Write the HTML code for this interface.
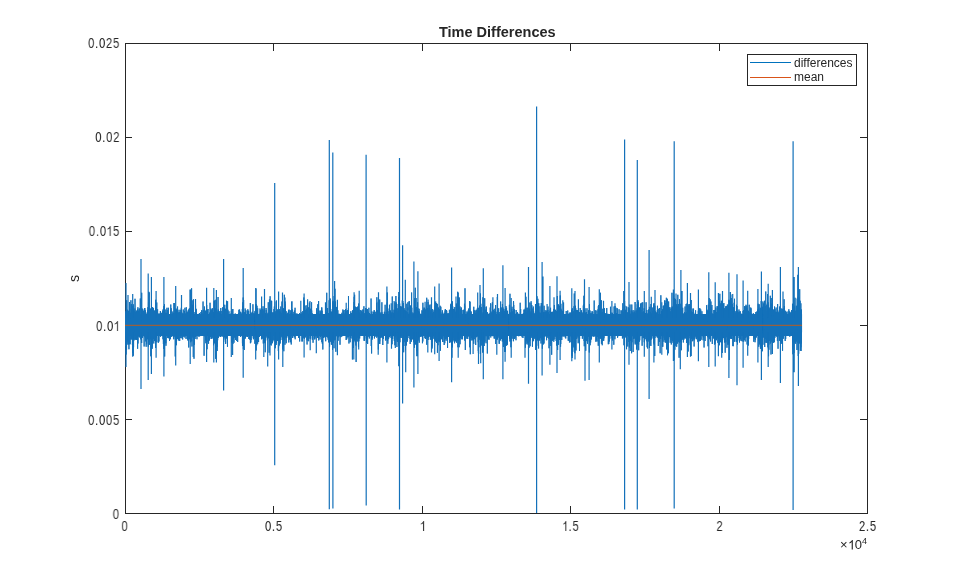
<!DOCTYPE html>
<html><head><meta charset="utf-8"><style>
html,body{margin:0;padding:0;background:#fff;width:959px;height:577px;overflow:hidden;position:relative}
.t{position:absolute;will-change:transform;font-family:"Liberation Sans",sans-serif;color:#262626;white-space:nowrap;line-height:1}
</style></head><body>
<svg width="959" height="577" viewBox="0 0 959 577" style="position:absolute;left:0;top:0">
<g stroke="#262626" stroke-width="1" fill="none" shape-rendering="crispEdges">
<path d="M125.5 43.5H867.5V513.5H125.5Z"/>
<path d="M125 137.5h7M125 231.5h7M125 325.5h7M125 419.5h7M860 137.5h7M860 231.5h7M860 325.5h7M860 419.5h7"/>
<path d="M273.5 513V506M273.5 44V51M422.5 513V506M422.5 44V51M570.5 513V506M570.5 44V51M719.5 513V506M719.5 44V51"/>
</g>
</svg>
<svg width="959" height="577" viewBox="0 0 959 577" style="position:absolute;left:0;top:0">
<rect x="125" y="314.0" width="677" height="22.0" fill="#1371BA"/>
<path transform="translate(125.5 0) scale(0.02968 0.25)" vector-effect="non-scaling-stroke" d="M0 1307l1 24 1-11 1-17 1-31 1 12 1 25 1-40 1 62 1-38 1 91 1-47 1-27 1-65 1 58 1 10 1-4 1 32 1-20 1-71 1 29 1 30 1 109 1-150 1 76 1-8 1 14 1-23 1 33 1-51 1-52 1 105 1-20 1-25 1-58 1 57 1 83 1-112 1 33 1-119 1 51 1 6 1 31 1 40 1 51 1-122 1 117 1-22 1-29 1-45 1 88 1-79 1-36 1 31 1 47 1-52 1-17 1 26 1 4 1 28 1 26 1-63 1 51 1 31 1-125 1 56 1 44 1-32 1 26 1 21 1-51 1-13 1 29 1 28 1-60 1 62 1-81 1 56 1-22 1 43 1-39 1-44 1 19 1 37 1-53 1 75 1-20 1-49 1 0 1 27 1 80 1-35 1-36 1-28 1 0 1 70 1-66 1 31 1 62 1-86 1 23 1 23 1-12 1-42 1-39 1 89 1-46 1-12 1 3 1 10 1 34 1-16 1 21 1 9 1-48 1 7 1 103 1-85 1-5 1 3 1 22 1-3 1-2 1 7 1 43 1-88 1-26 1 49 1-10 1-12 1-20 1-17 1 53 1-16 1-40 1 63 1 0 1-105 1 107 1-46 1 17 1-10 1-41 1 23 1 8 1 41 1 3 1-33 1 66 1-11 1-71 1 19 1 55 1-22 1-9 1-53 1 126 1-32 1-39 1-12 1 17 1-19 1 38 1-56 1 0 1 29 1-46 1 3 1 77 1-27 1 3 1-2 1-17 1-30 1 39 1-28 1 50 1-66 1 53 1-39 1 85 1-94 1 49 1-112 1 103 1-44 1 9 1-6 1 16 1-10 1 38 1 33 1-4 1-23 1-17 1 19 1-99 1 89 1 2 1-19 1-65 1 80 1-22 1 21 1 0 1-11 1-44 1 52 1 23 1-28 1 9 1 33 1 22 1-98 1 89 1-87 1 25 1 45 1-5 1-77 1-17 1 95 1-49 1-39 1 95 1-27 1-16 1-7 1 38 1-84 1-1 1 48 1-7 1 101 1-123 1 24 1 6 1 25 1-7 1 17 1-3 1 12 1-27 1-16 1 124 1-188 1 109 1-49 1 60 1-39 1-26 1-18 1 73 1-17 1-20 1 9 1-25 1-47 1 55 1 2 1 6 1-80 1 107 1 99 1-113 1-56 1 121 1-73 1-1 1 6 1-32 1-15 1 129 1-73 1-23 1-3 1 60 1 6 1 0 1-63 1-27 1 43 1-7 1 60 1-24 1-4 1-76 1 33 1 34 1-56 1-5 1 20 1-40 1 86 1 10 1-94 1 85 1 1 1-9 1 0 1-4 1-71 1 57 1-37 1 16 1 11 1 45 1-10 1-44 1 57 1-54 1-5 1 75 1-56 1 18 1-87 1 106 1-26 1 29 1-96 1 47 1-99 1 106 1 7 1 28 1-61 1-23 1 25 1-1 1 35 1 2 1-39 1-2 1 12 1 4 1 41 1-17 1-28 1 18 1 8 1-7 1-14 1 11 1-6 1 52 1 13 1-53 1-4 1 54 1 1 1-71 1 42 1-15 1 3 1-17 1 30 1-17 1 17 1-7 1 8 1-80 1 65 1-31 1-7 1 7 1-42 1 88 1-79 1 43 1 8 1 0 1-47 1 34 1 54 1-25 1 4 1 15 1-5 1-54 1 82 1-66 1 34 1-36 1 57 1-88 1-14 1 74 1-31 1 2 1 2 1 5 1 60 1-80 1 3 1 32 1-10 1-1 1 40 1-2 1-63 1-5 1 9 1 21 1-1 1 6 1 17 1-89 1 7 1 152 1-94 1 10 1-9 1-2 1-51 1 51 1 27 1-53 1-45 1 31 1 79 1-64 1 99 1-39 1-34 1-17 1 30 1-19 1 8 1-60 1 77 1 9 1-55 1 60 1-36 1 28 1-56 1-14 1 32 1-1 1 15 1 15 1 2 1-61 1 61 1-6 1-15 1-55 1 65 1 17 1-13 1-24 1-11 1 40 1 20 1-39 1 50 1-34 1-5 1-23 1 24 1 16 1-6 1-47 1-39 1 40 1 26 1 18 1 8 1-32 1 44 1-103 1 45 1 6 1 12 1-16 1 27 1-5 1-32 1 76 1-58 1 41 1-34 1 10 1-38 1 38 1 19 1 4 1-9 1-47 1 29 1 7 1 13 1-37 1 3 1 16 1 47 1-21 1-58 1-61 1-18 1 141 1-45 1 26 1 36 1-62 1 36 1 12 1-58 1-1 1 12 1 7 1-23 1 18 1 10 1-42 1 73 1-57 1 67 1 11 1-54 1-44 1 63 1-28 1 66 1-65 1 1 1-25 1 46 1-42 1 48 1-22 1-19 1 9 1 32 1 5 1-19 1 43 1-26 1 8 1-51 1 16 1 30 1-21 1-24 1 0 1 90 1-201 1 64 1 47 1-22 1 64 1 18 1-73 1 8 1 18 1 34 1-59 1 46 1-13 1 22 1-90 1 93 1-4 1-14 1 40 1-59 1 17 1-23 1 8 1-24 1 6 1 57 1-62 1 81 1-8 1-33 1-9 1-66 1 23 1 52 1-8 1 27 1-91 1 61 1-30 1 29 1 1 1-45 1 86 1-69 1 74 1-48 1-15 1 51 1-20 1-13 1-17 1-3 1 14 1-10 1 50 1-61 1 59 1-19 1-6 1-21 1 39 1-14 1-18 1 9 1 40 1-99 1 76 1-11 1-6 1-5 1 21 1-45 1-2 1 7 1-12 1 2 1 43 1 11 1-12 1-49 1 49 1-30 1 106 1-121 1 41 1-13 1-5 1 28 1 14 1-39 1 19 1-35 1 11 1 37 1-10 1-10 1-9 1-30 1 16 1 12 1-59 1 89 1-15 1-75 1 49 1-16 1 4 1 32 1-38 1 86 1-71 1 6 1 17 1 31 1-13 1-17 1 20 1-52 1 73 1-64 1 19 1 9 1-1 1-65 1 72 1-47 1 16 1 45 1-10 1-34 1-5 1-7 1 37 1-29 1 18 1 39 1-43 1 69 1-53 1-29 1 86 1-102 1 17 1 37 1 5 1-31 1-35 1 68 1-42 1 22 1 82 1-88 1 31 1-36 1-28 1 26 1 38 1-5 1-57 1 63 1-6 1-15 1-22 1 15 1-22 1-9 1 105 1-26 1-52 1 5 1 4 1-10 1-5 1 12 1-49 1 57 1-41 1 24 1-8 1 28 1-66 1 60 1 40 1-43 1 0 1 2 1-20 1 57 1-65 1 17 1-39 1 57 1-18 1-39 1 34 1-1 1 65 1-45 1 1 1-57 1 45 1-9 1-43 1 54 1-23 1 8 1 10 1-27 1 30 1-72 1 68 1-57 1 43 1-7 1 33 1 12 1-1 1-47 1 6 1 44 1-56 1 120 1-86 1 25 1-61 1 57 1-47 1-51 1-15 1 113 1-82 1 64 1 65 1-63 1 46 1-57 1-64 1 93 1-29 1-128 1 147 1 7 1 0 1-56 1 70 1-60 1-5 1 49 1 3 1-53 1 69 1-87 1 60 1 2 1 25 1-168 1 111 1 0 1 21 1-34 1 72 1-41 1 32 1 6 1 42 1-121 1 27 1 8 1 22 1 15 1-40 1 72 1-112 1 66 1-14 1-25 1 4 1 34 1-39 1 47 1-8 1-74 1 64 1-25 1 30 1-24 1-1 1 58 1-14 1-83 1 103 1-115 1 68 1-62 1 59 1 7 1 23 1 26 1-26 1-66 1 60 1-49 1 21 1 21 1 33 1 76 1-108 1 3 1-56 1 20 1 8 1 36 1-17 1 2 1-19 1 8 1-2 1-7 1 14 1-14 1-12 1 62 1-41 1-39 1 57 1-19 1-5 1-52 1 51 1 31 1-37 1 23 1 5 1 44 1-5 1-44 1 10 1-75 1 142 1-117 1-40 1 58 1 9 1 5 1-5 1-42 1 112 1-105 1-25 1 19 1 129 1-118 1 106 1-142 1 101 1 61 1-138 1 94 1-66 1 27 1-50 1 3 1 39 1-18 1 42 1-55 1 3 1-19 1-29 1 88 1 11 1-16 1-4 1-17 1-2 1 65 1-47 1 1 1-54 1 16 1-21 1 41 1 23 1-4 1 16 1-33 1 28 1 37 1-49 1-14 1 3 1-27 1 8 1-43 1 94 1-13 1-39 1-15 1-29 1 81 1 10 1-53 1 3 1 60 1-56 1 15 1 11 1 71 1-86 1 21 1-2 1 9 1-57 1 50 1-26 1 8 1 33 1-2 1-49 1 20 1 15 1-34 1 41 1-21 1-33 1 41 1-29 1 2 1 57 1-54 1-36 1 94 1-29 1 38 1-61 1 80 1-44 1-47 1 34 1-62 1-1 1 77 1-42 1 68 1-67 1 4 1 7 1-10 1 1 1 22 1 14 1-36 1 2 1 6 1-38 1 59 1 28 1-25 1 0 1-34 1 35 1 2 1 49 1-58 1-8 1 46 1-87 1-8 1 50 1-69 1 160 1-95 1-98 1 116 1 3 1-9 1 30 1-37 1-26 1 39 1 6 1-25 1-24 1 78 1-68 1-20 1 54 1-50 1 80 1 3 1-88 1 28 1 34 1 24 1 5 1-114 1 111 1-37 1-9 1-22 1 5 1 16 1-5 1 26 1-3 1-49 1-21 1 65 1-105 1 104 1-5 1 60 1-57 1-23 1 44 1-61 1 28 1-27 1-1 1 69 1-54 1 7 1 11 1-7 1 38 1-41 1 37 1-63 1 46 1-35 1 21 1-33 1 39 1-27 1-1 1 63 1-105 1 88 1 10 1-70 1-12 1 14 1 39 1-25 1 20 1-13 1 56 1-41 1-33 1 32 1-27 1 11 1-1 1-18 1 70 1-30 1 7 1-57 1 51 1-40 1 17 1-11 1 97 1-116 1 85 1-21 1-38 1 61 1-34 1-21 1 25 1-3 1 11 1-64 1 31 1 58 1-15 1-10 1-54 1 55 1 1 1-36 1 80 1-35 1-41 1-33 1 56 1-43 1-3 1 35 1 1 1 16 1-50 1-4 1 50 1 15 1-12 1-19 1-4 1-28 1 48 1-19 1 18 1-40 1 2 1 18 1 46 1-86 1 56 1-25 1-10 1 15 1 2 1 18 1-9 1-7 1-6 1 21 1-26 1-5 1 28 1-18 1 27 1-47 1 3 1 19 1-29 1 45 1-4 1-58 1 66 1 3 1 19 1-14 1 17 1 9 1 3 1-42 1 30 1-48 1 37 1-57 1-4 1 62 1-33 1-11 1 1 1 48 1-13 1-18 1 0 1-10 1 3 1 12 1 16 1 14 1-83 1 74 1-57 1 63 1-38 1-8 1-11 1 47 1-37 1 32 1-21 1-43 1 34 1 4 1 16 1 27 1-66 1 52 1 14 1-26 1-34 1 47 1-15 1 16 1-17 1-21 1-9 1-17 1 86 1-42 1-8 1 14 1-4 1-35 1 26 1 20 1-32 1 8 1 1 1-16 1 11 1 18 1-4 1-18 1 26 1-61 1 22 1 11 1 44 1 1 1-52 1 24 1-3 1-46 1 27 1 33 1-42 1 74 1-96 1 63 1 20 1 21 1 9 1-111 1-5 1 4 1 67 1-75 1 80 1-20 1 15 1-19 1 17 1-58 1 81 1 43 1-61 1-2 1 55 1-50 1 22 1 7 1-54 1 28 1-65 1 73 1-47 1 31 1-62 1 74 1 71 1-106 1-52 1-14 1 149 1-88 1 25 1-51 1 24 1-8 1-44 1 61 1 1 1 44 1-11 1-62 1 59 1-51 1 13 1-21 1 76 1-38 1-85 1 136 1-36 1-77 1 98 1-4 1 92 1-77 1-53 1 16 1 14 1-36 1 10 1-20 1-4 1 48 1-2 1-40 1 29 1-60 1 56 1-37 1 78 1-61 1 20 1-41 1 56 1-47 1 21 1-39 1 39 1 44 1 31 1-85 1 47 1 9 1-29 1-23 1 63 1 4 1-50 1 23 1-17 1-35 1 95 1-135 1 40 1 34 1 32 1 39 1-121 1 70 1-50 1 28 1 20 1-6 1 6 1-16 1-30 1-33 1 37 1 9 1 47 1-50 1 48 1-23 1-33 1 55 1-14 1-35 1 13 1 4 1-13 1 47 1-55 1 40 1-24 1 30 1-21 1 10 1-56 1 28 1-45 1-19 1 25 1 32 1-36 1 12 1 21 1 3 1 10 1-12 1 47 1-62 1 45 1-21 1-11 1 8 1-12 1 42 1 2 1 10 1-71 1 35 1 17 1-3 1-20 1 34 1 26 1-49 1-1 1-62 1 81 1-43 1 24 1-40 1 53 1 25 1-25 1-20 1-8 1 22 1-19 1 19 1-30 1 11 1-14 1 28 1 22 1-41 1-54 1 122 1-61 1-31 1 21 1 2 1-5 1 47 1-53 1 55 1-44 1 6 1-19 1 40 1 7 1-3 1-25 1-5 1 31 1-17 1 53 1-84 1 29 1-16 1 2 1-20 1 48 1-3 1 20 1-18 1 18 1 24 1-51 1-17 1 62 1-30 1 25 1-39 1-44 1 106 1-70 1-9 1 30 1-7 1-11 1 33 1-10 1-11 1-6 1 5 1-5 1-41 1 35 1 14 1-23 1 10 1 17 1-9 1-2 1 22 1 21 1-34 1 10 1-44 1 6 1 25 1-13 1 46 1-13 1-34 1 19 1 1 1 41 1-55 1 26 1-45 1 17 1 18 1-2 1-14 1-6 1-38 1-40 1 82 1 6 1 17 1-23 1-28 1 41 1 15 1-45 1 15 1-16 1-7 1 40 1-30 1-52 1 68 1 14 1-19 1 8 1-30 1 30 1 12 1-43 1 7 1 67 1-29 1-36 1 49 1-18 1-3 1-49 1 48 1-19 1 6 1 22 1-17 1 4 1 19 1-13 1-7 1 30 1-19 1-27 1 29 1-3 1 9 1 22 1-53 1-18 1 57 1-29 1 12 1-29 1 8 1-30 1 47 1-6 1-3 1-17 1 7 1-21 1 20 1 5 1-18 1 41 1-25 1 38 1-74 1 61 1-72 1 91 1-48 1 8 1-44 1 11 1 56 1-21 1-23 1-8 1-3 1 7 1 26 1 47 1-8 1-21 1-43 1-11 1 1 1 15 1 16 1-17 1 26 1-47 1 37 1-20 1 19 1 36 1 10 1 19 1-17 1-21 1-3 1-36 1 35 1-40 1 23 1 23 1-18 1-51 1 35 1 30 1-105 1 37 1 10 1-47 1 112 1-17 1-4 1-44 1 13 1-8 1 46 1 32 1-53 1-22 1 41 1-7 1 0 1 0 1-21 1 43 1-19 1-45 1 82 1-44 1-4 1 22 1-9 1 32 1 7 1-47 1 24 1-11 1-45 1 2 1 34 1 0 1-12 1 58 1-57 1 135 1-154 1 27 1 58 1-92 1 85 1-39 1 9 1-34 1 11 1-8 1-39 1 64 1-40 1 26 1-7 1 16 1-14 1-57 1 35 1 25 1 50 1-63 1 7 1 36 1 3 1-97 1 16 1 8 1 9 1 67 1-71 1 43 1 44 1-20 1-10 1-15 1 5 1 71 1-63 1 24 1-50 1 13 1-66 1 32 1 27 1 29 1 9 1-9 1-12 1-19 1-50 1 26 1-6 1-15 1 32 1-10 1 13 1 16 1 5 1-54 1 63 1-55 1 70 1-30 1 52 1-62 1-12 1 24 1-8 1 7 1-4 1-48 1 38 1 25 1 11 1-3 1 14 1-109 1 73 1 6 1 39 1-59 1 42 1 29 1-55 1 7 1 7 1 30 1-56 1 32 1 20 1-9 1-29 1 53 1-31 1 2 1 1 1-15 1-30 1 16 1-10 1 3 1 15 1 55 1-70 1 5 1-16 1-18 1 19 1-18 1 20 1 3 1-37 1 33 1 11 1-13 1 37 1 7 1-39 1 37 1-52 1 61 1-18 1 12 1-24 1 1 1-27 1-37 1 44 1 19 1-10 1 44 1-85 1 25 1 47 1 17 1-60 1-27 1 82 1-23 1-16 1 31 1 7 1-18 1-8 1 19 1-57 1 30 1 1 1 63 1-95 1 3 1 62 1-86 1 51 1-21 1 22 1-1 1-14 1 51 1-43 1 28 1 4 1-4 1 15 1-21 1-6 1 43 1-41 1-20 1 43 1-56 1 48 1-39 1 43 1-53 1-9 1 28 1 6 1 24 1-15 1 6 1-33 1 9 1 34 1-56 1 23 1-55 1 78 1-7 1-21 1 42 1-25 1-15 1-13 1-28 1 45 1 4 1-40 1 27 1 29 1 23 1 15 1-122 1 86 1-3 1 7 1-14 1 26 1-33 1 17 1-9 1 11 1-62 1 18 1 27 1-12 1 13 1-7 1-18 1 18 1 30 1-6 1-59 1 22 1 15 1 1 1-13 1 42 1-16 1-10 1-28 1-23 1 52 1 9 1-13 1-19 1 62 1-28 1-8 1 18 1-30 1 23 1 7 1-36 1-5 1 22 1-4 1-27 1 84 1-43 1 1 1-24 1 18 1-12 1-7 1-16 1 69 1-30 1 16 1-52 1-18 1 60 1-21 1 49 1-26 1-8 1 19 1-82 1-13 1 11 1 33 1 46 1-63 1 13 1 33 1-32 1 29 1 9 1-25 1-7 1 11 1-8 1 2 1 0 1-7 1 32 1 23 1-47 1-11 1 25 1-30 1-7 1 50 1 20 1-42 1-19 1 30 1-5 1-27 1-1 1 33 1-8 1-29 1 38 1-15 1 14 1-63 1 28 1 17 1 29 1-49 1 28 1 7 1-1 1 16 1-20 1 9 1-55 1 58 1-24 1 63 1-33 1 28 1-29 1-10 1-75 1 63 1-7 1-16 1 38 1-35 1 23 1 9 1 11 1-42 1 39 1 4 1-41 1 29 1-39 1 24 1 1 1 14 1 5 1-3 1 14 1-7 1 11 1-6 1-32 1 28 1-21 1 3 1 2 1-27 1 50 1-35 1 20 1-28 1 39 1 18 1-40 1 59 1-83 1 48 1 11 1-69 1 32 1-44 1 18 1-40 1 97 1-7 1-4 1-63 1 64 1-10 1-6 1-21 1 37 1-4 1-34 1 17 1-24 1 14 1 19 1 4 1-28 1 2 1 18 1 22 1-2 1-11 1-26 1 27 1 17 1-15 1-16 1 3 1-26 1 50 1-22 1 0 1-5 1 2 1 15 1-63 1 55 1 47 1-47 1-1 1 1 1 17 1-17 1 0 1-23 1-28 1 73 1-45 1-7 1 2 1 46 1 35 1-42 1-34 1-33 1 43 1-5 1 75 1-119 1-1 1 64 1 6 1 5 1-28 1-12 1 22 1 30 1 33 1-66 1-43 1 77 1-39 1-4 1 36 1-2 1-42 1 28 1 32 1-101 1 62 1-15 1 20 1 85 1-103 1 58 1-40 1 30 1-7 1-39 1 20 1 31 1-5 1-1 1-41 1 5 1-2 1 8 1-60 1 61 1 23 1-11 1-42 1-38 1-4 1 64 1 13 1-36 1 24 1-29 1 79 1-76 1 48 1-9 1 46 1-67 1 11 1 15 1-25 1-22 1 54 1-5 1 38 1-27 1-35 1 14 1-5 1-19 1-20 1 17 1-1 1-10 1 31 1-7 1 13 1-148 1 120 1 59 1 25 1-97 1 31 1 27 1-28 1 1 1-19 1 46 1-13 1-18 1 76 1-121 1-17 1 80 1-29 1 66 1-45 1-1 1-8 1-35 1 2 1 100 1-88 1 8 1-53 1 58 1-34 1 38 1-30 1-11 1 63 1 7 1-30 1-28 1-12 1-7 1 122 1-55 1 44 1-57 1 20 1-163 1 178 1-33 1-17 1 84 1-82 1 32 1-27 1 8 1 20 1-58 1 50 1 78 1-32 1-93 1 43 1 18 1-14 1 2 1-31 1 49 1-57 1-38 1 94 1-97 1 43 1 6 1-60 1 81 1 34 1 7 1-30 1-50 1-16 1 94 1-37 1 23 1-31 1-14 1 30 1 31 1-36 1 4 1 18 1-66 1 89 1-148 1 96 1 20 1-44 1 34 1-55 1 58 1-25 1 10 1 17 1 32 1-39 1-24 1 40 1-68 1-25 1-32 1 92 1 53 1-84 1 78 1 5 1-15 1-5 1-9 1 9 1-23 1 30 1-47 1 32 1 5 1 1 1 34 1-21 1 11 1 92 1-92 1-18 1 4 1 12 1-58 1 20 1 7 1-41 1 17 1 93 1-70 1-34 1 61 1-33 1 16 1 15 1-2 1-41 1 27 1-20 1-4 1 26 1-49 1 32 1 41 1-40 1 17 1 5 1 21 1-89 1 42 1-10 1-7 1-3 1-32 1 71 1 37 1-53 1 15 1-12 1 6 1-14 1 6 1 4 1-57 1 69 1-25 1-35 1 28 1-33 1 20 1-56 1 53 1 30 1-37 1 83 1-51 1 0 1 7 1 21 1-34 1 32 1-16 1-4 1-16 1 20 1-72 1 96 1-30 1-30 1-34 1 37 1 55 1-25 1 8 1-57 1 27 1-11 1 67 1-75 1 21 1 41 1-32 1 7 1 29 1-12 1-62 1 47 1 14 1-31 1 36 1 18 1-38 1 1 1 27 1-1 1-34 1 22 1 8 1 33 1-67 1 28 1-2 1-36 1 22 1 14 1-3 1-4 1 13 1 12 1-48 1 2 1 6 1 19 1-39 1 44 1-24 1 45 1-14 1-18 1-3 1-6 1-16 1-3 1-15 1 55 1-21 1 22 1-9 1-21 1 0 1 28 1-32 1 8 1-2 1-31 1 34 1-8 1-11 1 15 1 25 1-20 1 3 1-27 1 15 1 28 1-13 1-19 1 11 1 11 1-46 1 58 1-7 1-6 1-5 1-19 1 48 1-37 1 4 1 25 1-25 1 31 1-25 1-1 1 47 1-53 1 17 1-8 1 20 1-14 1-14 1-6 1 12 1 32 1-39 1 25 1 6 1-21 1-2 1 19 1-29 1-40 1 65 1-30 1 23 1-17 1-7 1 35 1-27 1 12 1-15 1 54 1-34 1-45 1 40 1 21 1 4 1-29 1-38 1 40 1-26 1 1 1 25 1 2 1 7 1-18 1 31 1-30 1-15 1 13 1 20 1-22 1-5 1-3 1 23 1 25 1 10 1-39 1-39 1 41 1-25 1 12 1 32 1-41 1-24 1 44 1 6 1-9 1 19 1-22 1-11 1 46 1-24 1-60 1 61 1-29 1 48 1-16 1-11 1 21 1-14 1 14 1-30 1 23 1 27 1-57 1 21 1-40 1 9 1-15 1 57 1-36 1-6 1 27 1 11 1 12 1-47 1 15 1 12 1 7 1-68 1 42 1-46 1 40 1 26 1-1 1 3 1-14 1 6 1-48 1 60 1-24 1-19 1 25 1 30 1-39 1 17 1-8 1-34 1 7 1-1 1 28 1 8 1-43 1 43 1-29 1 42 1-41 1-6 1 27 1-20 1 60 1-2 1-61 1 58 1-15 1 5 1-24 1-21 1 59 1 10 1-43 1-10 1-75 1-10 1 89 1-11 1 36 1-8 1-16 1-18 1 4 1 12 1 14 1 1 1-21 1 3 1-14 1 34 1-10 1-45 1 51 1 5 1-36 1 6 1 24 1 6 1-30 1 24 1-16 1 2 1 22 1-75 1 68 1-3 1 16 1-62 1 18 1 17 1 130 1-102 1-1 1 12 1-28 1-17 1 6 1 21 1 8 1-22 1-38 1 39 1-75 1 94 1-31 1 21 1 23 1-11 1-43 1 22 1-4 1-13 1-14 1 54 1-56 1 8 1 36 1-26 1 19 1-32 1 34 1 5 1 12 1 21 1-51 1-2 1-23 1 36 1-35 1-9 1 17 1 7 1 34 1 26 1-57 1-25 1 72 1-91 1 41 1 26 1 6 1 0 1-24 1-35 1 15 1 31 1 58 1-43 1 54 1-112 1 19 1 7 1 64 1-95 1 74 1-56 1-33 1 58 1 3 1 37 1-51 1 12 1-21 1 20 1 28 1-63 1 29 1 3 1-57 1 47 1 17 1-48 1 65 1-34 1-31 1 38 1 30 1-103 1 65 1 24 1-1 1-65 1 24 1 44 1-30 1 55 1-27 1 1 1-17 1-8 1 112 1-115 1 33 1-77 1 0 1 58 1 21 1-41 1-17 1-14 1 31 1-20 1-16 1 16 1 40 1 45 1-61 1-22 1 53 1 24 1-63 1 48 1-23 1-40 1 26 1 27 1-41 1 16 1 19 1-12 1 14 1-20 1 45 1-95 1 81 1 51 1-25 1-48 1-8 1 47 1-25 1 4 1 17 1-32 1 7 1 1 1-23 1-6 1 53 1-42 1 45 1 42 1-89 1 26 1 27 1-17 1-26 1 24 1-35 1-1 1 50 1-14 1-5 1 14 1-64 1 35 1 13 1-8 1-34 1 26 1 23 1 7 1 6 1-37 1-34 1 17 1-8 1 23 1 1 1 16 1-17 1 6 1 62 1-35 1-24 1-7 1 9 1-41 1 36 1 14 1 7 1-12 1-29 1-30 1 11 1-1 1 70 1-26 1 18 1-58 1 35 1-88 1 36 1 51 1 12 1 36 1-17 1-9 1-12 1-26 1 42 1-13 1-42 1 43 1 2 1 34 1-51 1-2 1-2 1 24 1-12 1-1 1 2 1-36 1-27 1 81 1 14 1-47 1 16 1 4 1-77 1 74 1-21 1 6 1-38 1 36 1 32 1 33 1-102 1 72 1-6 1-29 1-5 1 5 1 63 1-45 1-2 1 21 1-42 1-2 1-12 1-11 1 38 1 43 1-32 1-10 1 2 1 2 1-4 1 40 1-102 1 36 1 40 1-8 1 6 1-13 1-18 1-17 1 65 1-29 1 47 1-88 1 46 1-1 1 22 1-24 1-5 1 23 1 20 1-75 1 60 1-92 1 112 1-62 1 35 1-38 1 16 1-18 1 24 1 7 1 2 1-20 1 63 1-50 1 9 1 12 1-20 1 17 1 15 1-19 1-52 1 11 1-16 1 34 1 0 1 21 1-3 1-18 1 42 1-36 1 18 1-16 1 18 1-35 1-13 1-25 1 49 1-16 1 55 1-49 1 94 1-88 1 5 1-19 1 50 1-50 1-2 1 77 1-58 1 15 1-31 1-14 1 54 1-27 1 56 1 12 1-63 1 1 1-79 1-16 1 105 1-3 1-21 1-14 1 31 1 14 1 57 1-63 1-22 1 13 1-30 1-22 1 25 1-72 1 110 1-43 1 14 1 39 1 21 1-50 1-23 1 6 1 68 1-87 1 74 1-20 1-13 1-1 1-7 1 1 1 33 1 1 1-45 1-38 1 74 1-44 1 75 1-13 1 41 1-59 1-44 1 7 1 15 1 40 1-100 1 91 1 110 1-102 1 11 1-34 1-60 1 15 1-4 1-11 1 130 1-68 1-113 1 130 1 5 1-30 1 18 1-20 1-21 1 0 1 14 1-42 1 62 1-19 1 18 1-37 1 21 1-42 1 108 1-119 1 125 1-44 1-6 1-79 1 36 1 20 1-51 1-10 1 33 1 80 1-73 1 36 1-54 1 6 1 32 1 48 1-6 1-17 1-53 1-20 1 40 1 55 1-5 1 2 1-39 1 40 1-82 1 145 1-121 1 61 1-66 1 43 1-59 1 64 1-29 1-11 1 101 1-111 1 76 1-5 1-17 1-37 1 8 1 16 1 44 1-114 1 54 1 17 1 21 1-64 1-19 1 42 1 31 1-17 1-65 1 88 1-147 1 114 1 42 1-51 1 7 1 32 1-93 1 70 1-21 1 5 1-3 1 62 1-68 1-17 1 58 1-8 1-29 1-49 1 7 1 38 1 19 1-20 1 3 1 49 1-44 1 37 1-21 1-34 1 29 1 46 1-30 1-50 1 17 1 16 1-9 1 14 1 10 1 15 1-86 1 43 1 26 1-47 1 68 1-82 1 65 1-52 1 65 1-12 1-30 1 17 1 17 1-40 1 14 1-31 1-10 1 36 1-17 1 0 1 58 1-38 1 2 1 39 1-24 1 8 1 4 1-72 1 79 1-59 1 45 1-54 1 78 1-69 1-28 1 47 1 3 1-8 1 17 1-14 1 9 1-5 1 36 1-26 1 0 1-52 1 40 1 57 1-37 1-4 1-13 1-33 1 0 1 50 1 20 1-99 1 58 1 16 1-3 1-35 1 22 1 14 1 13 1-24 1-18 1 25 1-14 1-17 1 46 1-21 1 13 1-15 1 33 1-31 1-28 1 37 1-21 1 21 1-9 1-29 1 32 1-36 1 66 1-33 1 31 1-69 1 41 1 8 1-29 1 39 1 15 1-86 1 49 1 6 1-27 1 38 1-8 1-17 1 0 1 62 1-18 1-72 1 50 1-2 1-14 1-14 1 52 1 12 1-38 1-17 1 6 1 5 1-5 1 28 1-38 1-3 1-6 1-44 1 75 1-40 1 27 1-38 1 36 1 10 1 20 1-24 1 23 1 12 1-17 1 22 1-35 1-11 1 8 1 34 1-35 1-8 1 26 1 31 1-46 1 22 1-53 1-4 1-7 1 36 1 24 1-13 1-30 1-10 1 49 1 16 1-19 1-22 1 79 1-39 1-62 1 50 1-18 1 60 1-67 1-12 1-8 1 21 1-20 1 5 1 35 1 35 1-116 1 63 1-13 1 69 1-40 1 2 1 0 1 3 1-14 1 1 1-69 1 45 1 28 1 21 1-19 1-15 1-15 1-2 1-3 1 12 1 36 1-49 1 56 1-109 1 125 1-50 1 3 1 15 1 15 1 6 1-49 1 44 1-66 1 48 1-14 1-36 1 59 1-46 1 17 1 20 1 21 1-48 1 5 1 28 1 22 1-55 1-48 1 84 1-34 1-6 1 92 1-119 1 33 1 91 1-40 1-38 1-5 1-27 1 26 1 10 1-15 1-15 1 0 1 26 1-3 1 14 1-11 1-2 1 25 1-30 1 21 1-44 1 57 1-12 1 19 1-44 1 46 1-28 1 48 1-88 1 29 1-13 1-79 1 102 1 3 1-2 1-30 1 10 1-22 1 62 1-18 1-35 1-20 1 16 1 16 1 22 1 26 1 0 1-24 1 3 1-18 1-2 1 4 1-3 1 36 1-26 1 7 1-31 1 8 1 6 1 11 1-15 1 44 1-19 1 73 1-68 1-4 1-26 1-84 1 108 1-17 1-10 1 2 1 0 1 6 1 19 1-42 1 32 1-7 1 22 1-79 1 105 1-87 1 34 1 15 1-45 1 27 1-10 1-7 1 24 1 36 1-7 1 5 1-5 1-17 1 11 1-3 1-2 1-43 1 13 1 0 1-8 1 0 1 11 1 9 1 28 1-31 1-21 1-2 1 75 1-50 1 37 1-27 1-14 1 4 1-49 1 68 1-35 1 32 1-2 1-31 1-2 1 32 1 11 1-27 1 26 1-2 1 4 1-27 1-1 1 11 1-1 1-3 1 35 1 10 1-16 1 2 1-22 1-28 1 24 1-13 1-29 1 36 1-11 1 30 1-23 1 28 1 2 1-28 1 27 1-48 1 49 1-4 1-13 1 3 1-29 1 31 1-46 1 2 1 11 1 2 1 10 1 39 1 8 1-52 1 10 1 42 1-22 1-35 1 41 1-15 1-13 1 17 1-26 1 44 1-60 1 66 1-48 1 1 1 16 1-21 1 11 1 36 1-1 1-33 1 2 1 3 1 18 1-47 1 27 1 4 1-50 1 67 1-46 1 31 1-60 1 81 1-32 1 22 1-25 1 50 1-59 1 10 1-10 1 30 1-22 1-29 1 63 1-28 1 19 1 41 1 15 1-10 1 9 1-45 1-22 1-4 1 18 1-79 1 69 1-53 1 75 1-34 1 3 1 4 1 60 1-71 1 40 1-39 1 4 1-5 1 3 1 2 1 5 1 25 1-29 1 26 1 98 1-104 1 0 1-13 1 40 1-44 1 11 1-7 1 5 1-72 1 52 1 88 1-59 1-26 1 12 1 11 1-29 1 30 1-13 1-22 1 45 1-62 1 21 1-21 1 14 1 21 1-6 1 16 1 7 1-22 1-9 1 70 1-57 1 3 1 19 1-8 1-36 1-2 1 17 1-30 1 71 1-27 1-11 1-4 1 35 1 2 1 45 1-74 1-2 1 27 1-9 1-4 1 4 1-2 1-17 1 1 1 0 1-12 1 30 1-16 1 4 1-19 1 15 1-1 1 54 1-11 1-28 1-54 1 59 1-57 1 59 1 27 1-68 1-3 1 34 1-34 1 14 1-17 1 27 1 16 1 28 1-48 1-32 1 42 1-10 1-20 1 40 1-8 1-52 1 53 1 2 1 12 1-16 1 4 1-4 1-17 1 1 1 38 1-50 1 47 1 36 1-21 1-43 1-6 1 22 1-32 1 25 1 31 1-44 1-22 1 76 1-43 1 10 1-28 1-2 1 1 1 27 1-7 1 6 1-5 1-26 1 36 1-43 1 16 1 2 1 20 1 20 1-52 1-19 1 38 1 36 1-31 1-29 1 11 1 3 1-9 1 2 1 36 1-2 1 50 1-71 1 26 1-40 1 31 1 6 1-26 1-27 1 12 1 25 1 11 1 2 1-29 1 19 1-6 1-8 1 11 1 17 1 2 1-19 1-22 1 5 1 26 1 16 1-35 1-5 1-5 1 22 1-11 1-1 1-3 1 81 1-74 1 14 1-6 1 8 1 31 1-26 1-9 1 20 1-15 1-26 1 11 1 30 1-30 1 21 1-23 1 4 1 28 1-26 1 11 1-47 1 57 1 12 1-40 1 50 1-80 1 51 1-16 1-46 1 75 1-15 1-35 1-11 1 43 1 9 1-20 1 1 1-2 1-8 1-6 1-15 1-29 1 57 1-16 1 17 1 19 1-53 1 56 1-15 1 20 1-14 1-5 1-4 1-19 1 31 1-19 1 14 1-7 1 11 1-42 1 33 1-11 1-33 1 31 1 1 1-53 1 62 1 19 1 20 1-21 1-61 1 37 1 7 1-15 1 42 1-38 1-12 1 14 1 11 1-10 1-17 1 10 1-17 1 26 1 2 1 23 1-37 1-8 1 64 1-15 1 1 1-30 1 42 1-50 1 37 1-24 1-53 1 44 1 47 1-3 1 13 1-29 1 6 1-43 1-7 1 19 1 30 1-17 1-35 1 21 1-13 1-11 1 67 1-34 1 8 1-8 1-30 1 9 1 32 1-26 1-19 1 36 1 2 1-41 1 24 1-9 1 56 1-33 1-23 1 32 1 6 1-41 1 18 1-2 1-3 1 35 1 3 1-8 1-12 1 21 1-58 1 13 1 23 1-57 1 40 1 24 1-14 1-40 1 25 1 15 1 0 1 7 1 13 1 5 1-51 1 41 1-19 1-60 1 2 1 64 1-7 1 78 1-58 1 69 1-144 1 100 1-11 1 1 1 1 1-107 1 73 1 17 1 9 1 36 1-103 1-4 1 117 1-160 1 73 1-10 1 6 1 53 1-19 1-37 1 46 1-95 1-36 1 121 1-41 1 41 1 45 1-32 1-13 1 85 1-133 1 71 1-48 1 87 1-74 1-13 1 71 1-157 1 125 1-44 1 15 1 13 1-28 1-15 1 4 1 6 1 30 1-24 1 0 1 69 1-57 1 50 1-31 1-61 1 71 1-1 1-36 1 114 1-76 1-4 1 5 1-28 1-16 1 41 1 9 1-51 1 16 1 6 1 54 1 0 1-68 1-37 1 87 1-88 1 46 1-2 1 30 1-12 1-62 1 67 1-58 1 27 1 30 1-23 1 53 1-33 1 13 1 18 1-43 1-67 1 64 1 8 1 10 1-22 1-14 1 27 1 15 1-13 1-5 1 50 1-46 1-16 1 14 1 4 1-8 1 7 1-35 1 28 1 5 1-36 1 46 1 26 1-38 1-64 1 53 1 1 1 9 1 17 1-57 1 42 1 35 1-27 1-11 1 19 1-19 1-3 1 12 1 24 1-42 1 12 1-9 1-20 1 35 1-29 1 30 1-1 1-27 1-11 1-13 1 85 1-54 1 37 1-52 1 43 1-35 1 3 1 32 1-7 1 3 1-9 1-21 1 36 1-4 1-52 1 5 1 56 1-8 1-13 1-4 1 21 1 25 1-29 1-76 1 71 1 32 1-52 1 11 1-12 1 28 1-17 1 19 1-51 1 17 1-2 1 27 1-28 1 51 1-6 1-3 1-91 1 85 1 14 1-25 1 5 1-3 1 21 1-35 1-12 1 6 1-6 1-12 1 21 1-19 1 13 1 20 1-4 1 20 1-46 1 35 1-9 1-20 1-23 1 44 1 7 1-28 1-30 1 47 1-60 1 70 1-30 1 43 1-4 1 34 1-55 1-15 1 39 1-55 1 30 1 11 1 15 1-41 1 23 1-32 1 3 1 32 1-13 1 28 1-7 1-21 1 7 1 1 1-34 1-6 1 30 1-18 1 8 1 12 1 60 1-60 1-10 1 14 1-17 1-1 1 43 1-38 1 10 1 15 1-14 1-25 1 32 1 18 1-32 1 33 1-56 1 51 1-23 1 15 1 1 1-38 1-4 1-6 1 16 1-70 1 58 1 29 1 74 1-94 1-22 1 35 1 20 1-14 1-12 1 35 1-62 1 38 1 16 1 0 1-21 1-3 1 12 1 7 1 62 1-96 1 63 1-29 1-19 1 28 1-3 1 46 1-79 1 34 1-29 1 34 1-47 1-22 1 52 1 17 1-6 1-30 1 36 1-10 1 0 1 11 1-32 1 22 1 4 1-6 1-33 1 47 1-20 1 5 1-37 1 41 1-30 1 37 1-23 1 14 1-15 1-4 1 31 1-38 1 22 1-14 1 13 1 22 1 9 1-49 1-33 1-7 1 26 1-4 1 23 1 11 1-38 1 54 1-18 1-14 1 16 1 5 1-3 1 6 1-22 1 30 1-37 1-22 1 60 1 9 1-17 1-2 1-35 1 12 1-70 1 93 1-14 1 7 1 4 1-10 1-9 1 19 1 24 1 1 1-64 1 83 1-11 1-28 1-18 1-39 1 102 1-78 1 24 1 0 1 24 1-12 1 15 1 21 1-26 1-61 1 41 1 11 1-31 1 33 1-50 1 85 1-50 1-14 1-37 1 50 1-14 1 12 1 22 1-35 1-20 1 75 1-70 1 11 1 17 1-42 1 54 1-29 1 15 1 44 1-34 1-18 1-1 1 48 1-34 1-8 1 14 1-9 1-33 1 47 1-1 1-33 1 27 1 31 1 37 1-82 1-48 1 50 1-13 1 25 1-14 1-22 1 29 1-10 1-22 1-7 1 24 1 35 1-54 1 2 1 46 1-13 1-58 1 14 1 50 1-25 1 4 1-28 1 66 1-4 1 18 1 18 1-139 1 121 1-25 1-5 1-64 1 56 1-19 1-9 1 54 1-80 1-3 1 55 1-5 1-6 1 35 1-13 1 38 1 55 1-110 1-75 1 41 1 29 1 19 1-35 1 36 1-23 1-3 1-53 1 89 1-82 1 95 1-10 1-32 1-32 1 95 1-13 1-63 1 106 1-99 1 54 1-94 1 62 1-1 1-21 1-59 1 88 1-14 1 53 1-70 1 30 1-1 1 10 1 12 1 22 1-68 1 7 1 30 1-64 1 45 1 13 1-13 1-4 1-28 1 3 1 4 1 42 1-44 1 99 1-142 1 61 1 7 1-23 1-5 1 14 1 7 1 2 1 23 1-23 1 30 1-19 1-23 1-10 1 64 1-17 1 40 1-95 1 67 1 8 1-31 1 6 1-4 1 28 1-76 1-4 1 42 1 2 1 7 1 9 1 48 1-88 1 22 1-5 1 5 1 6 1-26 1-8 1 25 1 48 1-65 1 15 1 48 1-36 1 18 1-14 1-32 1 44 1-44 1 48 1-31 1-13 1 3 1 12 1 48 1-93 1 21 1 25 1 32 1 10 1-67 1 50 1-19 1 1 1-43 1 7 1 44 1-6 1-30 1 16 1 13 1-11 1-31 1 37 1-41 1 42 1 12 1-47 1 21 1-57 1 32 1 54 1 2 1-37 1 46 1-46 1 45 1-8 1-22 1 20 1 12 1-26 1-61 1 48 1-18 1 22 1-23 1-34 1 32 1 31 1-23 1 44 1-22 1-45 1 51 1-27 1-18 1 77 1-50 1-8 1 21 1-19 1-21 1 53 1-13 1 13 1 0 1 1 1-64 1 65 1-22 1 42 1-30 1 13 1-27 1-15 1 6 1 14 1 58 1-118 1 71 1-8 1 22 1-59 1 79 1-26 1 9 1-69 1 49 1 15 1-15 1-30 1 22 1 40 1-104 1 116 1-50 1 25 1-52 1 56 1-18 1 43 1-29 1-12 1-23 1 13 1 17 1-30 1-5 1-2 1-11 1-17 1 49 1-11 1 2 1-29 1 74 1-12 1-22 1-17 1-26 1 39 1 30 1-33 1-1 1 1 1 19 1-82 1 57 1 14 1-83 1 14 1 72 1-48 1 46 1 19 1-52 1 16 1 82 1-96 1 21 1 39 1-44 1 63 1-18 1-77 1 86 1-52 1 27 1 43 1-35 1-54 1 22 1 36 1-71 1 92 1-89 1 30 1 36 1 21 1-94 1 10 1 62 1-41 1-13 1-7 1 83 1-52 1-61 1 108 1-60 1 12 1 49 1-37 1-47 1 37 1-46 1 66 1 17 1-94 1 80 1 32 1-86 1 34 1 39 1-31 1 18 1-47 1 18 1 19 1 9 1-42 1 45 1 39 1-99 1 24 1 0 1-44 1 38 1 79 1-54 1-14 1-29 1 49 1 19 1 67 1-94 1-62 1 18 1-9 1 105 1-74 1 11 1 47 1-59 1 71 1-63 1 62 1-27 1-35 1 18 1-39 1-21 1 66 1-5 1-38 1-15 1 38 1-18 1 10 1 41 1-59 1-46 1 86 1-21 1-29 1 10 1 10 1-48 1 42 1 9 1 30 1-17 1 3 1-8 1-31 1-2 1 27 1-20 1 32 1 39 1-78 1 54 1 21 1-25 1-54 1 23 1 15 1-14 1 26 1 38 1-79 1 35 1-4 1 37 1-52 1 8 1 20 1 3 1-40 1 63 1-49 1-14 1-8 1 34 1 31 1-26 1-35 1 84 1-21 1 14 1-7 1-9 1-35 1-36 1 35 1 0 1-10 1-31 1 43 1 26 1-23 1 34 1 17 1-57 1-47 1 37 1-24 1 49 1-14 1 9 1-50 1 25 1 61 1-77 1 63 1-121 1 100 1 2 1 34 1-86 1 8 1 6 1 9 1-7 1 55 1-8 1 30 1-59 1 54 1-49 1-2 1-13 1 0 1-1 1 35 1 9 1-18 1-12 1-35 1 57 1 14 1 0 1-34 1 31 1 82 1-89 1-18 1-9 1 38 1-6 1-48 1 8 1 22 1-11 1 15 1-62 1 46 1-8 1 23 1 37 1-79 1 29 1 66 1-49 1-65 1 45 1-35 1 31 1-6 1-24 1 18 1 9 1-42 1 59 1 22 1 1 1-56 1-88 1 53 1 44 1-18 1 78 1-16 1-4 1-39 1-7 1 8 1 26 1 31 1-72 1 27 1 27 1-37 1 36 1-25 1 63 1-86 1 24 1-48 1 9 1 42 1 78 1-101 1-10 1 101 1-11 1-19 1 18 1-82 1-73 1 60 1 35 1 28 1-15 1-28 1 100 1-148 1 129 1-56 1 37 1-39 1-24 1 28 1-2 1 26 1-2 1-37 1-38 1 20 1-72 1 88 1 67 1-18 1-37 1-30 1 9 1-9 1 31 1 26 1-52 1 33 1-52 1 67 1-56 1 7 1 11 1-32 1 24 1 39 1-37 1-24 1 14 1 59 1-82 1 105 1 18 1-53 1-46 1 35 1 24 1-54 1 9 1 10 1 70 1-60 1-43 1-14 1 50 1 28 1-47 1 50 1-25 1-23 1 41 1-7 1-18 1-38 1 10 1 11 1-4 1-20 1 1 1 27 1 10 1 6 1-31 1 22 1-3 1-25 1-16 1 24 1 5 1-18 1 69 1-9 1-1 1-18 1 24 1-28 1-7 1 22 1-7 1 56 1-20 1-13 1-53 1 36 1-76 1 16 1 107 1-38 1-7 1-31 1 39 1-14 1 22 1-42 1-14 1 10 1-14 1-44 1 47 1 52 1-16 1 2 1 5 1-50 1-13 1 7 1 39 1 15 1 16 1-56 1 54 1-57 1-12 1 16 1 37 1 11 1-57 1 42 1-23 1-25 1 35 1-12 1 75 1 3 1-86 1 49 1-64 1 66 1 24 1 43 1-111 1 24 1-25 1 35 1-15 1 77 1 4 1-63 1-63 1 67 1-34 1 44 1-18 1 39 1-39 1 28 1-42 1-56 1 35 1 7 1 30 1-62 1 66 1-50 1 58 1-21 1 21 1 51 1-101 1-73 1 96 1 52 1-50 1 17 1 9 1-6 1-30 1-92 1 152 1-51 1 70 1-42 1-26 1 51 1-61 1-28 1 22 1 1 1 25 1-4 1-5 1-28 1 54 1-34 1-59 1 111 1-30 1-61 1 81 1-9 1-89 1 56 1-23 1 60 1-54 1 17 1-9 1 0 1 30 1 29 1-79 1 18 1-10 1 7 1 52 1-48 1-19 1 38 1 57 1-71 1 20 1-8 1 28 1-52 1 5 1-49 1 80 1-8 1-16 1-17 1 40 1-18 1-38 1 95 1-64 1 37 1-56 1 17 1-1 1-16 1 57 1-28 1 103 1-52 1-43 1 7 1 2 1-58 1 45 1 5 1 79 1-64 1-26 1-21 1 11 1 28 1 27 1-35 1-27 1 34 1 50 1-71 1-53 1 84 1-8 1-19 1 19 1-28 1-16 1 37 1-3 1 47 1-10 1 37 1-61 1-71 1 49 1-21 1 1 1 22 1-30 1-17 1 88 1 22 1-49 1 0 1 3 1-38 1-22 1-22 1 47 1 90 1-37 1-74 1 100 1-39 1-47 1 29 1-27 1-13 1 35 1 74 1-65 1 34 1-97 1 90 1-46 1 7 1 47 1 1 1-65 1 42 1-21 1-5 1-4 1 25 1-68 1 62 1 37 1-61 1 11 1 8 1-4 1-19 1-57 1 90 1-32 1 76 1-68 1-41 1 31 1 1 1 47 1-56 1-16 1 91 1-81 1 35 1-8 1-11 1 17 1 28 1-28 1 11 1-38 1 27 1 7 1-12 1 24 1 3 1-33 1 7 1-41 1 45 1 13 1-38 1 11 1 14 1-3 1 11 1 11 1 3 1-41 1 59 1-135 1 91 1-8 1 25 1-12 1 9 1-6 1 9 1 17 1-40 1-16 1-3 1-31 1 78 1-26 1-79 1 110 1-22 1-40 1 70 1 13 1-100 1 65 1 15 1 6 1-44 1 47 1 64 1-100 1 15 1-1 1 11 1-27 1 90 1-100 1 70 1-24 1-60 1 9 1-32 1 40 1-36 1-17 1 106 1-21 1-46 1 21 1-5 1 62 1-46 1-51 1 48 1 7 1 1 1-79 1 70 1-54 1 70 1 22 1-73 1 22 1-24 1 62 1 77 1-95 1-4 1-5 1-25 1-17 1-10 1 79 1-62 1 79 1-30 1-43 1-16 1 33 1 51 1-52 1-109 1 81 1-3 1 40 1 44 1-67 1-25 1 42 1 39 1-12 1-37 1-19 1 15 1 84 1-61 1 48 1-25 1-94 1 125 1-61 1 16 1-27 1 97 1-66 1-70 1 18 1 17 1-72 1 73 1 38 1-100 1 114 1-14 1-50 1 42 1 34 1-105 1 44 1 28 1-1 1-38 1 38 1-34 1 50 1-39 1 23 1 31 1-14 1-4 1-5 1 17 1-18 1-26 1 56 1-102 1 31 1 12 1-41 1 22 1-4 1 28 1-1 1 24 1-31 1 89 1-93 1 72 1-74 1 11 1 13 1-7 1 35 1-42 1-13 1 60 1-39 1 24 1-50 1 34 1-17 1-19 1-1 1 33 1 5 1 13 1-7 1 18 1 21 1-70 1 22 1 37 1-32 1 26 1-19 1 21 1-13 1-5 1-31 1-16 1 20 1 30 1-14 1-40 1 22 1-35 1 47 1 31 1-56 1 21 1 12 1 10 1-19 1 16 1-25 1 51 1-32 1 5 1-15 1 35 1-20 1 14 1-1 1-33 1 31 1-28 1 1 1 44 1-31 1-11 1-7 1-5 1 12 1 24 1-77 1 61 1-38 1 45 1-54 1-7 1 64 1 8 1 0 1-27 1-25 1 26 1-35 1 18 1 34 1-77 1 29 1 101 1-67 1-26 1 13 1-14 1 40 1-40 1-38 1 65 1 41 1-16 1-48 1 26 1-11 1 26 1-47 1 67 1-35 1 53 1-73 1 18 1 43 1-33 1 39 1-84 1 21 1-21 1 48 1-40 1 76 1-53 1-27 1 70 1-63 1 16 1 30 1 6 1-18 1-43 1 39 1-12 1-21 1 19 1 14 1 23 1-34 1-17 1-9 1 35 1 0 1-67 1 67 1 2 1-31 1-4 1 41 1 53 1-70 1 12 1-40 1 40 1 2 1 0 1-22 1-37 1 30 1-5 1 39 1-30 1 3 1 37 1-24 1-10 1 5 1 1 1-7 1-14 1 32 1 16 1-30 1 21 1-40 1 15 1 85 1-99 1 19 1-3 1 6 1-20 1 5 1-28 1 35 1 27 1 1 1-12 1-18 1 7 1 9 1 17 1-116 1 76 1 3 1 20 1 8 1-60 1 70 1-45 1-4 1 28 1-38 1 37 1-3 1-20 1-43 1 53 1 7 1 26 1-27 1-20 1 29 1 32 1-73 1 61 1-65 1-1 1 69 1-44 1 12 1 56 1-23 1-48 1 27 1 36 1-52 1 29 1-23 1 9 1-12 1-16 1-7 1 42 1-49 1 26 1 41 1-42 1 36 1-52 1 11 1-18 1-9 1 46 1-11 1-2 1-15 1 28 1 10 1 15 1-15 1 4 1-22 1-1 1-4 1-13 1 13 1 3 1-11 1 36 1 0 1-39 1-11 1 9 1 26 1-6 1-6 1-18 1-26 1 52 1 16 1 5 1-34 1 10 1-6 1-10 1 69 1-84 1-13 1 58 1-16 1-53 1 37 1 53 1-49 1-2 1 48 1-21 1 17 1-16 1 26 1-53 1 13 1 22 1-17 1 12 1-15 1 10 1-12 1 3 1 16 1 11 1-37 1-26 1 36 1-67 1 71 1 34 1-69 1 90 1-24 1-66 1 40 1 19 1-49 1 46 1-46 1 19 1-2 1 28 1-15 1 0 1-16 1 3 1-4 1 19 1-16 1-12 1 17 1 2 1 19 1-52 1 31 1-31 1 36 1 7 1-27 1 4 1-34 1 66 1-9 1-42 1 22 1 13 1-12 1 8 1 18 1-3 1 9 1-16 1-6 1-22 1 48 1-29 1 28 1-12 1-22 1-4 1 10 1 7 1 12 1-5 1 1 1-35 1 25 1 17 1-20 1 4 1 12 1 23 1-29 1 16 1 4 1-34 1 5 1-16 1 28 1-21 1 1 1 1 1 6 1 20 1-11 1-41 1 5 1-18 1 44 1-19 1 24 1 22 1-49 1 2 1 12 1-19 1 26 1 8 1-19 1-7 1 52 1-1 1-35 1 10 1-25 1-17 1-4 1 62 1-44 1 18 1 7 1 2 1-32 1 15 1 27 1 29 1-41 1-17 1 35 1-31 1 6 1 46 1-31 1 17 1-2 1-15 1 25 1-44 1 60 1-44 1 0 1-16 1 38 1-42 1 17 1-29 1 18 1 18 1 9 1-48 1 33 1-4 1-11 1 22 1-16 1-18 1 15 1-8 1-10 1 28 1-20 1 12 1-16 1 43 1-18 1-1 1 23 1-28 1-4 1 7 1-4 1 8 1 60 1-114 1 68 1 4 1-16 1-1 1-32 1 31 1-17 1 4 1 17 1-28 1 20 1-1 1-2 1 21 1-16 1-4 1-10 1-11 1-23 1 15 1 3 1 30 1 8 1-19 1-17 1 49 1-59 1 39 1 12 1 12 1-36 1 3 1 19 1-11 1-2 1-23 1 5 1 48 1-11 1-38 1 20 1 23 1-52 1 39 1-6 1-22 1 17 1-13 1 22 1-1 1-20 1 42 1-48 1 14 1 6 1-12 1 25 1-44 1 33 1-40 1 32 1-1 1-2 1-17 1 60 1-48 1-2 1 47 1-11 1-47 1 56 1-84 1 37 1 19 1 61 1-106 1 32 1 10 1-41 1 21 1 15 1-5 1 12 1 22 1-48 1 16 1 49 1-81 1 19 1 19 1-16 1 73 1-64 1 39 1-26 1 59 1-90 1 5 1-9 1 41 1-28 1 32 1-10 1-8 1 20 1-74 1 55 1-47 1 55 1 45 1-11 1-19 1-15 1 31 1-5 1-38 1 6 1 11 1-37 1 28 1-20 1 36 1-50 1 9 1-18 1 35 1 45 1-3 1-8 1-10 1-47 1 55 1-29 1-36 1 87 1-27 1-34 1 20 1-118 1 138 1-58 1 13 1 3 1-10 1-2 1 49 1-10 1-54 1 95 1-17 1-40 1-1 1-48 1 45 1-33 1 25 1-36 1 36 1-84 1 154 1-21 1-4 1-99 1 39 1 32 1 29 1-11 1 4 1-36 1 8 1 47 1-35 1-6 1 37 1-3 1-21 1-51 1-20 1 106 1-45 1-1 1 11 1-51 1-1 1 73 1-53 1 63 1-18 1 21 1-56 1 21 1-22 1 53 1-104 1 94 1-37 1-30 1 56 1-39 1 41 1 14 1-26 1-23 1 8 1-49 1 93 1-13 1-108 1 42 1 29 1 27 1-71 1 56 1 33 1-28 1 14 1-6 1-18 1-50 1 87 1-53 1 16 1-7 1-1 1 28 1-21 1 13 1-1 1 27 1 6 1-18 1-91 1 34 1 28 1-52 1 59 1 2 1 4 1-38 1 58 1-21 1-26 1 61 1-73 1 90 1-21 1-46 1 84 1-59 1-73 1 47 1-73 1 81 1-15 1-31 1 57 1-1 1 2 1-37 1 68 1-66 1 24 1-39 1 35 1-53 1 66 1-10 1 14 1-36 1 2 1 2 1-30 1 59 1 50 1-83 1 14 1-28 1 90 1-12 1-25 1-7 1 9 1-21 1-28 1 55 1-48 1 22 1 5 1 16 1-15 1-10 1-34 1 48 1 32 1-16 1-44 1 51 1 14 1-38 1-6 1 47 1-21 1 36 1-77 1-59 1 81 1-48 1 40 1-39 1 16 1 46 1-15 1-1 1-42 1 36 1-26 1-9 1 24 1-11 1-25 1 3 1 23 1 31 1 30 1-60 1-73 1 113 1-23 1-13 1 11 1-29 1 12 1-44 1 18 1 65 1-14 1-33 1 6 1 58 1-20 1-37 1 49 1 5 1-37 1 10 1-8 1 17 1 39 1-78 1 27 1 33 1-16 1-21 1-3 1-5 1 46 1 4 1-22 1-11 1-39 1 1 1 35 1-16 1 60 1-82 1 6 1-39 1 65 1 54 1-36 1-65 1 73 1-44 1-9 1 31 1-20 1-28 1 27 1-12 1 13 1 35 1-69 1 90 1-47 1-1 1 32 1-75 1 64 1-65 1 45 1 21 1 22 1-12 1 9 1-67 1 33 1-8 1 5 1-18 1 18 1-87 1 111 1-7 1-71 1 54 1 39 1-38 1-4 1-18 1 46 1-57 1 41 1 19 1-5 1-20 1 10 1 10 1-27 1 16 1-12 1-25 1 52 1 2 1-52 1 45 1 41 1-75 1 25 1-13 1-3 1-39 1 56 1-4 1-2 1-6 1 13 1-38 1 40 1-37 1 24 1 6 1 6 1-35 1 61 1-25 1 15 1-6 1-23 1-30 1 102 1-85 1 11 1 0 1-35 1 27 1 5 1 12 1 8 1-1 1-32 1 5 1-12 1 16 1-7 1 30 1-5 1-34 1 15 1 18 1 23 1-8 1-28 1 7 1-19 1 6 1 7 1 12 1-33 1 36 1-51 1 12 1 31 1 10 1-15 1 8 1-10 1-12 1 17 1 8 1-11 1 11 1-15 1 16 1-22 1 67 1-21 1-41 1 8 1 44 1-58 1 22 1-10 1-21 1 72 1-26 1-13 1 48 1-3 1-33 1-5 1-21 1 42 1 16 1-40 1-11 1 18 1-65 1 85 1-54 1 45 1-34 1-19 1 15 1 25 1-39 1 13 1 15 1-12 1 38 1-3 1-60 1 32 1-4 1-30 1 3 1 7 1-7 1 29 1 7 1 0 1-26 1-26 1 51 1 26 1-5 1-22 1-10 1-34 1 37 1 46 1-20 1-32 1 7 1 1 1-26 1 3 1 25 1 8 1 2 1 20 1-14 1-23 1 6 1 5 1-14 1 27 1-32 1 23 1 4 1 0 1-82 1 81 1-18 1-12 1 11 1-11 1 25 1-26 1 20 1-6 1 14 1-35 1 59 1-34 1-30 1 58 1-79 1 86 1-8 1 0 1-42 1 44 1-42 1 50 1-30 1-14 1 14 1-40 1 16 1 32 1 11 1-18 1-21 1 27 1-40 1 55 1 22 1-24 1-19 1-4 1-88 1 84 1 27 1-30 1-28 1 13 1 28 1-10 1 51 1-91 1 47 1-32 1-14 1 50 1-13 1 33 1-29 1-41 1 40 1 12 1 18 1-23 1-22 1 24 1 6 1-11 1-30 1 15 1-17 1 54 1-46 1 80 1-83 1 4 1-41 1 75 1 10 1-6 1-55 1 29 1-21 1 49 1-31 1 20 1-27 1 2 1 4 1-6 1-4 1-10 1 39 1 21 1-29 1-16 1 32 1-58 1 46 1-4 1-2 1-32 1-2 1 12 1 1 1 28 1-34 1-1 1 21 1-8 1 57 1-51 1 28 1-10 1-4 1-1 1 54 1-56 1-12 1-47 1 55 1 36 1-40 1 8 1 9 1 21 1-9 1-2 1-68 1 95 1-48 1-51 1 5 1 19 1 40 1-11 1 19 1-60 1 7 1 69 1-38 1 10 1 0 1-29 1 13 1 20 1-42 1 47 1 7 1-2 1 1 1-69 1 24 1-12 1 15 1-18 1 8 1-31 1 62 1-28 1 25 1 34 1-36 1-16 1 6 1 11 1-3 1 46 1-38 1 0 1 0 1-71 1 62 1 11 1-22 1-55 1 38 1 102 1-29 1-48 1 2 1-3 1 31 1-40 1-39 1 65 1 8 1 2 1-26 1 27 1 6 1 13 1-24 1-27 1 37 1 52 1-68 1 11 1-29 1 0 1-17 1 57 1-13 1-56 1 72 1 5 1-47 1-13 1 63 1-40 1 20 1 77 1-59 1-36 1-2 1-7 1 20 1 7 1-63 1 53 1-28 1 14 1-13 1 3 1 29 1-13 1 0 1-12 1 17 1-12 1 18 1-18 1 3 1 30 1-40 1 15 1 11 1 37 1-49 1-10 1 23 1-8 1-39 1 24 1-18 1 28 1 11 1-7 1 10 1 7 1-50 1 16 1-17 1 15 1-17 1 6 1 2 1 18 1 6 1 11 1-29 1 23 1 10 1 3 1-10 1-45 1 23 1-8 1-17 1 78 1-18 1-16 1-23 1 64 1-84 1 40 1 18 1-53 1 15 1 41 1 0 1-41 1 19 1-11 1-25 1 69 1-20 1-15 1-41 1 67 1-26 1-2 1 18 1-30 1 31 1-4 1-4 1-38 1 1 1 30 1-22 1 9 1 15 1-6 1-44 1 20 1 68 1-57 1 78 1-95 1 48 1-17 1 6 1-21 1 10 1 11 1-38 1 31 1 11 1-23 1 28 1-29 1 17 1 38 1-41 1 32 1-18 1 16 1 9 1-55 1 24 1-46 1 77 1-34 1 41 1-83 1 33 1-48 1 52 1-29 1-10 1 36 1 5 1-132 1 134 1 23 1-4 1-27 1-7 1 0 1-21 1 31 1 21 1-7 1-14 1-19 1 35 1-35 1 0 1 2 1 32 1-29 1-15 1 40 1-7 1-23 1 3 1 5 1 52 1-2 1-25 1-82 1 59 1-8 1 67 1-14 1-24 1-5 1-15 1 31 1-66 1 80 1-65 1-20 1 48 1 13 1 28 1-60 1 7 1 71 1-40 1-12 1-1 1-38 1 40 1-2 1-46 1 26 1 28 1 32 1-15 1 4 1-81 1 17 1 31 1-49 1 35 1 15 1 7 1 15 1-31 1-3 1 79 1-86 1 0 1-8 1 38 1 24 1-44 1-4 1 26 1 25 1 27 1-88 1-79 1 86 1-15 1 90 1-104 1 19 1-1 1 5 1-10 1 33 1 8 1-28 1 53 1-92 1 142 1-95 1-8 1-23 1 54 1 15 1-40 1-95 1 72 1 25 1-29 1 64 1 12 1-128 1 101 1-9 1 4 1-42 1-71 1 141 1-29 1 22 1-34 1-23 1 89 1-47 1-39 1 13 1 19 1-21 1 80 1-112 1 95 1-70 1 44 1-73 1-5 1 105 1-52 1-15 1 74 1-80 1 40 1-59 1 31 1 27 1-58 1 52 1-33 1 92 1-65 1-47 1 45 1 33 1 15 1-21 1-21 1-27 1 10 1 71 1-1 1 19 1-67 1 62 1-127 1 82 1-3 1-43 1 19 1 26 1-60 1 66 1-11 1-9 1-11 1-2 1-10 1-11 1 13 1 10 1 6 1 7 1-55 1 78 1-11 1-10 1 23 1-58 1-1 1-1 1-45 1 40 1 12 1-21 1 74 1-35 1 14 1-74 1 68 1 86 1-99 1-22 1-72 1 84 1 20 1-5 1-38 1 38 1 21 1-42 1 15 1 13 1-102 1 7 1 79 1-55 1 49 1 46 1-134 1 43 1 62 1-8 1-74 1 43 1 45 1 58 1-105 1 92 1-72 1-53 1 52 1 14 1-44 1 12 1 54 1 28 1-70 1 28 1-58 1 38 1-4 1 22 1-17 1 26 1 46 1-60 1-16 1-40 1 101 1 3 1 44 1-99 1 27 1-137 1 56 1 38 1 1 1 41 1-11 1 12 1-46 1-25 1 48 1 63 1-61 1-50 1 55 1-104 1 25 1 10 1 66 1-16 1 66 1-72 1-36 1 83 1-5 1-98 1 112 1-21 1-57 1 2 1-105 1 98 1 29 1 19 1 2 1-19 1-67 1 31 1 54 1 43 1-23 1 13 1 24 1-111 1 73 1-21 1-6 1 24 1-38 1-74 1 95 1 23 1-32 1 39 1-76 1 90 1-53 1-65 1 102 1 78 1-115 1 19 1 26 1-31 1-6 1 21 1 24 1-64 1 39 1-22 1-14 1-23 1 74 1-56 1-42 1 40 1 16 1 43 1-90 1 63 1-26 1 26 1-80 1 115 1-66 1-12 1 42 1-21 1 28 1-8 1 1 1 0 1 6 1-20 1 50 1-34 1-25 1 22 1-50 1 86 1-23 1-28 1-23 1 43 1-49 1 18 1 17 1 7 1 6 1 5 1-58 1 37 1 28 1 7 1-52 1 73 1-62 1 35 1-50 1 31 1-28 1-19 1 51 1 3 1-57 1 39 1 8 1-61 1 54 1-7 1 15 1 14 1-49 1 6 1 62 1-56 1 83 1-63 1 14 1-30 1-2 1 5 1 38 1-57 1 80 1-62 1 63 1-38 1-37 1-17 1 29 1 54 1-72 1 48 1-36 1 30 1 1 1 20 1-55 1 34 1 24 1-15 1-13 1 28 1-29 1 20 1-70 1 58 1 33 1-71 1 28 1 30 1-52 1-7 1 21 1 0 1-21 1 17 1 25 1 24 1-23 1-2 1-23 1-7 1 16 1-12 1 42 1-12 1-24 1 4 1-4 1 5 1-18 1 22 1 26 1-66 1 8 1 30 1 18 1-22 1 81 1-86 1 12 1-10 1 10 1 18 1 12 1-59 1 32 1 17 1-14 1-22 1 4 1-8 1-19 1 11 1 49 1-25 1 35 1-46 1 7 1 10 1-23 1 65 1-52 1-30 1 42 1 10 1-46 1 35 1-11 1 27 1-30 1-20 1 32 1-24 1 10 1-5 1 20 1-9 1 8 1-26 1 22 1 14 1-14 1 1 1 39 1-72 1 32 1 5 1-25 1 9 1 19 1-25 1 31 1 11 1-17 1 37 1-35 1-33 1 12 1 30 1-32 1 37 1-75 1 54 1-10 1-16 1 23 1-1 1-23 1 35 1-5 1-15 1 19 1-5 1-1 1 7 1-32 1 15 1 16 1-28 1 36 1-22 1-16 1 24 1-24 1 4 1 11 1 15 1-37 1 37 1-25 1 11 1 31 1-74 1-17 1 79 1-11 1 13 1-40 1 35 1 13 1-20 1-6 1 7 1 0 1-21 1-8 1-9 1 10 1 30 1-18 1 42 1-34 1 4 1 7 1-60 1-9 1 52 1-1 1-22 1 43 1-34 1-6 1-12 1 50 1 20 1-23 1-12 1 9 1 4 1-12 1 6 1-4 1 11 1-43 1-12 1 31 1 47 1-59 1 29 1 10 1-21 1 13 1 6 1-49 1 48 1-1 1 2 1-49 1 40 1 1 1 35 1-5 1-20 1-48 1 17 1 12 1 8 1-19 1-1 1 12 1 10 1-65 1 29 1 37 1-19 1-6 1 34 1-39 1-25 1 21 1 58 1-34 1-31 1 23 1 7 1 35 1-54 1 20 1-3 1-18 1 16 1 6 1-17 1 39 1-2 1-81 1 50 1-11 1-4 1 2 1 17 1 39 1-37 1 31 1-55 1 23 1-48 1 73 1 5 1-17 1-42 1 82 1-51 1 67 1-36 1-18 1 18 1-31 1 39 1-21 1-18 1 11 1-1 1-8 1 10 1 28 1-56 1-8 1 31 1-1 1-10 1-11 1-17 1 15 1 18 1-17 1 80 1-35 1-45 1 71 1-43 1-61 1 75 1-8 1-14 1 20 1 33 1-55 1-37 1 30 1 1 1 15 1-12 1 15 1-33 1 27 1 5 1-66 1 40 1 22 1 0 1-2 1 20 1-48 1 69 1-92 1 61 1-18 1 1 1-47 1 63 1 8 1-27 1-4 1 19 1 14 1-65 1 52 1 7 1 5 1-32 1 7 1-12 1 68 1-51 1 17 1 5 1-87 1 54 1 13 1-36 1 44 1-124 1 93 1 32 1-12 1 32 1 5 1-33 1 1 1-11 1 19 1 2 1 32 1-43 1-3 1-24 1 18 1 82 1-69 1-11 1-14 1 47 1-11 1 29 1-6 1-38 1-33 1 35 1 3 1 12 1-14 1-33 1 37 1-11 1-23 1 48 1-33 1-19 1 13 1 50 1-67 1 29 1 24 1 2 1-9 1-7 1-31 1-3 1 33 1-27 1 16 1 44 1-28 1-50 1 33 1 29 1 23 1 25 1-40 1-20 1-3 1 23 1 3 1-49 1-8 1 62 1-22 1 2 1-9 1-4 1-22 1 26 1-43 1 75 1-37 1-6 1 4 1-22 1 73 1-34 1-73 1 47 1 41 1 2 1-1 1-80 1 52 1 5 1-29 1-19 1 57 1-2 1-5 1-21 1-2 1 7 1-43 1 84 1-1 1-41 1 30 1-71 1 66 1-21 1-39 1 74 1-83 1 55 1 0 1-14 1 3 1-2 1 16 1-56 1 38 1-10 1 3 1 44 1-4 1-49 1 17 1 42 1-52 1 26 1 46 1-85 1 31 1-17 1 13 1-15 1 17 1-2 1-4 1 145 1-135 1 2 1 24 1-28 1-60 1 48 1 59 1-35 1-34 1 45 1 28 1-75 1 30 1-3 1 26 1 12 1-48 1 28 1-4 1 5 1-36 1 27 1-2 1-36 1-31 1 109 1-101 1 95 1-30 1-59 1 133 1-119 1 21 1 2 1-25 1 31 1-46 1 36 1 6 1-1 1 6 1 6 1 19 1-8 1 46 1-90 1-30 1-2 1 43 1 72 1-67 1 23 1-19 1-6 1-65 1 114 1-78 1-53 1 143 1-164 1 67 1-19 1 24 1 14 1-37 1 13 1 50 1 45 1 14 1-115 1 48 1-22 1 70 1-1 1-159 1 168 1 15 1-11 1-27 1-7 1-63 1-27 1 19 1 79 1-62 1 8 1 67 1-112 1 86 1 6 1-13 1 34 1-94 1 98 1-52 1-56 1 134 1-38 1-16 1-56 1-17 1 107 1-20 1-99 1 95 1 27 1-28 1 6 1-23 1-42 1 7 1 31 1-3 1-13 1-15 1 110 1-124 1 58 1-7 1 25 1-48 1 46 1-11 1-89 1 216 1-131 1-51 1-38 1 85 1 5 1-30 1 32 1-31 1 42 1-70 1 87 1-37 1 30 1 17 1-76 1 48 1 31 1-61 1-53 1 39 1 49 1-31 1 8 1-19 1 17 1-8 1-17 1 12 1 12 1-9 1 35 1-22 1 23 1-52 1-2 1 23 1 9 1 52 1-70 1 33 1-52 1 41 1-3 1-1 1-59 1 38 1 56 1-63 1 8 1 2 1-13 1-54 1 66 1-12 1-57 1 64 1-22 1 71 1-67 1 37 1 1 1-17 1-32 1 43 1-22 1 25 1-4 1-25 1-4 1 10 1 33 1-24 1 57 1-61 1 19 1-34 1-18 1 82 1 49 1-102 1 39 1-41 1 39 1-17 1-91 1 104 1-23 1-3 1 39 1 9 1-69 1 94 1-44 1-71 1-12 1 53 1 13 1-1 1-16 1 8 1-38 1 30 1-38 1 14 1-9 1 45 1-38 1 50 1-4 1-35 1 11 1 8 1 26 1-26 1-32 1 9 1 29 1-17 1 0 1 74 1-52 1 28 1-36 1-35 1 36 1 1 1 11 1 24 1-57 1 37 1 5 1 28 1-38 1-12 1 48 1-71 1 28 1 17 1 12 1-88 1 41 1 9 1 34 1-41 1 45 1 2 1-31 1 28 1-33 1 12 1 28 1-20 1-10 1-17 1-18 1-8 1 52 1 11 1-15 1 9 1-18 1 17 1-20 1 1 1-12 1 24 1-7 1-19 1 2 1 6 1-11 1-3 1 32 1-32 1 33 1-69 1 44 1-20 1 37 1-26 1 9 1 25 1-5 1-36 1 18 1 5 1-4 1-20 1 27 1 7 1-21 1 20 1 21 1-60 1 37 1-24 1-13 1 36 1-37 1-11 1 79 1-33 1 5 1 27 1-34 1-8 1-26 1 51 1-30 1 4 1-2 1-35 1 37 1 9 1-1 1 22 1 26 1-61 1 46 1-49 1 28 1-5 1 23 1-86 1 62 1 41 1-45 1-3 1-19 1 10 1 33 1 1 1-26 1 38 1-3 1-33 1-11 1 47 1 4 1-22 1-32 1 6 1 17 1-40 1 42 1 9 1 3 1-20 1 3 1 39 1-100 1 53 1 17 1-12 1 32 1 9 1-1 1-6 1-50 1 36 1-65 1 65 1-92 1 74 1 0 1-41 1 105 1-52 1 30 1-48 1 17 1-11 1-33 1 32 1 28 1-30 1 10 1-24 1-9 1 4 1 35 1-44 1 5 1-1 1 16 1-12 1 87 1-66 1 1 1 2 1-18 1 6 1 17 1 5 1-56 1 15 1 50 1-12 1-17 1 15 1-36 1 22 1 40 1-21 1 33 1-76 1-15 1 63 1 3 1-27 1 1 1 38 1-10 1-15 1-8 1-18 1-47 1 63 1-26 1 3 1 35 1-4 1-25 1 4 1 46 1-18 1-16 1 10 1-32 1 67 1-58 1 15 1 9 1-19 1 3 1 19 1-28 1-1 1 65 1-62 1-19 1 19 1-48 1 120 1-56 1 30 1-13 1-52 1 26 1 28 1 29 1-20 1-76 1 122 1-92 1 61 1-7 1 1 1-84 1 23 1 29 1 23 1-2 1-3 1-29 1 16 1-19 1 11 1 12 1 19 1-94 1 54 1 37 1-3 1 10 1-2 1-97 1 55 1 18 1 1 1-6 1-8 1 9 1-13 1-53 1 35 1 58 1 44 1-63 1-17 1-2 1-9 1 13 1-36 1 78 1-39 1-27 1-6 1 8 1-17 1 0 1 39 1 20 1 29 1-43 1-47 1 50 1 10 1-16 1-38 1-16 1 27 1 43 1 7 1-12 1 4 1 2 1-63 1 44 1-22 1 33 1 29 1-40 1-8 1 1 1-3 1 56 1-5 1-38 1-71 1 80 1-8 1 27 1-19 1-1 1-7 1 16 1 3 1-11 1-7 1-13 1 41 1-24 1 10 1 36 1-12 1-26 1 7 1-70 1 39 1 13 1 35 1-87 1 56 1 13 1-46 1 67 1-32 1-18 1 17 1-13 1 0 1-17 1 22 1-15 1 23 1-14 1-11 1 34 1-25 1-27 1 8 1 51 1-35 1 28 1-27 1 5 1 11 1-25 1 4 1 8 1 8 1 9 1 9 1-14 1-2 1-9 1-9 1 21 1-18 1 21 1-32 1 15 1 0 1 7 1 14 1-7 1 12 1-10 1 0 1 7 1-34 1 19 1-108 1 121 1 11 1-21 1-31 1 110 1-95 1 10 1 14 1-39 1 17 1-4 1 12 1-19 1 44 1-52 1-11 1 45 1 108 1-157 1 80 1-63 1 19 1-3 1 41 1-24 1 11 1-37 1 37 1-9 1-63 1 67 1-3 1-26 1 10 1 65 1-70 1 64 1-56 1 2 1 6 1-15 1 2 1 30 1-15 1-39 1 26 1 18 1 28 1-2 1-39 1-8 1-18 1 35 1-23 1 33 1-5 1 8 1-51 1 42 1-13 1-26 1 55 1-27 1-21 1-13 1 49 1-39 1 36 1-34 1 48 1 7 1-35 1-1 1-6 1-18 1 17 1 30 1-19 1-25 1 23 1-23 1 14 1 12 1-4 1 15 1-67 1 30 1 20 1-36 1 21 1 19 1 1 1 22 1 12 1-23 1-23 1-5 1 22 1-59 1 51 1-27 1 31 1-19 1 10 1-54 1 65 1 10 1-6 1-54 1 13 1 24 1-11 1 73 1-74 1 34 1-2 1-60 1 76 1-35 1 6 1-23 1-28 1 28 1 55 1-41 1 19 1-63 1 62 1 4 1-18 1 12 1-8 1-21 1 17 1-12 1 10 1 27 1-22 1-23 1 7 1 57 1-61 1 12 1 27 1 9 1-16 1 17 1-51 1 46 1-27 1-20 1 72 1-55 1 10 1 29 1-19 1 8 1 9 1-32 1 44 1-20 1-41 1 36 1-17 1 21 1-24 1-47 1 37 1 57 1-53 1-18 1 38 1-4 1-27 1 20 1-18 1 34 1-9 1-26 1 32 1-13 1 27 1-100 1 51 1 33 1-25 1 35 1-50 1-58 1 89 1-31 1 82 1-46 1 23 1-139 1 100 1 8 1-9 1 12 1 26 1 17 1-3 1-46 1 21 1-32 1 7 1-7 1 23 1-37 1 16 1 22 1-1 1 24 1-81 1 39 1 36 1-53 1 49 1 8 1-9 1-8 1-8 1 28 1-37 1-7 1 10 1-57 1 67 1 15 1-17 1-12 1-52 1 84 1-40 1 62 1-41 1 23 1-28 1 25 1-31 1-54 1-34 1 39 1 102 1-78 1 128 1-86 1-14 1-52 1 57 1 13 1-92 1-1 1 109 1-69 1 55 1 37 1-80 1 30 1 16 1 27 1-118 1 50 1 63 1-39 1-64 1 69 1 16 1-67 1 47 1-37 1-67 1 99 1-48 1 81 1-48 1-39 1 51 1-16 1 93 1-87 1 13 1 13 1 33 1-18 1-45 1 18 1-42 1 36 1 70 1-167 1 111 1-4 1-28 1 99 1-70 1 2 1 2 1-23 1 16 1 35 1-74 1 5 1 37 1-25 1 16 1 37 1-7 1-41 1 37 1-38 1-19 1 32 1 21 1-16 1 6 1-52 1 9 1 12 1 24 1 38 1 12 1-64 1 9 1-7 1 14 1-54 1 82 1-3 1-41 1 26 1-10 1 7 1-14 1-7 1-28 1 11 1-2 1 38 1-19 1-14 1 37 1-17 1 0 1 0 1-19 1 21 1 8 1-15 1 58 1-58 1 6 1 3 1-23 1 66 1-15 1-38 1-19 1 1 1 38 1-44 1-5 1 24 1-20 1-56 1 50 1-10 1 42 1-14 1 31 1-12 1-8 1 31 1-51 1 30 1 54 1-20 1-57 1-4 1-10 1 38 1 24 1-24 1-9 1 27 1-2 1-35 1 25 1 2 1 33 1-22 1-15 1-16 1-2 1 28 1 67 1-83 1 24 1-18 1 7 1-10 1-19 1 9 1 18 1-2 1-8 1 4 1-28 1 74 1-47 1-4 1-3 1-24 1-9 1 55 1-20 1 60 1-35 1 7 1-44 1-6 1 11 1-30 1 53 1-40 1 43 1-57 1 46 1 13 1-19 1 26 1-8 1-40 1 14 1 16 1 27 1-26 1 21 1-35 1-13 1 10 1 4 1 8 1-11 1-36 1 75 1-37 1-46 1 45 1 0 1 0 1 19 1-12 1 12 1 21 1-43 1 46 1-60 1 37 1-47 1 35 1 2 1-25 1 32 1-21 1 11 1-39 1 56 1-11 1-3 1 4 1 26 1-113 1 47 1-5 1 51 1 12 1-58 1 18 1-8 1 5 1 24 1 25 1-21 1-12 1 65 1-86 1 45 1-53 1 34 1-35 1 86 1-4 1-51 1 2 1 3 1 18 1-48 1 45 1-53 1 27 1 12 1 5 1-4 1 9 1-20 1 14 1-50 1 48 1-57 1 75 1-38 1 41 1-53 1-4 1 50 1-48 1 22 1 33 1 9 1-47 1 29 1-39 1 12 1-15 1 48 1-44 1 24 1-4 1 23 1 19 1-77 1 34 1-3 1-29 1 51 1-11 1-59 1 109 1-28 1 32 1-151 1 69 1 57 1-2 1-164 1 115 1-39 1 99 1-114 1 133 1-99 1-34 1 33 1 60 1-14 1-7 1-14 1-1 1 73 1-79 1 16 1 9 1-12 1 13 1 67 1-49 1 2 1-49 1 36 1-19 1 0 1-1 1-50 1 71 1-19 1 47 1-65 1 12 1-4 1 0 1 38 1-44 1 12 1 13 1-17 1 15 1-34 1 38 1 12 1 36 1-64 1 22 1-47 1 22 1 39 1-44 1 51 1-42 1 43 1-30 1-12 1 22 1 2 1-13 1-6 1 0 1 0 1-4 1-61 1 57 1 58 1-59 1-24 1 32 1-33 1 53 1 8 1 11 1-118 1 129 1-46 1 12 1-21 1 23 1-25 1 9 1-26 1 20 1-9 1 27 1-34 1 13 1 36 1-51 1 29 1-60 1 29 1 19 1 1 1-17 1 41 1 4 1 23 1-29 1-75 1 43 1 47 1-32 1 11 1-29 1-9 1 16 1 30 1-4 1 15 1-33 1-11 1 17 1 15 1 12 1-33 1 9 1 5 1 18 1-42 1 26 1-9 1-17 1 13 1-27 1 45 1 35 1-85 1 5 1 36 1-16 1 11 1-27 1-7 1 44 1-63 1 58 1-8 1-19 1-10 1 27 1 0 1 20 1-27 1 40 1-2 1-51 1 16 1 14 1-16 1-2 1 65 1-52 1-16 1 5 1-23 1 30 1-6 1 40 1-36 1 62 1 18 1-26 1-53 1-30 1 9 1 53 1-144 1 103 1 33 1-33 1 26 1 3 1 20 1-50 1 26 1 12 1 3 1-57 1 32 1-30 1 82 1-63 1-43 1 57 1 4 1 8 1-15 1-16 1 23 1-33 1 23 1 9 1-11 1-6 1 17 1-27 1 24 1 7 1-7 1-44 1 13 1-1 1 25 1 6 1 6 1-31 1 19 1 3 1 13 1-5 1 15 1-31 1 31 1 0 1-67 1 24 1-31 1 9 1 12 1-7 1 42 1-18 1 26 1-18 1-59 1 35 1 40 1 31 1-18 1-12 1-12 1-10 1 34 1 5 1-41 1 21 1 52 1-59 1-3 1-60 1 82 1-10 1-61 1 66 1-10 1-45 1 87 1-84 1 1 1 65 1-42 1-1 1-2 1 16 1 77 1-88 1-40 1-44 1 102 1-8 1 9 1-10 1 46 1-31 1-18 1-50 1 55 1-15 1 30 1 21 1-33 1-86 1 101 1-11 1-28 1 13 1-7 1 22 1-2 1 11 1-48 1 19 1 9 1-13 1 51 1-45 1-19 1-12 1 51 1-129 1 112 1-33 1 11 1-10 1 38 1 34 1-50 1 3 1 9 1-88 1 77 1-43 1 80 1-37 1-14 1 48 1-50 1-24 1-21 1 43 1 41 1-4 1 11 1-4 1-14 1 14 1-29 1 24 1-2 1 6 1 4 1-100 1 93 1 79 1-88 1 22 1-9 1-7 1 0 1-5 1 57 1-64 1-25 1 4 1-40 1 134 1-88 1 9 1 73 1-71 1 51 1-36 1-54 1 34 1 22 1-4 1 27 1 0 1-24 1-12 1-3 1 28 1-49 1 46 1 17 1-15 1-14 1 55 1 9 1-43 1-22 1-29 1 29 1-37 1 50 1 29 1 11 1-58 1-51 1 27 1 53 1 27 1 9 1-66 1-19 1 56 1-48 1 11 1 81 1-32 1-49 1 13 1 17 1-139 1 195 1-17 1-51 1 7 1 12 1-90 1 66 1-29 1 29 1 32 1-55 1-35 1 36 1-4 1 41 1-65 1-42 1 71 1-7 1 22 1 3 1-28 1 28 1 0 1 5 1 18 1-49 1-10 1-22 1 61 1 26 1 7 1-26 1-103 1 103 1-57 1 83 1-117 1 41 1 9 1 56 1 37 1-128 1 4 1 75 1 23 1-14 1-103 1 52 1-16 1 32 1-13 1 21 1 40 1-30 1 26 1-54 1 45 1-103 1 114 1-12 1 19 1-16 1 13 1-73 1 13 1-2 1-19 1 57 1-24 1 54 1-13 1-86 1 43 1-19 1 47 1-81 1 77 1 7 1-7 1 34 1-48 1 10 1-21 1-31 1-26 1 48 1 36 1-37 1 0 1-17 1 78 1-21 1-92 1 44 1 14 1 30 1 24 1-117 1 78 1-33 1 51 1-37 1 10 1 18 1 8 1-36 1-2 1 14 1 40 1-29 1 23 1 10 1-45 1-32 1 9 1 30 1 21 1 28 1-150 1 5 1 70 1-6 1 40 1-75 1 53 1-34 1 36 1 21 1 8 1 20 1-50 1-9 1 118 1-98 1-36 1-39 1 62 1 22 1-106 1 43 1-14 1 42 1 59 1 29 1-140 1 153 1-76 1-9 1 54 1-102 1 102 1-22 1 30 1-141 1 70 1-22 1 86 1-22 1 58 1-133 1 35 1-51 1 54 1 59 1-43 1 106 1-162 1 77 1 39 1-103 1 71 1-68 1 16 1 17 1 88 1-59 1-29 1-27 1 89 1-68 1 8 1-65 1 23 1 83 1-48 1-20 1-1 1 6 1 68 1-104 1 80 1-27 1 43 1-25 1-35 1 43 1-22 1 47 1-41 1 23 1 8 1-31 1-46 1 62 1-49 1-24 1 40 1 73 1 10 1-49 1 2 1 33 1-90 1 48 1-55 1 67 1 2 1 0 1-28 1 22 1-65 1 44 1 20 1 12 1-25 1-56 1-9 1 2 1 157 1-91 1-13 1-20 1 24 1-45 1 90 1-53 1 29 1 18 1-47 1-21 1 61 1 42 1-68 1 1 1-10 1-10 1-41 1 14 1-16 1 31 1 14 1 11 1 47 1-42 1 17 1 59 1-35 1-67 1-21 1 29 1 42 1-28 1-12 1 23 1-39 1 29 1-20 1-1 1 48 1-44 1 21 1-92 1 88 1 25 1-52 1 12 1 80 1-70 1 24 1 32 1-91 1 28 1 44 1-20 1-11 1-13 1 60 1-55 1-33 1 102 1-51 1-2 1-27 1 7 1 18 1-24 1 74 1-75 1 40 1-15 1-16 1-1 1-44 1 29 1 20 1-68 1 10 1 1 1-32 1 79 1-3 1 67 1-79 1-6 1 54 1-3 1-7 1 8 1-36 1 30 1-17 1-1 1 16 1-1 1 28 1-46 1-3 1 19 1-4 1-25 1 8 1 28 1-14 1 21 1-6 1-3 1-23 1-1 1 12 1 1 1 8 1 14 1-31 1-25 1 58 1-38 1 40 1 12 1-47 1-38 1 23 1-17 1 37 1 5 1-98 1 126 1 13 1-50 1 7 1 14 1-43 1 34 1-13 1-10 1 24 1-39 1 35 1 38 1-11 1-38 1-25 1 57 1-30 1 4 1-30 1-12 1 58 1-10 1 52 1-50 1 12 1 1 1-21 1 9 1 69 1-44 1-47 1 6 1 8 1 18 1-22 1-2 1 14 1-16 1 27 1-96 1 108 1-6 1 14 1-32 1-72 1 80 1-33 1 18 1 60 1-54 1-12 1 36 1-74 1 58 1-19 1 36 1-18 1 11 1-32 1 9 1-22 1 6 1-33 1 51 1 14 1-33 1-1 1-18 1 103 1-67 1 0 1 26 1 4 1-30 1 3 1-18 1 6 1-121 1 102 1 17 1 16 1-29 1-5 1-40 1 66 1-13 1 29 1 10 1-50 1 27 1-31 1 55 1-13 1-17 1 22 1-19 1 12 1-59 1 45 1 10 1 52 1-58 1 14 1-37 1-2 1 54 1-66 1 26 1 14 1 23 1-41 1 13 1 11 1 28 1-69 1 49 1-34 1-20 1 52 1-13 1 17 1-22 1-6 1-12 1 34 1-30 1-24 1 12 1 88 1-92 1 35 1 13 1 0 1-39 1 20 1-26 1 67 1-47 1 18 1-49 1 12 1 33 1-17 1 42 1-52 1 39 1-2 1 12 1-19 1 29 1 34 1-118 1 54 1 15 1-42 1-8 1 85 1-60 1 23 1-14 1-16 1 8 1 8 1-39 1 37 1-3 1-3 1-17 1-13 1 115 1-94 1-4 1 16 1 9 1-1 1 84 1-91 1-53 1-54 1 94 1 30 1-35 1 39 1-40 1 40 1-38 1 5 1 27 1-21 1-7 1-62 1 75 1-23 1-8 1 74 1-16 1-12 1-17 1 50 1-64 1 64 1-197 1 184 1-45 1-2 1 49 1-76 1 62 1-9 1 64 1-85 1 26 1-67 1 80 1-25 1 11 1-13 1 59 1-63 1 23 1-27 1-36 1 39 1 10 1-39 1-17 1 60 1-23 1-5 1-4 1 3 1-2 1 59 1-80 1 85 1-16 1-57 1 4 1-50 1 93 1-67 1 20 1 33 1-22 1 57 1-24 1 14 1-14 1-34 1-17 1 25 1 45 1-34 1-28 1 72 1-104 1 21 1 19 1 25 1-39 1 136 1-100 1 41 1-90 1 81 1 45 1-88 1 45 1-39 1-31 1-29 1 35 1 56 1-85 1 118 1-45 1-7 1-79 1 37 1-61 1 66 1 2 1 54 1 6 1-41 1-2 1-62 1 40 1 53 1-76 1 62 1-42 1 9 1 34 1-12 1 7 1-20 1 5 1 70 1-36 1-45 1-35 1 57 1 13 1 15 1-28 1 25 1-65 1 85 1-50 1 55 1-20 1-71 1 34 1 10 1-32 1 56 1-8 1-27 1 38 1-89 1 49 1 45 1-65 1 42 1-23 1 49 1-56 1-6 1-44 1 69 1 27 1-61 1 101 1-31 1-18 1-73 1 55 1 45 1-36 1-9 1-35 1 28 1-23 1 30 1-19 1 15 1-13 1 24 1-22 1 7 1-4 1 6 1 22 1-18 1-44 1 58 1-5 1-43 1 21 1-29 1 2 1 66 1-51 1 47 1-49 1 40 1 29 1-72 1-17 1 31 1 45 1-11 1-59 1 32 1-1 1 24 1 11 1-24 1-3 1 21 1-21 1 5 1 22 1-25 1-17 1 62 1-37 1-49 1 42 1 44 1-90 1 31 1 19 1 10 1-2 1-3 1-18 1 3 1 38 1-23 1 14 1-36 1 17 1-19 1-31 1 86 1-38 1-19 1-10 1 34 1-40 1 30 1-39 1 54 1-13 1-36 1 31 1-18 1 31 1 0 1-18 1 3 1 4 1 19 1-52 1-25 1 72 1 23 1-68 1 28 1-8 1-32 1 31 1 20 1 10 1-62 1 57 1 8 1-16 1 43 1-101 1 127 1-38 1-58 1 13 1 9 1 4 1 6 1 5 1-30 1-13 1-17 1 68 1-23 1 67 1-67 1-88 1 72 1 11 1 12 1 7 1-18 1 24 1-12 1 19 1-25 1 11 1-21 1-14 1 31 1-31 1 6 1 30 1-52 1 39 1 3 1 7 1 2 1-17 1 8 1 6 1-15 1 8 1 9 1-29 1-47 1 58 1-4 1 23 1 1 1-69 1 42 1 23 1-28 1-31 1 68 1-88 1 67 1-27 1 36 1-13 1 29 1-22 1 23 1-10 1 14 1-7 1-17 1-6 1 41 1-30 1 18 1-34 1-3 1 4 1-60 1 69 1-16 1 22 1 12 1 0 1-44 1 2 1 46 1 28 1-99 1 25 1 25 1 7 1-19 1 32 1-20 1-32 1 45 1-19 1-6 1 20 1 22 1-19 1 42 1-62 1 38 1-42 1-52 1 38 1 27 1 9 1-10 1 8 1 7 1-6 1-34 1 39 1-19 1 12 1-19 1 16 1-38 1 81 1-22 1-34 1-10 1-39 1 91 1-19 1-7 1-42 1 59 1 5 1-26 1 36 1-51 1 34 1-20 1 13 1-75 1 48 1-64 1 89 1-43 1-17 1 41 1 31 1-30 1 16 1-122 1 188 1-89 1 19 1-8 1 26 1-42 1 47 1-31 1-33 1 22 1 15 1 15 1-22 1 38 1-40 1 31 1-38 1 1 1 16 1 18 1-66 1 30 1 42 1-98 1 39 1 9 1-36 1 39 1 38 1 29 1-61 1-32 1 56 1-18 1 0 1 9 1 16 1-59 1 53 1 15 1-38 1 43 1 17 1-86 1-57 1 141 1 11 1-21 1-27 1 37 1-33 1-75 1 61 1-57 1 19 1-4 1-9 1 59 1-34 1 13 1 2 1-30 1 46 1 6 1 4 1-2 1-52 1 25 1-2 1 60 1-75 1 32 1 30 1-21 1-33 1 23 1 29 1-40 1 42 1 4 1-47 1-28 1-41 1 104 1-5 1-9 1-2 1-76 1 52 1-11 1 21 1-16 1-13 1 45 1 35 1-80 1 0 1 35 1-24 1 38 1-4 1-53 1-23 1 31 1 28 1 50 1-97 1 83 1-45 1 40 1-52 1 66 1-121 1 19 1 72 1-19 1 18 1-29 1 57 1-56 1 79 1-84 1 4 1 26 1-42 1 83 1-39 1 17 1 18 1-65 1 19 1-11 1 19 1 31 1-43 1-4 1 31 1-10 1-52 1 47 1 0 1-20 1-28 1 25 1 32 1-12 1-24 1 49 1-85 1 68 1-30 1 41 1-78 1 105 1-64 1 1 1-9 1 10 1 19 1-4 1-1 1-18 1 1 1 46 1-74 1 52 1 24 1-10 1-38 1 48 1-33 1 30 1-25 1-31 1 35 1-11 1 91 1-80 1 60 1-107 1 135 1-109 1-31 1 53 1-25 1 24 1-70 1 64 1-11 1 32 1-51 1 22 1-26 1 40 1-8 1 39 1-52 1-16 1 36 1 21 1 18 1-61 1 6 1-4 1 47 1-30 1 20 1-11 1 34 1-73 1 67 1-26 1-22 1-11 1 12 1-10 1 33 1 12 1-8 1 6 1 6 1-13 1-3 1-11 1-14 1 0 1-43 1 64 1-46 1-8 1 46 1 38 1-23 1-23 1-17 1 38 1-27 1-3 1 69 1-100 1 77 1-53 1-11 1-1 1 61 1-89 1 77 1 29 1-5 1-9 1-79 1 56 1-23 1 49 1-5 1-23 1 3 1 0 1-19 1 68 1-50 1-31 1 48 1-66 1 59 1-30 1 17 1 7 1-7 1 28 1-37 1 13 1-35 1-8 1 65 1-14 1 13 1-41 1 3 1 20 1-77 1 47 1 43 1-53 1-63 1 152 1-82 1-57 1 39 1 69 1-64 1 61 1 39 1-39 1-9 1-7 1-3 1-19 1 44 1 17 1-41 1-103 1 108 1-67 1 36 1 63 1-67 1 24 1 61 1-68 1-57 1 71 1 0 1-15 1 6 1 9 1-28 1-3 1-12 1 63 1-69 1 31 1-3 1 46 1-74 1 23 1 45 1-39 1 19 1 0 1 22 1-28 1 42 1-133 1 160 1-27 1 1 1-53 1 1 1 12 1-31 1 12 1-54 1 76 1 30 1-52 1-10 1 40 1 11 1-34 1-6 1-1 1 18 1 30 1-23 1-33 1 25 1-54 1-34 1 110 1 85 1-131 1 24 1 66 1-63 1 2 1-43 1 63 1-25 1 10 1-33 1 25 1 21 1-6 1-14 1-32 1-21 1 13 1 10 1 104 1-85 1-24 1 55 1-64 1 47 1-60 1 54 1 6 1-22 1 21 1 16 1-23 1-34 1 27 1-1 1-51 1 19 1 36 1-68 1 136 1-8 1-55 1-49 1 40 1-18 1-24 1 42 1-1 1 11 1-34 1-5 1 6 1-9 1 43 1-14 1 23 1 14 1-59 1 63 1-72 1 89 1-65 1-12 1 38 1 5 1-6 1 54 1-61 1 42 1-36 1 58 1-130 1 106 1-11 1 7 1-36 1-18 1-14 1 18 1-31 1 33 1 25 1 3 1-21 1 26 1-4 1-48 1 98 1-100 1 73 1-70 1-49 1 89 1 22 1-53 1 25 1-42 1 38 1-38 1 139 1-58 1-51 1 13 1 3 1-24 1 24 1-48 1 60 1 16 1-26 1-22 1 15 1-33 1 38 1 29 1-112 1 105 1-33 1 22 1-21 1 8 1 4 1 42 1-61 1-3 1 6 1 11 1-6 1-14 1 32 1-48 1 35 1-42 1 62 1-37 1-27 1 95 1-16 1-80 1 41 1 38 1-17 1-15 1 4 1-14 1 36 1-66 1 45 1-30 1 32 1-50 1 38 1-5 1 12 1 25 1-45 1-21 1-19 1 80 1-66 1 23 1 30 1-2 1-20 1 22 1-76 1 89 1-51 1 9 1 13 1 13 1-43 1 96 1-25 1-27 1-17 1-13 1 65 1-62 1 32 1-15 1-14 1 10 1-5 1 15 1 57 1-64 1-3 1-26 1 18 1 43 1-24 1 0 1-9 1 18 1 4 1-43 1 16 1-19 1 11 1 48 1-11 1-54 1 36 1-26 1 12 1-14 1 48 1-23 1 19 1-27 1 20 1-43 1 5 1-3 1-14 1 55 1-28 1 0 1-29 1 62 1 11 1 4 1-49 1-8 1-30 1 65 1 64 1-103 1 9 1 38 1-57 1 56 1-22 1 49 1-72 1 25 1-9 1 0 1-3 1-38 1 62 1-40 1 14 1 7 1-30 1 35 1 23 1 49 1-51 1-20 1-5 1 6 1 45 1-47 1 50 1-31 1-39 1 13 1-52 1 54 1 54 1-44 1 12 1 31 1-113 1 56 1 37 1-31 1-6 1 9 1 28 1-52 1 62 1-87 1 97 1-36 1-7 1 51 1-63 1 8 1 42 1-23 1 14 1 9 1-59 1 35 1 1 1 18 1-24 1 6 1-34 1 42 1 34 1-123 1 62 1-62 1 114 1-22 1-18 1-17 1 0 1 14 1-19 1 43 1-38 1-23 1 2 1 32 1-16 1 10 1-14 1 20 1-65 1 83 1-23 1 11 1 6 1 7 1-19 1-7 1-17 1 7 1 30 1-59 1 35 1 3 1-9 1 31 1-13 1-11 1-7 1 3 1-22 1 15 1 42 1-6 1-43 1 12 1 32 1 0 1 68 1-102 1-12 1 27 1 1 1 3 1-6 1-3 1-17 1-2 1 65 1-29 1-65 1 55 1 26 1-31 1-39 1 71 1-45 1 19 1-38 1 33 1 8 1-1 1-42 1 29 1 4 1-9 1 16 1 10 1-12 1 41 1-76 1 22 1 41 1-41 1 14 1-18 1 19 1 5 1 31 1-45 1 25 1-4 1 7 1-74 1 61 1-2 1-46 1 22 1 5 1-36 1 79 1-35 1 2 1 25 1-11 1-5 1 7 1-5 1-13 1 15 1-77 1 89 1-44 1-22 1 13 1 72 1-44 1-29 1 3 1 50 1 45 1-105 1-7 1 78 1-52 1-14 1 64 1-43 1 9 1-6 1 8 1-7 1-31 1-4 1 42 1 8 1-45 1 56 1 46 1-85 1 15 1-37 1 85 1-65 1 3 1-9 1 73 1-93 1 28 1 38 1 23 1-84 1 69 1-51 1-60 1 86 1 14 1 32 1-116 1 78 1-98 1 151 1-104 1 33 1-6 1 24 1-59 1 57 1-81 1 46 1 10 1-12 1 25 1-22 1 10 1-22 1-14 1 19 1 34 1-37 1-7 1 49 1-19 1-9 1 21 1 56 1-58 1-33 1 40 1-73 1 14 1 60 1 40 1-83 1 2 1 164 1-156 1 14 1-36 1 67 1-37 1 30 1 77 1-140 1 80 1-121 1 114 1-67 1-51 1 86 1-11 1 58 1-91 1 138 1-124 1 32 1 31 1-85 1 36 1 93 1-108 1 106 1-53 1-87 1 66 1 6 1 12 1-31 1 47 1 25 1-63 1 28 1-39 1 21 1 0 1 4 1-18 1 20 1-10 1 31 1-58 1 24 1 23 1-3 1 31 1-30 1-10 1 11 1-20 1-11 1 8 1 42 1-65 1-31 1 5 1 9 1 66 1 46 1-37 1-36 1-22 1 23 1 7 1 5 1-28 1 25 1 38 1-15 1-62 1 79 1-56 1 4 1 8 1 29 1-54 1 46 1-2 1-79 1 51 1 73 1-84 1 9 1 4 1 27 1-52 1 110 1-44 1-19 1-10 1 1 1-11 1 1 1 45 1-108 1 34 1 43 1-63 1 20 1 48 1-18 1 27 1-16 1 5 1-4 1-12 1 16 1 9 1 26 1-94 1 16 1 100 1-37 1-46 1-28 1 27 1 79 1-40 1-22 1 66 1-48 1-14 1 9 1 54 1-71 1-15 1 10 1 40 1-51 1 13 1 14 1-31 1 24 1-33 1-8 1 40 1 29 1 13 1-16 1 20 1-76 1 63 1 4 1-18 1-47 1-55 1 43 1 50 1-20 1-13 1 33 1 22 1-47 1 39 1 4 1-81 1 127 1-93 1-9 1 64 1-13 1-101 1 38 1 74 1 14 1-73 1 18 1-15 1 13 1-38 1 77 1-34 1 1 1 54 1-81 1 58 1-55 1 36 1 9 1 11 1-65 1-8 1 30 1 73 1-45 1-48 1 45 1 12 1 11 1-38 1-126 1 172 1-85 1 79 1-12 1 42 1-26 1 11 1 41 1-80 1 4 1-1 1-64 1 59 1-46 1 7 1 71 1-9 1-20 1-22 1 28 1 25 1 0 1-47 1 41 1-43 1-33 1 50 1-38 1 44 1-45 1 32 1 20 1-132 1 166 1-72 1 15 1-11 1 17 1-12 1 7 1 2 1 9 1-14 1-29 1 30 1 37 1-38 1 92 1-79 1 27 1-22 1-125 1 48 1 24 1 82 1-84 1 54 1-45 1 40 1 51 1-59 1 35 1-56 1 59 1-8 1-28 1 43 1 3 1 9 1-57 1 15 1-23 1 37 1 21 1-13 1-78 1 38 1 7 1-29 1-50 1 151 1-25 1-40 1 23 1-37 1 15 1 33 1-85 1 12 1 23 1 1 1 18 1-42 1 4 1 73 1-5 1-60 1 32 1-20 1 4 1-25 1-1 1-38 1 53 1-21 1 33 1-9 1 28 1-45 1 48 1-5 1-5 1 3 1-5 1-4 1-35 1 27 1-19 1 3 1 12 1-31 1 11 1 46 1 3 1-95 1 57 1 39 1-45 1 26 1 14 1-28 1 11 1-13 1 13 1 19 1 34 1-60 1-13 1-9 1 14 1 11 1-17 1 38 1-33 1 3 1-51 1 36 1 51 1-61 1 71 1-52 1 17 1 22 1-20 1-23 1 29 1-46 1 25 1-21 1 37 1-2 1-10 1 21 1 43 1-55 1-2 1-6 1 51 1-11 1-22 1-18 1 17 1-8 1 14 1-10 1-24 1 60 1-47 1 7 1 14 1-19 1 40 1-33 1-16 1-34 1 46 1-8 1-29 1 4 1 23 1 35 1-21 1-15 1-51 1 75 1 30 1-39 1 29 1-49 1 16 1 16 1-26 1 35 1-80 1 48 1 40 1-32 1-5 1 5 1-58 1 60 1 27 1-9 1-13 1-20 1 38 1-40 1 10 1 33 1-26 1-1 1-19 1-16 1 17 1 3 1 19 1-11 1-3 1-78 1 147 1-82 1 32 1-23 1-24 1 19 1-38 1 75 1-16 1 8 1 47 1-61 1 18 1-27 1-34 1 30 1 8 1-141 1 99 1 32 1 41 1-20 1-23 1 0 1-1 1 40 1-11 1 90 1-121 1 45 1-30 1 48 1-14 1-9 1 8 1-52 1-4 1 73 1-40 1 22 1-51 1 27 1-9 1 17 1-5 1-7 1 11 1-2 1-16 1 14 1 0 1-4 1 5 1-5 1 17 1-38 1-2 1 25 1 10 1 5 1-52 1 30 1-22 1-7 1 55 1-25 1 22 1-34 1-4 1 34 1 1 1-15 1-11 1 3 1-10 1 36 1-18 1-36 1 90 1-47 1 21 1-83 1 60 1 34 1-50 1-7 1 40 1-7 1-62 1 35 1 31 1 11 1 1 1-45 1 62 1-77 1 71 1-51 1 0 1 11 1-4 1 45 1-22 1-20 1-52 1 37 1 5 1 24 1-20 1 60 1-56 1-9 1 33 1-33 1-15 1 51 1-7 1-6 1-10 1 0 1 2 1 18 1-27 1-55 1 25 1 65 1-67 1 38 1-20 1 26 1 37 1-72 1 0 1 32 1 6 1-16 1 1 1 0 1-10 1 35 1-39 1-49 1 62 1 10 1 3 1-7 1-17 1 0 1 9 1 0 1 5 1 11 1-23 1 7 1-22 1 60 1-24 1 14 1-60 1 21 1 47 1-7 1-14 1-16 1 15 1-40 1 52 1 18 1-16 1-17 1-24 1 13 1 20 1-39 1 35 1 79 1-185 1 104 1-26 1-43 1 83 1 4 1-34 1 10 1-58 1 73 1-109 1 115 1-4 1 21 1-28 1-27 1 26 1-42 1 60 1 88 1-106 1 5 1 25 1-42 1 3 1-24 1-7 1 20 1 18 1 0 1 0 1-34 1-11 1-2 1 31 1 1 1 48 1-29 1-7 1-41 1 9 1 42 1 15 1-44 1 10 1 29 1-36 1 26 1-8 1-7 1 30 1-85 1 42 1 23 1-16 1-9 1 13 1 20 1 11 1 19 1-52 1 43 1 10 1-20 1-31 1 10 1 1 1 19 1-37 1 16 1-23 1 67 1-12 1 22 1-76 1 12 1 8 1-7 1-15 1 47 1 11 1-27 1 19 1 25 1-20 1-58 1 40 1-46 1 34 1 20 1-24 1-12 1 18 1-38 1 31 1 2 1 19 1-57 1 76 1-39 1-12 1 24 1-38 1 17 1 49 1-51 1-6 1 6 1 27 1 19 1-14 1-35 1 13 1-20 1 34 1 1 1 24 1-42 1 49 1 12 1-72 1 7 1 5 1-20 1 49 1-30 1-33 1 2 1-4 1 47 1-52 1-5 1 40 1 8 1 36 1-42 1 77 1-148 1 120 1-32 1-15 1 14 1-12 1-24 1-3 1 5 1 11 1-51 1 34 1 51 1-28 1 24 1 10 1-17 1 1 1-15 1-20 1 21 1 47 1-27 1-12 1-55 1 70 1 9 1-10 1-5 1-72 1 1 1 110 1-61 1-21 1 45 1-9 1 30 1-44 1-24 1-9 1 23 1 48 1-20 1-13 1 12 1-7 1-65 1 33 1 60 1-36 1 1 1 8 1-54 1 43 1 4 1 27 1-42 1 23 1 15 1-19 1-23 1-9 1 23 1 1 1 83 1-54 1 1 1-20 1 9 1 10 1-15 1-36 1 39 1-2 1-49 1-6 1 44 1-26 1 17 1 7 1-6 1 36 1-45 1 7 1 58 1-110 1 83 1-26 1-42 1 57 1-17 1 51 1-43 1 6 1-19 1 1 1 1 1 32 1 19 1-28 1-17 1 9 1 3 1 26 1 6 1-71 1 64 1-55 1-9 1-5 1 5 1 31 1-4 1-16 1 48 1-69 1 50 1-9 1 20 1-38 1-50 1 45 1-20 1 30 1 26 1-1 1-7 1 17 1-21 1-1 1 45 1-51 1-35 1 10 1 4 1 65 1-12 1-51 1 43 1-10 1-37 1 72 1-42 1-15 1-12 1 30 1-14 1-14 1-15 1 42 1 65 1-70 1 25 1 80 1-57 1-35 1 100 1-111 1-14 1 33 1-87 1 96 1-65 1 61 1-21 1 31 1-25 1-40 1-39 1 102 1-5 1-16 1-14 1 91 1 0 1-60 1-76 1 43 1 29 1-39 1 20 1-9 1-17 1-19 1 38 1-58 1 77 1-21 1-43 1 1 1 35 1-31 1 7 1-43 1 50 1 80 1-60 1-1 1 20 1 13 1-89 1 17 1 58 1 3 1-58 1 70 1-67 1 101 1-97 1 24 1-10 1 20 1-75 1 56 1 29 1 29 1 11 1-84 1-10 1-8 1 95 1-78 1 154 1-88 1-87 1 74 1-141 1 39 1 47 1 21 1 58 1 8 1-96 1 98 1-7 1 11 1-57 1-81 1 137 1 11 1-60 1-24 1-4 1 38 1 11 1 0 1-24 1 14 1-77 1 46 1 64 1-48 1 52 1-52 1 83 1-99 1 21 1 34 1-94 1-16 1 31 1 19 1 73 1-63 1 35 1-51 1 31 1-48 1 17 1 12 1 45 1 7 1-41 1-29 1 98 1-92 1-2 1 43 1-4 1-30 1 44 1 14 1-26 1-45 1 29 1-16 1-18 1 25 1-2 1 2 1 9 1 60 1-49 1 44 1-39 1 99 1-149 1 59 1 18 1 27 1-8 1-38 1-26 1 19 1-23 1 70 1-93 1-77 1 58 1 73 1 89 1-141 1-18 1 74 1-43 1 58 1-33 1 29 1-60 1 87 1-35 1-17 1-25 1 20 1-38 1 8 1-28 1 135 1-94 1-25 1-12 1 51 1-2 1-8 1 56 1-43 1 7 1 10 1-62 1 33 1 15 1-9 1 28 1-65 1 36 1-79 1 51 1 94 1-37 1 28 1 29 1-53 1 39 1-70 1 32 1 24 1-72 1 82 1-43 1-46 1 49 1-14 1-46 1 86 1-31 1-4 1-20 1 20 1-124 1 40 1 43 1 42 1-7 1 13 1-63 1 105 1-29 1-6 1-51 1-9 1 15 1 7 1 9 1-25 1 16 1 37 1-64 1 43 1-26 1 37 1-33 1 39 1-45 1-21 1 43 1-17 1 48 1-95 1 55 1-13 1 28 1 16 1-34 1 8 1-15 1 12 1 4 1 0 1-15 1 4 1 13 1 19 1 52 1-98 1 40 1 4 1 26 1-43 1-36 1 18 1 27 1-85 1 66 1 32 1-21 1-69 1 10 1 57 1 32 1-67 1 23 1-5 1 25 1 30 1-22 1-9 1 8 1-10 1-4 1 38 1-34 1-5 1-38 1 65 1 4 1 11 1-57 1 28 1-17 1-47 1 43 1 41 1-85 1 73 1 15 1-60 1 137 1-95 1-68 1 43 1-16 1 35 1-16 1-39 1 47 1-29 1 37 1-51 1 59 1-40 1 11 1-23 1 2 1 14 1 68 1-43 1 0 1 26 1-42 1 20 1-33 1 64 1-28 1-12 1 52 1-21 1-32 1 25 1-63 1 55 1-38 1 9 1 11 1-30 1 16 1-23 1 32 1-12 1 70 1-57 1 19 1 6 1-40 1-29 1 13 1 27 1-3 1 2 1 25 1-52 1-1 1 48 1 10 1 35 1-21 1-38 1-36 1 20 1 1 1 34 1-13 1 6 1-19 1-4 1 36 1-57 1 27 1 30 1-57 1 54 1-48 1 37 1-15 1 30 1-1 1-31 1 0 1 1 1-26 1 27 1-10 1-6 1 43 1-6 1-38 1-27 1 34 1 48 1-63 1-14 1 31 1-2 1 29 1-85 1 108 1-30 1-29 1 38 1 13 1 13 1-32 1-37 1 66 1-70 1 16 1-12 1 26 1-42 1-45 1 91 1 12 1-22 1-11 1 67 1-61 1 13 1 6 1-37 1 12 1 25 1-8 1-18 1-13 1-16 1 53 1 10 1-17 1 13 1-42 1 10 1 14 1-41 1 77 1-12 1-12 1-19 1-22 1 23 1 16 1-2 1 29 1-11 1 15 1-50 1 32 1-66 1 38 1 20 1 16 1-10 1-13 1 21 1-77 1 42 1 49 1-70 1 62 1-22 1 1 1-3 1-19 1-2 1 19 1 15 1-48 1-55 1 102 1-109 1 39 1 80 1-24 1-26 1 49 1-14 1 20 1-38 1 1 1-26 1 0 1 52 1 0 1-41 1 29 1 22 1 14 1-49 1 46 1-36 1-25 1 27 1-3 1-14 1 25 1-67 1 54 1-53 1 93 1-18 1-20 1-47 1 47 1-66 1 74 1-45 1 14 1 13 1-25 1 59 1-66 1 26 1 14 1 12 1-43 1 56 1-70 1 13 1 22 1 13 1-2 1-24 1 36 1-36 1-1 1 12 1 6 1-27 1 33 1 35 1-35 1 52 1-79 1 19 1 38 1 19 1-35 1-19 1-26 1 28 1 18 1-73 1 53 1 23 1-18 1-7 1-5 1 21 1 8 1-43 1-42 1 110 1-55 1 15 1-16 1 2 1-20 1 8 1 36 1-37 1 23 1 23 1-14 1 17 1-75 1 67 1-39 1 22 1 1 1-4 1 34 1-15 1-4 1-2 1-29 1 40 1-32 1-71 1 122 1-47 1-17 1 98 1-87 1 11 1 33 1 8 1-50 1-44 1 48 1 20 1 22 1-59 1 13 1 22 1-7 1-29 1 59 1-24 1-14 1 11 1-6 1-37 1 47 1-6 1-13 1 33 1-50 1 67 1-31 1 16 1-66 1 22 1 17 1 34 1-44 1-15 1 34 1 27 1 20 1-65 1 9 1-34 1 90 1-48 1 32 1-42 1-6 1 16 1-25 1 5 1-8 1 26 1 6 1 35 1-93 1-68 1 94 1-34 1 41 1-15 1 8 1 75 1-21 1-58 1 2 1 10 1 32 1-16 1 8 1-14 1-17 1 19 1 15 1-16 1 51 1-98 1 66 1-52 1 36 1 25 1-21 1 11 1-42 1-22 1 87 1-2 1-13 1-36 1 9 1 2 1 31 1-39 1-12 1-9 1 4 1 39 1-38 1-14 1 80 1-70 1 46 1-87 1 88 1-2 1-4 1 13 1-5 1 10 1-35 1 10 1-34 1-11 1 74 1-53 1 0 1 40 1 24 1-68 1 96 1-107 1 21 1 24 1-11 1 68 1-112 1 60 1-9 1-48 1 48 1 29 1-56 1 3 1 19 1 17 1-9 1 2 1-7 1 12 1-41 1-31 1 41 1 22 1-38 1 47 1-22 1-9 1 1 1-25 1 42 1-13 1 48 1-43 1 3 1 13 1 4 1 24 1-15 1-7 1-9 1-27 1 18 1-6 1-21 1-25 1 105 1 6 1-77 1-79 1 95 1 23 1-33 1-18 1 79 1-74 1-10 1 2 1 7 1-32 1 36 1 1 1 27 1-5 1-4 1 21 1 5 1 1 1-26 1-7 1-64 1 92 1 14 1-90 1 52 1 10 1-3 1 9 1-33 1 4 1 54 1 17 1-53 1-3 1 23 1-45 1 32 1-33 1 58 1-45 1-13 1 62 1-66 1 55 1-20 1-1 1-14 1-15 1 10 1 47 1-31 1-7 1-51 1 25 1 30 1 65 1-35 1-25 1-22 1-68 1 38 1 38 1-29 1 46 1 32 1-44 1 45 1-19 1-35 1 16 1-5 1-9 1 21 1 40 1-96 1 69 1-10 1 1 1-85 1 133 1-109 1 62 1-24 1-11 1 52 1-32 1 2 1-18 1 48 1-46 1 39 1-3 1 65 1-81 1-17 1 48 1-8 1-17 1-49 1 35 1-18 1 79 1-31 1 7 1-13 1-68 1 36 1-55 1 99 1-21 1 28 1-39 1 58 1-2 1-68 1-48 1 71 1-40 1 13 1 49 1-8 1-65 1 5 1-13 1 10 1 86 1-42 1-10 1 8 1 17 1-21 1-3 1-49 1 65 1-9 1-4 1-48 1 120 1 33 1-117 1-19 1 54 1-19 1-62 1 118 1-3 1-30 1-18 1 66 1-64 1 32 1-64 1 7 1-2 1-22 1 33 1 37 1-42 1 114 1-147 1 33 1 11 1 22 1 30 1-122 1 94 1-39 1-26 1 69 1-7 1-12 1 42 1-96 1-11 1 83 1-64 1-28 1 33 1-48 1 67 1-30 1 31 1 17 1 50 1-114 1 57 1-8 1 42 1-27 1 6 1-29 1 77 1-57 1-6 1 15 1-34 1 22 1 0 1-72 1 97 1 55 1-79 1-14 1-23 1 30 1-24 1 34 1 9 1 12 1-14 1-27 1-15 1 15 1 8 1 20 1-58 1 19 1-19 1 58 1 6 1-45 1 83 1-14 1-56 1 70 1-78 1 89 1-67 1 76 1-71 1-32 1-33 1 65 1-6 1 39 1 3 1-32 1-44 1 37 1-20 1-4 1 7 1 41 1-31 1 4 1-31 1 48 1-55 1 34 1-8 1 11 1-9 1 7 1 39 1-24 1 10 1-47 1 34 1-12 1-31 1 14 1 26 1-15 1 43 1-61 1 40 1-3 1-12 1 8 1-1 1 6 1-6 1-23 1 30 1 4 1-24 1 16 1-12 1-30 1 22 1-7 1 28 1 17 1-50 1 40 1-17 1 11 1 8 1-65 1 43 1 0 1 0 1 35 1-73 1-41 1 97 1-27 1-17 1 23 1 40 1-28 1-28 1-58 1 111 1-79 1 85 1-21 1 38 1-77 1 36 1-3 1 55 1-55 1-136 1 99 1 28 1-38 1 27 1-27 1 30 1 39 1 12 1-51 1-24 1 83 1-88 1 51 1 1 1-25 1-18 1 4 1 42 1-40 1 55 1-85 1 55 1 9 1 19 1-51 1 20 1-14 1-26 1 13 1 0 1 25 1 89 1-99 1-8 1 45 1 38 1-20 1-52 1-40 1 32 1 4 1-3 1 33 1-13 1 9 1 2 1-7 1-13 1-30 1 24 1-42 1 0 1 65 1 29 1-65 1 74 1-37 1-49 1-11 1-19 1 107 1-70 1 20 1 23 1-64 1 62 1-8 1-32 1-47 1 80 1-17 1-2 1 32 1-55 1 90 1-19 1-58 1 57 1-80 1-4 1-1 1 47 1-29 1 46 1-27 1 11 1 1 1-13 1 13 1-7 1-5 1 28 1-7 1 21 1-30 1-14 1 51 1-91 1 66 1-18 1 30 1-15 1-6 1-9 1 24 1 6 1-10 1 6 1 3 1-33 1-18 1 25 1-46 1 71 1 44 1-34 1-80 1 33 1-17 1-63 1 92 1 32 1-33 1-1 1-18 1 44 1-100 1 98 1-38 1 34 1-44 1-3 1-31 1 67 1-21 1-21 1 25 1 53 1-75 1 29 1-55 1 5 1 105 1-39 1-13 1-55 1 84 1-27 1 9 1-25 1 1 1 30 1-34 1 20 1-13 1 64 1-1 1-46 1 53 1-77 1-26 1 17 1 36 1 9 1-14 1-43 1 78 1-66 1 15 1 14 1 52 1-56 1-3 1-26 1 26 1 5 1 43 1-17 1-56 1 38 1-19 1 1 1 12 1-20 1 26 1 29 1-48 1-3 1-23 1 39 1 9 1 19 1-27 1-22 1 48 1-43 1-15 1 32 1-10 1 24 1-31 1 78 1-26 1-42 1 36 1-41 1-19 1-29 1 15 1 80 1-29 1-15 1-7 1 11 1-3 1 16 1-15 1-26 1 52 1-11 1 17 1-23 1 24 1-11 1-62 1 54 1-14 1 6 1 10 1-38 1 56 1-26 1-18 1 20 1 6 1-4 1-5 1-15 1 8 1-12 1 24 1-44 1 46 1-46 1 26 1 11 1 33 1-18 1-51 1 20 1 8 1-41 1 61 1 2 1-19 1 34 1-13 1-36 1 54 1-43 1 33 1 10 1-59 1 34 1 9 1 25 1-51 1 15 1-7 1 0 1 25 1-28 1 42 1-25 1-43 1 30 1-33 1 26 1-18 1 13 1-20 1 9 1-6 1 30 1-25 1 24 1-28 1 20 1-36 1 41 1 30 1-41 1-9 1 57 1 12 1-46 1-2 1 4 1-39 1 9 1 53 1-22 1 0 1-31 1-10 1 49 1-9 1 24 1-16 1 4 1-17 1-11 1 11 1-1 1-3 1 40 1-6 1-55 1 13 1 15 1-13 1 1 1 57 1-53 1 22 1-11 1-8 1 22 1-39 1 9 1 10 1 20 1-53 1 66 1-26 1 20 1-23 1 14 1 12 1-47 1 28 1-6 1 3 1-93 1 23 1 95 1-30 1-2 1 16 1-14 1-7 1 30 1-72 1 62 1-29 1 22 1 16 1-51 1 18 1-52 1 59 1-1 1 20 1 6 1-29 1-1 1 5 1-16 1-7 1 26 1-20 1 11 1 2 1-10 1 52 1-15 1-27 1 8 1-12 1 34 1-46 1 39 1-4 1-24 1 29 1 1 1-16 1-2 1 28 1-65 1 11 1 30 1-33 1 58 1-38 1 5 1 7 1-16 1 57 1-36 1-36 1 24 1 10 1 29 1-7 1-20 1 13 1 30 1-38 1-4 1-18 1-6 1 23 1-47 1 4 1 26 1 21 1 5 1-44 1-3 1-6 1 10 1 23 1 29 1 5 1-31 1 7 1-1 1-18 1 12 1-23 1 39 1-19 1-6 1 48 1-41 1 56 1-87 1 30 1 9 1 0 1-16 1 7 1 26 1-25 1 23 1 13 1-16 1-25 1-38 1 54 1-27 1 29 1-39 1 52 1 7 1-10 1-22 1 11 1-5 1-50 1 46 1 16 1 10 1-18 1-8 1-12 1 25 1 6 1-49 1 46 1-15 1-7 1 47 1-5 1-96 1 50 1 42 1-93 1 62 1-7 1 26 1-35 1 24 1-12 1-21 1 35 1-14 1 5 1 42 1-57 1 25 1 2 1-20 1-13 1 4 1 42 1-39 1 2 1 21 1 9 1-58 1 7 1 37 1-13 1 21 1 11 1-74 1 0 1 43 1-48 1 45 1-8 1 30 1-19 1-14 1 59 1-33 1-74 1 160 1-92 1-7 1 32 1-40 1 32 1-66 1 86 1-26 1-58 1 40 1 11 1 28 1-12 1-33 1 31 1 28 1-43 1-115 1 120 1-22 1 21 1 69 1-86 1 48 1-39 1 48 1-47 1 15 1-24 1 15 1-4 1-43 1 51 1-22 1-4 1 8 1 20 1-63 1 103 1-40 1 47 1-77 1 40 1-33 1 77 1-134 1 99 1-46 1 24 1 22 1 15 1-72 1-8 1 8 1 9 1 17 1 0 1 50 1-58 1 87 1-48 1-64 1 54 1-38 1 39 1-61 1 37 1 64 1-38 1-11 1 17 1 0 1-71 1 101 1-93 1-10 1 35 1 11 1 70 1-141 1 37 1-11 1 12 1 46 1-54 1 6 1 1 1-9 1 60 1-36 1 18 1-49 1 75 1-17 1-69 1 83 1-7 1-39 1 30 1 30 1 3 1-95 1 21 1 59 1-63 1-9 1 44 1 12 1 3 1-35 1 9 1 50 1-16 1-29 1-56 1 52 1 4 1-60 1 62 1-29 1 36 1 55 1-120 1 155 1-141 1-40 1 23 1 82 1-10 1 61 1-80 1 59 1-84 1 70 1-18 1 7 1-4 1 33 1-58 1 33 1-34 1-53 1 29 1 94 1-80 1 18 1 10 1-1 1 57 1-65 1 38 1-78 1 100 1-54 1-15 1-44 1 41 1-1 1 99 1-129 1 10 1 13 1 33 1-19 1 4 1 21 1 17 1-68 1-8 1 31 1 33 1-56 1 36 1-21 1-22 1 38 1 40 1-45 1 44 1 9 1-48 1-23 1 15 1 46 1-36 1-20 1-11 1-59 1 90 1 12 1 11 1 29 1-36 1 0 1-53 1-11 1 44 1-16 1 9 1 3 1-30 1 39 1-55 1 87 1-17 1-11 1-8 1 13 1-42 1 58 1-29 1-30 1 55 1 18 1-57 1-63 1 113 1-52 1-21 1 35 1 6 1-25 1 33 1 0 1 38 1-46 1 23 1-11 1-10 1-29 1 47 1-2 1-33 1 8 1 6 1-33 1 120 1-81 1 16 1-9 1 2 1-14 1-42 1 49 1 9 1 6 1-9 1-22 1-40 1 89 1-39 1-68 1 104 1-3 1-30 1-35 1 21 1 8 1 41 1-39 1 15 1 49 1-97 1-42 1 42 1 37 1 20 1-3 1-5 1-11 1 6 1-67 1 45 1 5 1 67 1-58 1 1 1-59 1 38 1 27 1 11 1-70 1 50 1-45 1 64 1-61 1 31 1 26 1-43 1 31 1 0 1-2 1-42 1 80 1-39 1 11 1-34 1 1 1-26 1 24 1 77 1-91 1 24 1 10 1-41 1 48 1 0 1 3 1-12 1-13 1 64 1-62 1 61 1-23 1-26 1-13 1 50 1-24 1 17 1-38 1-6 1 37 1-17 1 21 1-54 1 25 1 26 1-9 1 5 1-12 1 12 1 5 1-34 1-4 1 7 1-40 1-2 1-8 1-25 1 134 1-41 1 12 1-37 1 16 1 22 1-78 1 156 1-83 1 15 1-13 1 6 1-10 1-36 1-26 1 86 1-60 1 20 1-17 1 5 1-16 1-10 1 38 1-15 1 4 1 5 1-25 1 2 1 3 1 74 1-45 1-32 1 91 1-103 1 28 1 21 1 5 1-25 1 18 1-13 1-18 1 45 1 4 1-21 1-25 1 77 1-59 1-33 1-43 1 124 1-80 1-19 1-59 1 89 1 55 1-40 1-7 1 34 1 19 1-78 1-50 1 151 1-30 1 22 1-71 1-3 1-16 1 36 1 6 1 13 1-26 1 65 1-72 1 36 1 44 1-29 1-7 1-40 1-16 1 57 1-36 1 54 1-52 1-47 1 40 1 28 1-51 1-50 1 115 1-79 1 11 1 58 1-79 1 144 1-63 1-57 1 78 1-38 1 62 1-55 1 30 1-75 1 88 1-105 1 146 1-114 1-6 1-33 1 93 1-45 1 32 1-108 1 116 1-19 1-26 1 20 1 18 1 19 1-82 1 11 1 0 1 67 1 20 1-55 1 15 1 17 1-59 1 27 1-27 1 70 1-57 1-37 1 107 1-67 1 47 1-2 1-45 1-24 1 12 1 31 1 6 1 14 1-9 1-10 1 0 1 52 1-57 1 22 1-20 1-83 1 107 1 21 1-74 1 44 1-56 1 44 1-33 1 59 1-12 1-22 1-7 1-3 1 9 1-51 1 93 1-27 1-29 1-23 1 47 1 23 1 15 1-89 1 43 1-10 1 15 1-44 1 35 1 43 1-39 1-13 1 9 1 8 1 6 1 21 1-1 1-3 1 43 1-72 1-20 1 40 1-52 1 61 1-39 1-8 1-72 1 73 1 26 1-43 1-48 1 119 1-10 1-89 1 106 1-36 1-44 1 60 1 27 1-78 1 77 1-36 1-47 1 66 1-33 1 18 1-12 1 51 1-93 1 49 1 18 1-103 1 78 1-90 1 63 1 34 1-33 1 31 1-8 1-43 1 32 1-64 1 57 1 28 1 80 1-69 1 25 1-17 1-4 1-132 1 65 1-20 1 4 1 48 1 12 1-36 1 59 1 7 1-16 1 13 1-30 1-35 1-2 1 61 1-58 1 76 1 2 1-88 1 57 1-69 1 81 1-13 1-51 1 29 1 84 1-85 1-8 1 23 1 24 1-79 1 61 1 60 1-73 1 7 1-17 1 5 1 26 1 11 1-43 1-40 1 19 1 90 1-24 1-53 1-5 1 69 1-48 1-5 1-31 1 41 1 71 1-33 1-118 1 5 1 97 1-37 1 12 1-24 1 49 1-41 1-10 1 59 1-12 1-23 1-5 1-36 1 38 1-32 1-13 1 80 1-59 1 4 1 12 1 20 1-36 1 58 1-36 1 9 1-4 1-29 1 36 1 42 1-68 1-1 1 19 1 14 1-15 1 1 1 28 1-23 1 1 1-62 1 81 1-65 1 50 1 4 1-61 1 24 1 70 1-66 1 61 1-58 1 55 1-25 1-44 1 40 1-5 1 38 1-55 1 12 1 5 1 20 1-19 1-21 1 7 1-21 1 32 1-5 1-47 1 70 1 5 1-4 1-51 1-6 1 47 1 8 1-5 1 14 1-17 1-24 1-13 1 63 1-4 1-36 1-22 1 30 1 58 1-68 1 6 1 21 1-78 1 32 1 51 1-12 1-35 1 23 1-22 1 37 1 17 1-16 1-22 1 46 1-28 1-50 1 41 1-24 1 28 1-46 1 23 1 12 1 9 1 7 1-28 1 30 1 25 1-21 1 6 1-11 1-9 1-2 1 20 1-23 1-22 1-14 1 0 1 87 1-51 1-9 1 0 1 4 1-55 1 46 1 35 1-95 1 46 1 33 1 23 1 12 1-4 1-27 1-8 1 33 1-45 1 39 1-18 1-46 1-15 1 61 1 3 1-41 1 34 1-38 1 44 1-51 1 79 1-47 1-28 1 40 1 2 1-52 1 59 1-8 1 21 1 28 1-20 1-74 1 98 1 34 1-91 1 2 1-1 1 8 1-27 1 27 1 25 1-35 1-12 1 8 1-29 1 24 1-3 1 4 1 19 1-9 1-27 1 49 1-24 1 19 1-37 1-8 1 49 1-55 1 10 1-22 1 63 1-30 1 42 1-70 1 75 1-26 1-53 1 47 1 5 1 12 1-10 1-68 1 23 1-29 1 37 1 47 1-21 1 46 1-6 1-79 1 72 1-55 1 46 1-21 1 22 1 49 1-144 1 48 1 42 1 15 1 26 1-39 1 11 1-6 1-14 1 70 1-16 1-85 1-36 1 33 1 16 1 21 1-17 1-28 1 22 1 11 1 53 1-27 1 0 1-79 1 57 1-61 1 18 1 51 1-57 1 25 1-26 1 74 1 0 1-44 1 50 1-12 1-32 1 124 1-103 1-5 1 30 1-49 1 19 1-31 1 19 1-4 1 13 1-19 1 37 1-22 1 53 1-31 1-28 1-14 1-4 1-29 1 48 1-44 1 90 1-61 1 25 1-35 1 40 1-16 1 65 1-116 1 37 1 24 1-1 1-11 1 16 1-11 1 25 1-28 1 27 1-8 1-34 1 6 1 34 1-2 1-15 1-39 1 70 1-38 1-10 1 22 1 15 1-34 1-25 1 92 1-41 1 37 1-52 1-17 1 46 1-54 1 60 1-34 1-20 1 62 1-66 1-7 1 3 1 6 1 18 1 48 1-111 1 4 1 42 1 84 1-128 1 31 1 35 1 8 1 28 1-39 1 33 1-60 1 32 1-2 1 31 1 22 1-29 1-28 1-34 1 64 1-38 1-58 1 52 1-67 1 116 1-57 1 60 1-41 1 2 1-50 1 22 1 17 1 11 1 28 1-87 1 45 1 14 1 4 1-46 1-16 1 56 1-49 1 29 1 17 1 10 1-53 1 16 1 47 1 19 1 13 1-8 1-69 1 16 1 11 1-19 1 10 1-18 1 45 1-16 1-3 1-22 1 37 1-4 1-68 1 68 1 13 1-17 1-15 1 19 1-9 1 18 1 1 1-63 1 43 1-42 1 53 1-48 1 58 1-48 1 25 1 1 1 26 1 42 1-88 1-4 1 32 1 52 1-61 1-11 1-34 1 27 1 17 1 54 1-29 1-62 1 125 1-92 1-4 1-3 1 21 1 13 1-73 1 101 1-52 1-2 1 7 1 9 1-7 1-12 1 50 1-66 1 18 1 19 1-58 1 8 1 49 1-5 1-35 1 1 1-22 1-9 1-54 1 56 1 88 1-82 1 84 1 44 1-126 1 91 1-42 1 21 1 82 1-101 1 2 1 45 1 12 1 13 1-62 1-44 1-22 1 60 1 5 1 11 1-51 1 59 1-24 1 4 1-32 1 7 1-64 1 85 1 20 1-8 1 13 1-59 1 49 1-16 1 5 1-7 1 1 1-22 1-4 1-16 1 30 1 90 1-80 1-81 1 87 1 16 1-40 1 20 1 50 1-114 1 89 1-36 1 41 1-15 1 0 1-83 1 38 1 37 1-1 1-38 1 26 1 26 1-61 1 24 1-18 1 94 1-106 1 14 1 55 1 5 1-47 1-3 1 37 1-29 1-63 1 11 1 81 1 17 1-57 1 61 1-42 1 49 1-70 1 2 1 21 1 17 1-48 1 55 1-38 1-2 1-1 1 17 1-25 1 62 1-10 1-61 1 29 1-109 1 63 1 42 1-12 1 51 1-10 1-32 1-11 1-36 1 69 1 44 1 37 1-113 1-42 1 50 1 26 1 68 1-62 1-48 1 18 1 61 1-70 1-60 1 80 1 8 1 13 1-46 1 54 1-12 1 19 1-28 1-35 1-27 1 40 1 25 1-68 1 88 1-42 1-1 1-5 1 6 1 29 1-54 1 75 1-70 1 34 1-8 1-30 1 43 1-42 1 7 1 92 1-80 1 19 1-9 1 58 1-98 1 79 1-28 1-10 1-4 1-4 1-25 1 19 1 7 1 23 1-19 1 0 1-27 1 39 1-21 1 11 1 25 1-41 1 2 1 4 1 48 1 10 1-58 1 1 1 38 1-37 1 53 1-14 1-23 1-55 1 61 1 3 1-25 1-21 1 31 1-42 1 39 1-10 1 61 1-61 1 42 1-7 1-14 1 6 1-23 1-7 1 20 1-6 1 24 1-8 1 8 1-35 1 43 1-54 1-28 1 20 1-50 1 60 1 15 1 38 1 5 1-39 1 16 1-26 1 14 1-15 1 30 1-4 1 43 1-45 1-26 1 32 1-30 1 41 1-50 1 4 1-7 1 21 1 7 1 42 1-32 1-39 1 44 1-34 1 43 1-28 1-25 1 61 1-32 1-6 1 28 1-3 1-47 1 43 1-15 1-7 1 38 1 1 1-9 1-25 1 3 1-3 1-23 1 61 1-10 1 18 1-58 1 26 1 1 1-23 1 45 1-22 1 43 1-68 1 57 1-74 1 23 1-1 1 11 1-1 1 5 1 13 1-11 1-1 1-15 1 37 1-36 1 21 1 21 1-17 1 40 1-46 1 9 1-19 1-12 1-7 1-8 1 25 1 14 1-9 1-11 1 20 1 10 1-15 1-5 1-56 1 20 1 37 1-10 1-8 1 24 1-37 1 37 1 12 1-14 1-15 1 10 1-8 1 30 1-14 1-12 1-4 1 51 1-53 1 24 1-6 1-10 1 13 1-17 1 25 1-25 1-27 1 38 1 10 1-7 1-34 1 49 1-12 1-32 1 7 1 16 1 0 1-33 1 13 1 15 1-24 1 29 1 15 1 25 1-38 1 22 1-35 1 1 1 24 1-43 1 22 1-53 1 90 1 0 1 4 1-20 1-2 1-49 1 59 1-16 1 14 1-29 1-4 1 23 1 0 1-22 1-3 1 76 1-70 1-30 1 61 1-26 1 19 1-29 1 49 1-54 1 7 1 0 1 19 1-47 1 70 1-33 1 63 1-82 1 6 1 22 1 25 1-36 1-30 1 38 1 17 1-68 1 71 1 4 1-8 1-18 1 50 1-29 1-14 1-17 1-13 1-11 1 44 1 3 1 31 1-58 1-2 1 51 1-63 1 95 1-115 1 58 1-20 1 37 1-45 1 35 1-20 1 7 1 7 1-22 1 11 1-7 1 31 1-44 1 49 1-65 1 61 1-52 1 6 1 64 1-97 1 48 1 31 1-31 1-3 1-41 1 65 1-4 1 2 1-4 1-4 1-11 1-4 1 10 1 40 1-46 1-38 1 49 1 27 1-10 1-14 1-35 1 27 1-9 1-7 1 42 1 40 1-114 1 63 1-20 1-8 1 5 1 9 1-2 1-47 1 63 1-50 1 54 1-1 1 10 1-62 1 47 1 15 1-13 1 14 1-19 1-47 1 12 1-7 1 71 1-33 1-31 1-39 1 54 1 57 1-42 1-11 1 24 1-33 1-17 1 46 1-69 1 93 1-42 1-19 1-22 1 165 1-58 1-54 1-54 1 175 1-176 1 46 1-32 1-20 1-17 1 28 1 72 1-37 1-21 1-24 1 102 1-13 1-60 1 37 1-33 1-2 1 10 1 41 1 6 1-41 1 109 1-66 1-71 1 121 1-65 1 24 1-30 1-54 1 27 1 16 1 20 1-34 1 9 1 11 1 19 1-18 1 2 1 35 1-70 1 1 1-38 1 5 1 37 1 24 1-39 1-26 1 61 1-45 1 59 1-29 1 6 1 54 1-30 1-12 1-57 1 92 1-79 1 29 1 91 1-129 1 12 1 48 1-93 1 68 1 58 1-52 1 8 1-4 1-41 1-11 1-77 1 171 1 0 1-44 1 22 1-21 1-7 1 6 1 57 1-43 1-16 1-69 1 76 1-3 1 14 1-22 1 84 1 10 1-38 1-56 1 35 1 83 1-132 1-14 1 105 1-57 1-2 1-39 1 11 1 46 1-20 1-9 1 32 1 64 1-77 1 15 1-64 1 8 1 34 1-31 1 4 1-64 1 94 1 3 1-54 1 78 1-20 1-56 1-13 1 50 1 0 1-72 1 96 1-47 1 10 1-12 1 9 1-27 1 9 1 131 1-33 1-35 1-57 1 79 1-31 1-15 1 6 1-64 1 35 1 34 1 16 1-35 1 18 1 14 1-39 1-55 1 86 1-3 1-38 1 19 1-3 1 36 1-11 1 13 1-8 1 24 1-86 1 1 1 56 1 15 1-13 1-49 1 38 1-26 1-31 1 36 1-48 1 49 1 7 1-17 1-5 1 14 1-10 1-44 1 32 1 69 1-100 1-2 1 58 1 14 1 24 1-36 1-41 1 48 1-35 1 23 1 18 1 1 1 11 1-74 1 70 1-62 1 53 1 23 1-86 1 100 1-91 1 52 1 12 1 8 1-78 1 120 1-61 1-69 1 78 1 12 1 6 1-44 1-14 1 18 1-43 1 1 1 72 1 0 1-55 1 44 1-19 1 38 1-50 1 43 1-42 1 19 1-48 1 39 1 27 1 10 1-14 1-31 1-7 1 51 1-25 1 7 1 24 1-30 1 8 1-24 1-28 1 37 1-34 1 96 1 3 1-49 1-62 1 58 1-59 1 68 1-40 1 120 1-156 1 40 1 68 1-27 1-28 1-30 1-2 1 41 1-44 1 13 1 1 1 10 1-38 1-1 1 40 1 4 1 11 1-18 1 11 1-18 1 25 1-34 1-40 1 39 1 63 1-1 1-28 1-15 1 12 1-8 1 8 1-22 1 0 1-7 1 30 1-19 1-13 1 35 1 35 1-26 1-17 1 21 1-4 1-52 1-7 1 78 1-27 1 25 1-45 1 31 1 1 1-14 1 6 1-6 1-25 1 32 1 6 1-67 1 23 1 63 1-62 1-10 1-18 1 45 1-8 1-26 1 40 1-12 1-45 1 18 1 27 1 15 1-18 1-20 1 64 1-39 1 23 1-22 1 16 1-30 1 19 1-33 1 51 1-15 1 27 1-72 1 75 1-16 1-50 1 48 1-19 1-4 1 10 1 37 1-62 1 84 1-30 1-40 1 37 1 5 1-37 1 25 1-21 1 18 1-42 1 16 1-1 1 17 1 9 1 20 1-18 1-16 1-1 1 6 1 7 1 0 1 36 1-70 1 16 1 48 1-40 1-50 1 52 1-10 1 24 1-55 1 3 1-41 1 111 1-85 1 54 1 7 1 15 1-64 1 27 1 17 1-1 1-6 1-47 1 35 1-16 1 50 1-33 1 46 1-32 1 15 1-132 1 99 1-43 1 74 1 4 1-100 1 85 1-33 1 95 1-104 1-10 1 64 1-7 1 78 1-55 1-19 1 21 1 5 1-38 1 21 1 22 1 5 1-8 1 7 1-55 1-6 1-4 1 14 1-43 1 40 1-19 1 60 1-96 1 41 1-46 1 46 1 1 1 15 1-20 1 26 1 20 1-31 1 45 1-18 1 0 1-16 1 4 1 72 1-79 1-16 1-11 1 114 1-122 1 113 1-99 1 22 1-7 1 50 1-63 1 92 1-77 1-9 1 21 1-10 1 108 1-153 1 64 1 33 1 16 1-49 1-28 1-26 1 23 1 48 1-44 1 18 1-3 1-5 1 45 1-49 1 55 1-56 1-37 1 68 1-18 1 58 1-56 1-37 1-3 1 70 1-89 1 4 1 14 1 51 1 25 1-50 1 8 1 30 1-32 1 10 1-30 1 56 1-68 1 45 1-26 1-52 1 49 1 40 1-5 1-39 1 33 1-5 1 15 1-49 1 41 1-40 1 56 1-10 1-32 1-8 1 18 1-23 1 14 1 87 1-85 1-31 1 39 1 7 1 52 1-78 1 59 1-14 1 42 1-82 1 18 1 45 1-46 1 45 1-54 1 11 1 25 1-25 1-17 1 36 1-27 1-17 1 27 1-7 1-25 1 19 1-5 1 11 1 43 1-24 1 5 1 7 1-47 1-8 1-32 1 21 1 17 1 49 1-59 1 48 1-50 1 34 1-31 1 40 1-5 1 5 1-39 1 65 1-82 1-14 1 80 1 15 1-29 1 12 1 13 1-77 1 92 1-63 1 47 1 79 1-110 1-24 1 14 1 11 1 2 1-87 1 64 1-2 1 19 1-14 1 10 1 45 1-5 1 4 1-29 1-6 1-38 1 38 1 37 1 8 1-11 1-45 1 5 1-54 1 69 1-28 1 14 1-10 1 94 1-123 1 45 1-48 1 28 1 32 1-60 1 37 1 27 1-37 1 67 1-58 1 41 1-30 1-9 1 29 1 48 1-106 1 22 1 56 1-50 1-28 1 55 1-57 1 97 1-91 1-14 1 12 1 39 1-23 1 15 1-16 1 23 1-10 1 38 1-33 1 17 1-26 1 5 1 30 1 32 1-71 1 6 1-38 1 19 1 14 1 66 1-81 1 16 1-4 1 48 1-24 1-7 1-7 1 1 1-6 1 5 1 52 1-63 1-13 1 30 1-3 1 18 1-70 1 53 1-13 1 7 1-10 1 2 1 58 1-59 1 17 1-1 1 24 1-23 1-53 1 54 1 9 1 20 1-48 1-31 1 74 1-28 1-23 1-25 1-2 1 68 1-26 1 23 1-11 1-30 1 18 1 24 1-2 1 3 1-25 1-6 1 35 1-21 1-22 1 47 1-22 1-34 1 35 1 21 1 25 1-34 1 10 1-21 1-19 1 41 1-49 1 28 1 2 1 29 1-19 1-39 1 6 1 9 1-2 1 6 1 34 1-44 1 19 1 5 1-16 1 27 1-62 1 68 1-45 1 9 1-7 1 1 1 3 1 34 1-119 1 103 1 17 1-37 1-5 1 30 1-11 1 6 1-20 1 43 1-2 1-45 1 15 1 11 1 22 1-51 1 21 1 47 1-59 1 3 1-17 1 14 1 5 1 14 1 1 1-27 1 33 1-30 1 20 1-30 1 0 1 2 1 13 1 49 1-21 1-14 1-5 1 10 1-15 1-10 1-41 1 68 1 17 1-57 1 47 1-5 1-14 1 6 1 13 1-13 1 11 1-56 1 22 1 21 1-7 1-33 1 10 1 96 1-78 1 49 1-48 1 47 1-67 1 36 1 3 1-36 1 36 1-10 1 7 1 29 1-68 1 53 1-42 1 3 1-1 1-12 1 61 1-21 1 53 1-68 1-13 1 6 1 22 1-9 1 7 1 22 1-27 1-19 1 16 1 18 1-74 1 11 1 41 1 28 1-57 1 50 1-59 1 110 1-97 1-5 1 52 1-14 1-32 1 31 1 35 1-27 1 0 1-49 1 44 1 43 1-27 1 6 1-10 1 23 1-54 1-24 1 49 1 37 1-48 1-35 1 74 1-25 1-6 1 0 1 15 1-13 1 15 1 2 1-39 1 12 1-56 1-6 1 72 1 16 1-55 1 20 1-14 1 107 1-49 1-109 1 114 1-50 1 21 1-10 1-19 1 22 1 16 1 30 1 5 1-82 1 70 1-32 1-18 1-72 1 60 1 37 1-12 1 28 1-55 1 43 1-69 1 29 1-14 1 44 1-78 1 46 1 10 1 23 1-7 1-25 1 63 1-89 1 38 1 45 1-59 1 45 1 11 1-2 1 9 1 0 1-15 1 3 1-72 1-7 1 36 1 23 1-4 1-13 1-50 1 25 1 39 1-7 1-35 1 42 1-23 1 72 1-43 1-98 1 94 1-8 1 45 1-89 1 24 1-70 1 88 1-60 1 77 1 8 1-54 1 11 1 56 1-165 1 183 1-48 1 4 1-47 1 22 1-38 1 35 1 8 1-32 1 17 1-9 1 48 1-25 1 2 1 0 1 59 1-35 1-23 1-13 1 29 1 7 1-29 1 44 1-19 1-16 1 27 1-33 1 27 1-36 1 10 1-89 1 130 1 44 1-86 1 38 1-27 1-17 1 36 1 21 1-34 1 4 1-18 1 42 1-23 1 28 1-64 1-11 1 61 1-21 1 7 1-6 1-16 1 23 1-38 1 34 1-35 1 16 1-41 1 45 1 88 1-81 1-29 1 58 1-20 1-20 1 55 1-43 1 3 1-36 1 16 1 48 1-7 1-11 1-1 1-13 1 8 1 13 1-56 1-30 1 50 1 5 1-8 1 30 1 52 1-56 1-5 1 11 1-35 1 33 1-27 1 27 1-17 1-13 1 29 1 5 1-27 1-2 1-6 1 27 1 2 1-9 1 3 1 9 1-35 1 0 1 15 1-45 1 33 1 15 1-10 1 77 1-68 1-42 1 49 1 39 1-93 1 105 1-83 1 47 1-6 1 27 1-52 1 49 1-28 1 0 1-44 1-16 1 18 1 30 1 21 1-45 1 39 1-59 1-18 1 68 1-33 1 15 1 54 1-78 1 48 1-34 1 53 1-16 1-8 1-5 1-25 1-19 1 58 1 2 1-32 1 43 1-16 1-13 1 17 1 12 1-41 1 0 1 40 1-19 1 10 1-6 1 23 1-29 1 37 1-45 1 23 1-10 1-30 1 18 1 14 1-31 1 16 1 11 1-2 1-21 1 15 1 14 1-5 1-53 1 79 1-17 1 1 1-2 1-27 1 24 1-36 1 44 1 3 1-46 1-5 1 3 1 16 1 27 1-21 1-7 1 32 1-8 1-47 1 32 1 6 1 11 1-23 1-36 1 53 1-3 1-16 1 33 1-64 1 37 1-11 1 45 1-32 1-66 1 52 1 42 1-46 1 43 1-22 1-4 1 15 1 8 1-10 1-6 1 14 1-60 1 49 1-1 1-2 1-29 1 4 1 3 1 38 1-22 1 20 1-37 1 16 1 17 1-14 1 32 1-33 1 8 1-20 1 9 1-15 1 31 1-40 1 43 1-18 1-42 1 77 1-29 1-17 1 17 1-13 1 23 1-38 1 15 1-4 1 23 1-7 1-7 1 13 1-13 1-32 1 114 1-95 1 33 1-28 1 1 1 25 1-56 1 34 1-11 1 47 1-19 1 7 1-17 1 39 1-51 1 25 1 9 1 56 1-85 1 13 1-5 1-2 1 36 1 0 1-29 1 10 1-15 1-7 1 25 1-6 1 24 1-7 1-50 1 29 1 3 1-51 1 107 1-61 1 15 1-23 1 1 1-5 1-12 1-7 1 41 1-8 1 25 1-55 1 37 1-15 1 56 1-49 1 15 1-24 1 4 1 26 1-19 1-6 1 13 1-25 1 19 1-37 1 27 1-35 1 9 1 65 1-67 1 31 1-9 1 17 1-5 1-10 1 29 1-97 1 74 1-22 1 26 1-19 1 31 1-34 1 33 1-45 1 22 1-44 1 72 1-37 1 39 1-27 1-9 1 6 1 9 1 41 1-44 1-4 1 14 1-26 1 18 1-14 1-26 1 53 1 25 1-54 1 5 1 25 1-45 1 55 1-19 1 16 1-13 1-39 1 29 1-31 1 55 1-24 1 13 1-8 1-36 1 41 1-13 1 25 1-9 1-16 1-42 1 80 1-57 1 49 1-66 1 93 1-70 1 3 1 36 1-71 1 38 1-30 1 46 1 31 1-15 1-43 1 84 1-36 1-64 1 39 1 49 1-11 1-24 1 13 1-18 1 34 1-55 1 11 1-17 1 6 1 10 1-19 1 38 1-16 1-37 1 36 1-5 1 6 1-5 1 24 1-8 1-37 1 26 1-28 1 55 1-40 1 17 1-42 1 26 1 2 1-2 1 40 1-20 1 3 1-15 1 23 1 4 1-16 1 15 1-27 1 8 1 20 1-14 1 31 1 37 1-90 1-15 1-7 1 59 1-36 1 36 1-8 1-5 1-87 1 94 1-39 1 1 1 33 1-24 1 24 1-18 1-4 1-26 1 33 1 20 1-42 1 25 1-38 1 48 1 9 1-17 1-27 1 20 1 7 1 3 1-1 1-16 1 3 1-6 1-2 1 27 1 44 1-63 1 2 1 1 1 14 1-87 1 99 1-12 1-31 1 29 1 3 1-38 1 18 1 3 1 43 1-22 1-14 1-19 1 20 1 15 1-17 1-8 1-13 1 23 1 10 1 22 1-19 1-35 1 6 1-2 1 10 1 7 1-17 1 10 1 41 1-8 1-14 1-83 1 74 1-18 1 21 1 19 1-8 1-30 1-7 1 22 1 11 1-15 1 14 1-27 1-1 1 33 1-11 1-35 1 27 1-6 1 1 1 33 1-59 1 18 1 4 1 7 1 4 1-50 1 38 1-19 1 36 1 24 1-36 1 3 1-5 1 24 1-26 1 28 1 9 1-29 1-3 1-1 1 2 1 35 1-35 1-64 1 74 1-24 1-1 1 13 1 22 1-6 1-21 1 61 1-28 1-29 1 53 1-38 1-22 1-19 1 52 1-21 1 9 1-7 1-24 1-6 1 36 1-13 1 12 1-4 1-12 1 30 1-7 1-2 1-28 1 57 1-83 1 38 1 5 1-8 1 3 1 14 1-2 1-7 1 11 1-41 1 14 1 14 1-19 1 26 1-22 1 0 1 35 1-15 1-3 1 19 1-21 1-13 1-7 1 21 1 5 1 3 1-3 1-67 1 62 1-7 1 13 1-9 1 5 1-32 1 18 1 31 1-27 1 18 1-19 1 12 1-10 1-11 1 19 1 21 1-28 1 0 1 37 1-43 1 12 1-18 1 38 1-15 1-8 1-8 1 28 1-22 1-1 1-5 1 21 1-30 1 12 1 40 1-15 1-3 1-14 1 12 1-13 1-9 1 9 1 0 1 5 1 5 1-5 1-9 1 19 1-41 1 53 1-35 1 3 1-4 1 15 1-20 1 32 1-29 1 10 1 15 1-12 1 5 1 15 1-41 1 1 1-11 1 33 1-61 1 97 1-65 1 22 1 8 1-9 1-10 1-24 1 50 1 0 1-9 1 2 1-27 1 35 1-7 1 8 1 8 1-28 1 41 1-59 1 27 1-5 1-5 1 32 1-19 1-4 1-13 1 8 1-18 1 32 1 7 1-73 1 64 1-8 1-25 1 17 1 12 1-31 1 55 1-15 1 3 1-20 1 8 1 19 1-80 1 17 1 47 1-41 1 89 1-35 1-6 1 17 1-64 1 16 1 42 1-88 1 77 1-46 1 67 1-23 1-98 1 92 1-33 1 23 1 55 1-10 1-32 1-17 1 43 1-21 1-28 1 32 1-23 1-12 1 29 1 36 1-36 1-64 1 25 1 35 1 18 1-31 1 14 1 1 1 3 1-18 1 7 1-15 1 14 1 8 1 22 1-75 1 72 1-6 1-57 1 54 1 3 1-20 1 12 1 68 1-87 1 2 1 33 1-33 1-7 1 34 1-31 1 12 1-15 1 2 1 60 1-26 1-18 1-13 1 28 1-50 1 61 1-31 1 18 1-71 1 66 1-111 1 118 1-4 1-14 1 18 1-77 1 48 1-15 1 23 1-48 1-30 1 89 1 33 1-75 1 81 1-22 1-47 1-20 1 26 1 31 1-52 1 79 1-19 1-46 1-27 1 14 1 40 1 27 1-24 1 23 1 1 1-62 1 48 1-63 1 21 1-10 1 4 1-20 1-14 1 65 1 4 1 6 1-23 1 17 1-7 1-28 1 62 1-21 1 3 1 6 1 25 1-97 1 59 1-25 1 35 1-26 1 12 1 4 1 15 1 14 1-29 1 0 1-68 1 75 1-15 1 68 1 27 1-111 1 28 1 11 1-99 1 104 1-57 1 2 1 0 1 9 1 4 1-4 1 15 1-6 1 17 1-11 1 12 1-54 1-4 1 6 1 29 1 19 1-39 1 73 1-51 1-12 1 0 1 53 1-58 1-15 1 84 1-89 1 78 1-8 1-37 1 19 1-20 1-5 1 17 1-48 1 22 1 115 1-118 1 33 1 16 1-9 1 9 1-58 1 79 1-55 1-1 1 20 1-17 1 22 1 30 1-57 1 25 1 20 1-96 1 42 1 3 1 17 1 28 1-35 1 4 1 25 1-39 1-3 1 7 1-22 1 50 1 11 1 29 1-36 1-23 1-6 1-19 1 53 1-19 1 72 1-58 1 2 1 22 1-54 1 25 1-48 1 10 1-35 1 84 1-9 1-18 1-9 1 24 1 33 1-32 1 26 1-50 1 109 1-133 1 92 1-45 1-42 1 122 1-99 1 75 1-3 1-63 1-52 1 107 1-65 1 8 1-24 1 26 1 57 1-76 1-8 1 29 1-78 1 93 1-26 1 12 1 2 1 105 1-98 1 26 1-27 1 10 1-7 1-39 1 34 1-16 1 30 1-42 1 7 1 81 1-86 1-20 1 40 1-42 1 48 1 39 1-75 1 54 1-34 1 10 1 11 1 30 1-68 1 69 1-15 1-17 1-43 1 54 1-54 1 62 1-12 1-21 1 24 1 31 1-33 1-23 1-41 1-9 1 26 1 54 1 8 1-25 1-49 1-7 1 50 1 114 1-53 1-48 1-36 1-32 1 27 1 0 1-53 1 53 1 46 1 6 1-22 1 68 1-88 1 54 1-27 1-12 1 9 1-18 1 27 1-34 1 44 1-15 1-56 1 49 1-33 1 45 1-35 1 28 1-12 1-16 1 46 1 8 1 5 1-45 1-25 1 53 1-63 1 3 1 13 1 19 1-2 1 54 1-32 1 29 1-72 1 37 1-60 1 15 1 43 1-65 1 168 1-127 1 7 1 15 1 3 1 20 1-34 1 15 1 3 1 13 1-24 1 22 1-7 1 1 1-6 1 39 1-86 1 42 1-7 1 43 1 16 1-13 1-25 1-15 1-7 1-16 1 4 1 28 1-43 1-3 1 22 1-10 1 51 1-77 1 55 1-44 1 65 1-18 1 44 1-96 1 54 1 1 1-37 1 50 1-42 1 40 1-63 1 46 1-29 1 10 1 31 1-71 1 102 1-55 1-5 1 11 1 6 1-34 1 14 1 29 1 36 1-110 1 32 1 11 1-6 1 72 1-94 1-49 1 74 1 50 1 46 1-84 1 21 1 59 1-50 1 2 1-3 1-40 1 31 1-26 1 21 1 61 1-81 1-22 1 23 1-26 1 31 1 35 1-8 1-45 1-24 1 55 1 2 1-3 1 35 1-40 1-35 1 73 1-16 1-30 1 24 1-10 1 19 1-15 1 3 1-25 1 26 1-5 1-40 1 40 1-55 1 25 1-39 1 74 1-8 1 5 1 85 1-147 1 138 1-49 1-55 1-36 1-3 1 2 1 24 1 20 1 45 1-2 1-52 1 60 1-20 1-34 1-22 1 44 1 5 1-83 1 89 1-58 1 55 1-42 1-60 1 60 1-21 1 55 1 17 1-128 1 88 1 4 1 20 1 64 1-51 1-16 1 54 1-21 1-41 1-77 1 5 1 127 1-39 1 7 1-19 1-22 1 27 1-7 1-12 1 1 1-91 1 114 1-79 1 79 1-79 1 41 1 59 1-28 1-31 1 42 1-95 1-16 1 60 1 20 1-2 1-6 1 22 1-53 1 53 1 77 1-58 1-2 1 82 1-111 1 18 1 3 1-56 1 62 1-49 1 33 1-32 1 14 1 21 1 7 1 36 1 21 1-70 1-25 1 74 1-20 1-56 1-42 1 74 1-17 1-53 1 40 1 27 1 63 1-66 1-13 1 0 1 1 1-15 1 50 1 22 1-22 1-25 1-14 1 80 1-62 1-35 1-13 1 37 1 4 1 53 1-44 1-27 1-5 1 28 1 8 1-14 1-15 1 42 1-5 1-13 1-29 1 32 1-32 1 15 1 37 1-61 1 10 1-58 1 37 1 53 1-14 1 41 1-41 1-12 1 65 1-22 1-10 1-27 1 22 1-13 1 6 1-9 1 10 1-3 1-8 1-50 1 73 1-24 1-6 1-18 1 16 1 21 1 2 1-6 1 11 1 0 1 20 1-20 1 5 1 22 1-7 1-66 1 19 1 23 1 37 1-57 1 1 1 9 1-33 1 59 1-109 1 99 1-8 1-35 1 20 1 6 1-8 1-15 1 34 1-18 1 17 1 10 1 70 1-95 1-23 1 41 1 5 1-37 1 5 1 5 1 50 1-25 1 7 1-65 1 47 1 24 1-19 1-44 1 65 1-54 1 2 1 59 1-38 1 23 1-107 1 89 1 29 1 4 1-18 1 40 1-48 1-54 1 28 1 2 1 20 1 15 1 8 1-53 1 24 1 11 1 34 1-35 1 18 1-45 1 57 1-41 1-6 1 22 1-14 1 0 1-50 1 32 1 28 1 1 1-3 1-26 1 27 1 22 1 25 1-102 1 77 1-24 1-7 1 51 1-43 1-25 1 27 1 5 1-62 1 77 1-93 1 37 1 57 1-31 1 11 1 62 1-13 1-101 1 60 1-20 1 24 1 4 1-13 1 0 1-13 1-44 1 68 1-13 1-17 1 54 1-16 1-22 1 10 1-7 1-51 1 42 1-35 1 21 1 3 1 46 1-48 1-13 1 24 1 23 1-9 1 6 1-65 1 62 1-36 1 0 1 49 1-39 1-38 1 39 1 47 1-30 1-8 1 47 1-43 1-1 1-6 1-4 1-14 1 42 1-30 1 66 1-85 1 47 1-8 1-25 1 60 1-90 1-2 1 12 1 28 1-20 1-65 1 54 1 22 1-19 1 14 1 11 1 43 1-26 1-48 1 40 1-46 1 67 1 43 1-46 1-30 1-19 1-19 1 30 1 14 1 71 1-33 1-14 1-44 1 6 1 6 1 12 1 4 1-58 1-4 1 33 1 15 1 13 1-5 1 13 1 80 1-66 1 23 1-31 1-9 1 14 1-37 1 30 1-55 1 52 1-6 1-50 1 114 1-89 1 11 1-32 1 35 1 17 1 84 1-115 1 72 1-4 1-51 1 15 1 3 1 4 1-34 1 45 1-38 1 50 1-37 1-40 1 19 1 45 1-26 1 22 1-66 1 64 1-26 1-7 1-19 1 54 1 13 1-22 1-34 1 29 1-15 1-12 1 73 1-118 1 93 1-41 1 56 1-23 1-19 1 21 1-12 1 24 1 26 1-84 1 44 1-17 1 25 1-26 1 52 1-40 1-1 1-17 1 69 1-48 1 18 1-38 1 13 1 12 1 7 1 13 1-10 1 24 1 5 1-136 1 38 1 126 1-146 1 12 1 79 1-61 1 21 1 52 1-64 1-15 1 33 1 60 1-103 1 4 1 117 1-131 1 89 1-112 1 42 1 46 1-22 1 14 1-60 1 68 1-37 1-7 1 87 1-52 1 14 1-37 1-24 1 6 1 21 1 43 1-28 1-4 1 27 1-41 1 9 1-10 1 5 1 14 1 1 1 36 1-14 1-19 1-50 1 23 1 106 1-72 1-7 1-89 1 91 1-8 1 7 1 9 1-40 1 39 1 14 1-68 1 31 1-4 1 10 1 13 1 13 1-32 1-8 1 75 1-66 1 30 1-19 1-20 1 37 1 13 1-24 1 4 1 34 1-45 1 12 1-27 1 34 1 0 1 4 1-70 1-2 1 68 1-57 1 14 1 15 1 36 1 12 1-42 1-15 1 45 1-69 1 35 1-24 1 58 1-53 1 32 1-15 1 20 1 26 1-21 1-28 1 38 1-25 1-20 1 11 1 9 1-73 1 67 1 10 1-1 1-37 1 17 1 55 1-50 1 22 1-18 1-52 1 111 1-44 1-37 1-2 1 23 1 18 1-22 1-21 1 47 1-23 1-17 1-2 1 45 1-83 1 82 1 4 1-55 1-5 1 32 1-16 1 5 1 33 1-99 1 64 1-54 1 44 1 0 1 102 1-65 1-77 1 57 1-11 1 54 1-119 1 65 1 38 1 6 1-24 1 29 1 51 1-90 1-30 1 122 1-78 1-30 1 73 1-44 1 60 1-32 1-53 1 4 1 50 1-22 1 7 1 17 1-76 1 70 1 99 1-40 1-83 1-78 1 50 1 20 1 59 1-106 1 84 1 10 1-50 1 39 1 0 1-52 1 65 1-54 1 1 1-34 1 13 1 66 1-20 1-68 1 68 1-23 1-12 1-26 1 16 1 48 1 3 1-10 1 14 1-2 1-25 1-28 1 31 1 1 1-25 1-3 1 39 1 10 1 8 1-44 1-36 1 34 1-2 1 50 1 7 1-68 1 27 1 32 1-47 1 7 1 25 1-28 1-36 1 52 1 18 1-25 1 35 1-3 1-1 1-28 1 27 1-32 1 44 1-57 1 43 1-22 1-13 1 19 1-27 1 8 1 13 1 13 1-33 1 20 1 47 1-98 1 72 1-36 1-12 1 36 1-1 1 32 1-101 1 74 1-3 1 12 1-22 1 16 1 16 1-111 1 73 1 46 1-41 1-26 1 44 1-10 1-32 1 64 1-9 1 9 1 10 1-70 1 30 1-32 1-45 1 75 1-10 1-23 1-2 1-8 1 46 1-39 1 62 1-19 1 16 1-2 1-13 1-56 1 123 1-68 1 9 1-46 1 49 1-10 1-41 1 31 1 47 1-65 1 14 1 29 1-66 1 48 1 5 1-9 1 15 1-8 1 16 1-98 1 56 1 15 1-1 1-49 1 36 1 54 1-39 1-27 1 13 1 24 1-20 1 1 1-11 1 63 1-38 1 0 1 2 1-29 1 80 1-63 1-5 1 69 1-98 1-37 1 29 1 21 1 18 1 14 1-31 1 30 1-24 1-4 1 17 1-17 1 29 1-10 1 21 1-66 1 88 1-80 1 50 1 96 1-63 1-47 1 15 1-38 1 41 1-62 1 30 1 50 1-12 1-32 1 57 1-60 1 23 1-11 1 44 1-21 1-41 1 0 1 18 1 52 1-29 1-45 1-2 1 2 1-101 1 110 1 1 1 41 1-14 1-53 1 27 1 17 1 27 1-29 1 18 1-11 1 21 1-51 1-25 1 29 1-22 1 65 1-53 1 24 1-29 1-30 1 55 1-26 1 44 1 5 1 16 1-78 1 21 1-11 1-2 1 7 1 20 1 16 1 32 1-15 1-56 1 8 1 33 1 4 1 2 1 1 1-30 1 8 1 33 1-6 1-24 1-50 1 68 1-16 1-33 1 22 1 94 1-108 1 29 1-42 1-12 1-12 1-4 1 60 1 42 1-46 1 5 1 55 1-27 1-73 1 134 1-113 1 29 1-22 1 26 1-18 1 32 1-15 1-11 1-35 1 14 1 60 1-56 1-15 1-40 1 43 1 64 1-9 1-53 1 47 1 9 1 19 1-29 1 1 1-52 1 70 1-33 1 1 1 10 1 18 1-27 1-37 1 33 1-49 1 50 1-11 1 19 1-44 1 104 1-143 1 23 1 98 1-51 1-39 1 10 1-44 1 91 1-6 1 25 1-99 1 106 1-32 1 2 1-4 1-26 1 74 1-39 1 8 1-44 1 82 1-35 1-54 1 57 1-32 1 43 1-42 1-94 1 100 1-11 1-89 1 122 1-19 1-42 1 7 1-6 1-19 1 21 1 22 1 26 1-5 1 10 1-35 1 33 1 54 1-86 1 11 1-84 1 40 1 90 1 1 1-14 1-28 1-41 1 77 1 7 1-42 1 66 1-63 1 37 1-73 1 36 1-1 1 13 1 24 1-69 1 7 1 43 1-43 1 29 1-50 1-32 1 72 1 18 1-37 1 17 1-20 1 2 1 32 1-53 1-66 1 143 1-56 1 31 1-51 1 1 1 59 1 6 1 73 1-34 1-41 1-40 1 14 1 27 1-35 1 61 1 25 1-87 1 54 1-117 1 29 1 64 1-18 1 33 1-47 1-50 1 35 1 62 1-20 1-10 1-41 1 29 1-44 1 78 1-1 1 22 1-150 1 139 1-31 1 118 1-146 1-35 1 141 1-154 1 116 1-75 1 48 1-36 1 47 1-28 1-52 1 65 1-105 1 52 1 11 1 68 1-36 1 12 1-38 1 16 1-2 1 22 1-58 1 23 1 39 1-14 1 2 1 63 1-30 1-25 1 101 1-178 1 77 1-17 1 7 1 5 1 30 1-131 1 142 1-24 1 30 1-33 1-18 1 3 1-43 1-28 1 32 1-3 1 44 1-37 1 27 1-46 1 45 1 9 1 17 1-40 1-20 1 69 1-71 1 64 1 14 1-14 1-71 1 40 1-28 1 71 1-20 1 0 1-6 1-33 1 65 1-18 1 23 1-8 1-50 1-56 1 5 1-11 1 88 1 28 1-109 1 33 1 8 1 51 1-24 1 42 1-50 1-19 1 40 1 55 1-81 1 31 1-28 1-19 1 45 1-31 1 12 1 23 1-41 1-10 1-4 1 45 1-67 1 40 1 31 1-8 1 43 1-55 1-49 1 57 1-49 1-1 1 48 1 35 1 4 1-50 1 16 1-10 1 62 1-68 1-20 1 11 1 67 1-76 1 37 1-9 1 76 1-101 1 49 1-95 1 79 1 26 1-91 1 33 1 64 1-17 1-36 1 12 1 7 1-56 1 57 1-66 1 21 1-27 1 71 1 12 1 24 1-60 1 23 1-136 1 151 1-57 1 42 1 24 1-31 1 47 1-60 1 22 1-31 1-52 1 109 1-98 1 61 1-41 1 75 1-20 1 29 1-66 1 32 1-3 1 44 1-40 1-47 1 49 1-5 1-77 1 136 1-128 1 104 1 22 1-130 1 76 1 63 1-16 1-53 1 13 1-43 1 5 1-49 1 86 1 5 1 15 1-31 1-31 1 26 1-3 1 31 1 35 1-109 1 0 1 37 1 30 1-50 1 53 1 77 1-76 1 33 1-178 1 49 1 142 1-39 1 18 1-5 1-76 1 18 1 7 1 97 1-133 1 80 1 105 1-111 1-68 1 53 1-13 1-12 1-98 1 143 1-12 1-48 1-60 1 4 1 94 1 19 1-49 1-68 1 22 1 42 1-14 1 52 1-67 1 137 1-51 1-142 1 81 1 74 1-106 1 156 1-101 1 2 1 5 1 68 1-88 1 47 1-76 1 86 1-47 1 59 1-140 1 98 1 31 1-29 1 69 1-39 1-86 1 38 1 29 1-55 1-73 1 114 1-77 1 92 1 7 1-45 1-9 1 60 1-25 1-114 1 12 1 73 1 28 1 32 1-63 1 66 1-24 1-94 1 71 1 1 1 41 1-53 1-3 1 39 1-62 1 9 1 102 1-83 1 74 1-100 1 46 1-93 1 52 1-10 1-13 1 45 1-37 1 65 1 0 1-57 1 28 1 95 1-15 1-32 1-83 1-40 1 97 1 0 1 20 1 40 1-48 1-21 1-21 1 19 1 0 1-77 1 68 1-14 1 45 1-30 1-70 1 60 1 28 1-22 1 29 1 4 1 1 1-66 1-2 1 117 1-41 1-95 1 112 1-30 1 1 1-36 1 40 1-5 1-34 1-107 1 119 1 50 1-77 1 12 1-18 1 31 1-2 1-12 1 50 1 5 1-87 1 56 1 18 1 41 1-69 1-21 1 7 1 16 1-82 1 74 1 6 1 63 1-42 1-9 1-25 1-50 1 36 1 28 1 12 1-85 1 83 1-4 1-55 1 11 1 51 1 59 1-78 1-8 1 4 1 53 1-46 1 10 1 127 1-154 1 62 1-67 1 46 1-40 1-34 1 25 1 78 1-56 1-11 1 30 1 52 1-41 1-124 1 173 1-74 1 6 1-19 1-27 1 27 1-15 1 2 1 41 1 48 1-12 1-38 1-2 1 0 1-3 1-10 1-23 1 31 1-6 1-13 1 53 1-48 1-18 1 54 1-109 1 106 1-86 1 13 1 18 1 61 1-7 1-55 1 55 1-15 1-13 1 48 1 27 1-64 1-6 1-13 1 5 1-32 1 30 1 23 1-55 1 0 1 22 1-11 1 58 1-54 1 19 1-1 1-22 1 93 1-43 1-16 1 23 1-50 1 59 1 16 1 53 1-150 1 15 1 6 1 74 1 25 1-78 1-67 1 113 1-31 1-24 1-11 1-36 1 89 1-12 1-33 1 12 1 45 1-90 1 76 1-14 1-34 1 9 1 20 1-30 1 10 1-10 1 6 1 45 1 27 1-68 1 3 1-6 1 60 1 17 1-89 1 58 1-6 1-50 1 12 1 24 1-5 1 15 1-31 1 23 1-2 1 19 1-96 1 63 1-40 1 16 1 0 1 79 1-49 1-11 1 36 1-20 1-40 1 32 1 11 1 18 1-44 1-28 1 74 1-29 1-25 1-13 1 52 1 57 1-50 1 8 1-18 1-5 1 17 1-19 1 7 1-9 1-41 1 44 1-32 1 76 1-40 1 26 1-20 1-35 1 24 1 10 1-28 1-8 1 1 1 41 1-14 1 26 1 27 1-49 1-13 1 35 1-56 1-7 1 65 1-46 1 28 1-25 1-2 1 64 1-63 1-6 1-3 1-31 1 54 1 31 1 0 1-57 1 48 1-72 1 53 1 4 1-28 1 24 1-28 1 26 1-22 1 31 1 0 1-24 1 9 1 16 1-88 1 85 1 8 1-17 1-38 1 60 1-18 1-19 1 27 1 2 1 38 1-18 1-81 1 38 1-8 1-14 1 9 1-7 1-21 1 27 1-13 1 15 1 20 1-48 1 29 1 16 1 3 1 24 1 18 1-31 1-17 1 15 1-4 1-1 1-34 1-55 1 74 1 18 1-14 1 36 1-12 1-5 1 6 1-7 1 17 1-80 1 51 1-3 1-5 1-42 1 25 1 67 1-56 1 38 1-34 1 38 1 4 1-40 1 59 1 21 1-108 1 34 1-16 1 62 1-77 1 47 1 57 1-79 1 35 1-93 1-21 1 88 1-48 1 40 1 7 1-43 1 37 1 18 1 41 1-44 1-18 1-3 1 34 1 10 1-21 1-25 1 20 1 0 1-9 1 108 1-117 1 7 1 13 1-53 1 22 1 0 1 47 1-51 1 12 1 61 1-23 1 29 1 54 1-139 1 22 1-13 1 22 1 50 1-99 1 18 1 33 1 17 1 14 1-35 1 34 1-16 1-8 1 29 1-17 1-15 1-36 1 72 1-10 1-20 1-92 1 164 1-126 1 6 1 49 1 10 1-19 1 39 1-49 1-66 1 77 1 16 1-23 1-12 1-42 1 71 1-30 1 22 1-26 1-36 1 86 1-35 1 4 1 38 1-35 1-8 1 32 1-1 1-72 1 74 1-20 1-27 1 36 1-11 1-10 1-77 1 58 1 33 1-29 1 75 1-54 1-4 1-1 1-2 1-8 1 8 1-37 1 4 1 19 1 30 1-13 1-23 1 43 1 59 1-57 1-81 1 30 1 54 1-130 1 111 1 3 1 21 1-16 1-49 1 32 1 7 1 4 1-5 1-10 1 56 1-80 1 91 1-33 1-62 1 2 1-15 1 29 1 36 1-67 1 179 1-95 1-30 1-99 1 130 1-20 1-5 1-10 1 21 1-4 1-3 1-14 1 9 1-13 1-7 1 37 1-45 1 78 1-29 1 13 1-71 1 38 1-12 1 60 1-47 1 5 1-12 1 28 1-78 1 25 1-11 1 48 1 15 1-30 1 16 1-33 1 30 1-18 1 21 1-9 1-45 1 20 1 44 1 43 1-83 1 18 1 16 1-16 1-51 1 29 1-22 1 47 1-27 1-23 1 51 1-9 1-15 1 29 1 10 1 0 1-30 1-3 1-8 1-44 1 51 1 14 1 22 1-20 1-22 1 48 1-43 1-3 1 29 1-4 1-67 1 26 1 52 1 7 1-19 1 16 1-13 1-25 1-48 1 96 1-41 1 14 1-35 1 42 1-41 1 34 1 1 1 19 1-45 1 41 1 42 1-56 1 8 1 21 1-47 1 68 1-59 1 89 1-86 1 25 1 11 1-25 1-46 1 38 1-25 1 28 1 41 1-41 1-9 1 32 1-40 1-3 1 41 1 2 1-34 1-17 1 32 1-17 1 2 1-14 1 40 1-23 1-34 1 23 1-32 1 41 1-3 1-7 1 36 1-15 1 3 1 27 1-23 1 31 1-37 1-40 1 26 1-19 1 23 1 18 1-66 1 47 1 4 1-15 1 31 1-17 1 29 1-88 1 35 1 29 1 3 1-16 1 11 1-25 1-15 1 50 1-13 1-26 1 21 1 0 1-3 1 23 1-24 1 23 1 35 1-37 1-14 1 56 1-55 1 39 1-54 1 73 1-47 1 27 1-38 1 21 1-21 1-3 1 57 1-71 1 41 1-30 1 31 1-18 1-17 1 10 1-22 1 17 1 7 1 1 1-37 1-1 1 77 1-72 1 3 1 25 1 9 1-4 1 6 1-14 1 15 1-26 1-6 1 21 1 13 1-40 1 53 1-16 1 12 1 4 1-11 1-1 1 5 1-13 1-3 1 44 1-45 1 34 1-46 1 14 1 65 1-30 1-64 1 40 1-54 1 48 1-7 1-31 1 65 1-62 1 19 1 32 1 28 1-79 1 34 1-32 1-2 1-11 1 11 1-29 1 65 1 0 1-33 1 37 1-7 1 18 1 11 1-8 1-29 1 13 1-20 1 37 1-48 1-25 1 50 1 4 1-52 1 17 1 57 1-5 1-41 1-4 1 25 1-1 1-18 1-5 1 43 1-33 1-16 1 25 1-4 1 24 1-64 1 5 1 28 1 76 1-60 1-8 1 38 1-26 1-24 1 70 1-59 1-23 1 15 1-52 1 77 1-35 1-5 1-41 1 64 1 5 1 17 1-56 1 3 1 13 1 38 1-41 1 76 1-40 1 28 1-37 1-8 1-8 1 3 1 72 1-43 1 36 1-50 1 24 1 0 1-9 1 40 1 4 1-69 1-6 1 13 1 16 1-59 1 22 1-12 1-30 1 57 1-2 1 14 1-22 1-18 1 34 1-9 1 9 1-7 1 25 1-27 1 5 1 62 1-47 1 9 1 14 1-21 1 10 1-47 1 27 1-16 1 5 1 30 1-29 1 11 1-22 1 20 1 30 1-70 1 12 1 34 1-1 1-8 1 14 1-32 1 27 1-19 1-14 1-31 1 69 1 16 1-19 1 10 1-13 1-17 1-26 1 41 1-14 1-11 1-4 1 51 1-58 1 24 1 35 1-37 1-5 1 12 1-26 1 42 1-19 1 16 1-20 1 18 1-15 1-1 1 6 1-41 1 59 1-21 1-5 1 6 1 8 1-26 1-13 1 30 1 40 1-26 1-26 1 76 1-72 1 1 1-15 1 48 1-50 1 76 1-44 1 1 1-26 1 37 1-14 1 27 1-35 1-6 1 33 1-28 1 17 1-26 1-3 1 21 1-12 1-1 1-22 1 44 1-34 1 47 1-52 1 5 1 0 1 25 1 3 1 84 1-86 1 7 1 2 1-11 1 19 1-48 1 16 1 9 1-4 1 24 1-4 1-1 1-14 1-2 1 16 1-36 1 10 1 16 1-18 1 15 1 23 1-53 1 18 1 7 1-5 1-14 1 51 1-3 1-25 1 9 1-8 1 0 1-4 1-17 1 44 1 41 1-55 1-12 1 12 1 23 1-62 1-1 1 26 1 20 1-29 1 22 1-22 1 23 1-32 1 55 1-30 1 13 1 7 1-46 1 36 1-27 1 4 1-18 1 18 1 6 1 15 1-18 1 7 1 19 1-41 1 28 1-9 1-3 1 17 1-21 1 7 1 5 1 9 1 14 1 11 1-41 1 2 1 32 1-43 1 12 1-11 1 39 1-104 1 108 1 9 1-42 1 38 1-50 1-7 1 46 1-41 1 3 1 40 1-2 1-28 1 2 1 42 1-45 1-9 1-6 1 29 1-1 1-28 1 33 1-73 1 81 1-76 1 41 1 39 1-39 1-6 1 26 1 20 1-14 1-11 1 24 1-44 1-1 1 7 1 20 1-10 1 5 1 25 1-22 1-51 1 49 1-6 1 19 1 34 1-63 1 0 1 25 1 13 1 61 1-74 1 3 1 32 1-60 1 35 1 4 1-35 1-71 1 93 1-44 1 38 1 3 1 14 1 4 1-17 1-20 1-25 1 27 1-2 1 9 1 34 1-85 1 50 1 33 1-54 1 32 1 25 1-60 1-10 1 28 1-14 1 31 1-3 1 8 1-7 1-50 1 26 1 38 1-29 1-100 1 64 1 36 1-51 1 63 1-13 1 38 1-11 1-41 1 68 1-96 1 3 1 31 1-16 1 42 1-25 1 38 1-26 1 19 1 42 1-56 1-55 1 29 1 18 1 46 1-25 1-16 1-16 1 28 1-30 1 37 1 37 1-59 1 29 1-12 1-42 1 47 1-18 1-21 1 14 1 4 1 8 1-36 1 66 1-10 1-26 1 68 1-111 1 85 1-53 1-26 1 29 1-7 1 30 1-11 1-4 1-15 1 18 1-95 1 61 1 62 1-57 1 12 1 46 1-62 1 41 1-80 1 87 1-13 1 1 1 1 1-16 1-4 1 26 1-9 1 27 1-13 1 0 1 5 1 12 1-39 1 15 1 28 1-22 1-60 1 65 1-31 1 9 1 2 1 9 1 13 1-102 1 56 1 26 1-21 1-14 1 24 1 21 1-1 1-10 1 29 1-46 1 29 1 63 1-74 1 12 1-34 1 51 1-46 1-14 1-13 1 38 1-34 1 52 1-18 1 12 1 2 1 1 1-18 1-39 1 62 1-26 1 18 1-10 1 14 1-18 1-29 1 3 1 13 1 11 1-13 1 23 1-11 1 15 1 37 1-8 1-11 1-60 1 16 1 24 1 4 1 25 1-29 1 24 1-48 1 16 1-2 1 51 1-45 1-21 1 75 1-53 1 19 1-33 1-8 1 11 1 11 1-29 1 17 1-49 1 46 1 59 1-68 1 50 1 26 1-57 1 12 1-1 1-17 1-4 1-46 1 39 1 8 1 48 1-5 1-17 1-4 1-9 1 78 1-46 1 1 1-59 1 6 1-5 1 39 1-1 1-6 1-27 1 15 1 43 1 30 1-86 1 40 1-54 1 57 1-35 1-1 1 87 1-72 1 44 1-18 1-63 1 36 1 23 1-87 1 68 1 8 1-13 1 16 1-14 1 4 1 20 1-97 1 84 1 37 1-3 1-34 1-24 1-4 1 16 1-72 1 19 1 77 1-7 1 9 1-3 1-7 1-16 1-55 1 14 1 41 1 56 1-37 1-13 1-47 1-10 1 54 1 10 1-6 1-21 1 39 1-70 1 30 1-7 1 55 1 20 1 5 1-84 1 6 1-10 1 22 1-11 1-23 1 55 1-67 1 72 1-38 1 12 1 35 1-16 1-35 1 43 1-4 1-36 1-57 1 5 1 41 1 44 1 39 1-76 1 56 1 10 1-7 1-11 1 21 1-52 1 25 1-10 1-84 1 120 1-7 1-4 1-87 1 85 1-104 1 61 1 40 1-57 1-3 1 38 1 13 1-38 1 53 1-28 1 63 1-133 1 67 1 47 1-9 1-94 1 36 1 20 1-9 1-38 1 85 1-45 1 74 1-111 1 41 1 13 1 20 1-38 1 71 1-44 1-4 1-3 1-43 1 28 1-42 1 29 1 30 1-14 1-16 1-5 1 58 1-84 1 24 1 40 1-52 1-28 1 87 1-9 1-78 1 64 1-17 1 44 1-45 1 9 1 22 1-41 1 20 1 19 1-48 1 11 1 101 1-3 1-120 1 1 1 95 1 1 1-83 1 10 1-79 1 28 1 60 1-12 1-25 1 30 1-109 1 30 1 163 1-92 1 60 1-36 1 23 1 4 1-20 1 23 1-34 1 29 1-112 1 80 1 11 1-31 1-42 1 19 1 96 1 23 1-74 1-34 1 32 1-75 1 85 1-12 1 20 1 4 1 11 1-13 1-13 1-23 1 52 1 15 1-20 1-51 1 33 1 18 1-86 1 62 1-1 1 20 1 41 1-65 1 65 1-49 1 23 1 3 1-30 1-7 1 25 1-54 1 63 1-9 1-12 1-48 1 71 1-40 1-93 1 67 1 80 1-61 1 42 1-48 1 45 1-31 1 2 1 73 1-96 1-2 1 22 1-67 1 92 1 37 1-78 1 47 1 25 1 10 1-76 1-25 1 63 1-55 1 143 1-117 1-38 1 94 1-18 1-90 1 12 1 77 1 1 1-50 1 0 1 7 1 31 1 1 1 2 1-104 1 138 1-67 1-27 1 51 1-42 1 59 1-17 1-12 1-7 1 43 1-59 1 45 1 2 1-88 1 98 1-121 1 127 1-86 1 87 1-62 1 24 1-47 1 57 1-5 1-21 1 30 1-45 1 51 1-50 1-25 1 101 1-119 1 99 1-52 1 38 1-29 1-21 1-56 1 97 1-44 1 87 1-42 1-24 1 25 1-9 1-6 1 0 1-15 1-13 1 31 1 40 1-33 1-18 1 13 1-28 1 39 1 20 1 11 1 27 1-115 1 68 1 3 1 4 1-97 1 87 1-34 1-31 1 52 1-22 1 11 1-32 1 44 1 33 1-52 1 68 1-82 1 73 1-88 1 19 1 18 1 12 1-12 1 114 1-121 1 2 1 12 1 11 1-36 1 57 1-32 1-4 1 19 1-49 1 23 1-45 1-9 1 69 1 11 1-94 1 14 1 24 1 50 1 56 1-107 1-20 1 79 1-30 1-40 1 72 1-1 1-65 1 23 1 46 1-8 1-55 1 67 1-35 1 49 1-42 1 8 1-27 1-37 1 57 1 17 1 0 1-8 1-53 1 52 1-80 1 38 1 80 1-51 1-24 1-50 1 54 1-2 1 16 1 28 1-23 1-3 1 21 1 36 1 40 1-69 1-54 1-6 1-33 1 77 1 0 1-23 1-24 1 56 1 28 1-78 1 55 1-102 1 48 1 41 1 5 1 0 1-16 1 55 1-20 1-77 1 39 1 11 1-12 1 32 1-18 1 55 1-40 1 4 1-8 1 62 1-101 1 5 1 12 1 7 1-13 1 28 1 32 1-29 1-62 1 41 1-31 1 12 1-12 1 46 1-8 1-19 1 5 1 59 1-104 1 38 1 51 1 34 1-118 1 10 1 17 1 25 1-36 1-8 1-38 1 49 1 2 1 30 1 75 1-113 1 2 1-30 1-38 1 126 1-61 1-23 1 25 1-25 1 73 1 126 1-143 1-52 1 51 1 21 1 20 1-134 1 32 1 88 1-22 1-27 1 51 1 24 1-7 1-26 1 10 1-68 1 75 1-45 1 35 1-74 1 90 1-16 1-56 1 46 1-58 1 61 1-62 1 97 1-49 1-25 1-24 1 66 1-4 1-34 1-4 1 40 1-52 1 38 1 45 1-91 1 77 1 20 1-154 1 125 1-38 1 21 1-70 1 67 1 49 1-32 1-21 1 18 1-26 1-15 1-34 1-66 1 70 1-20 1 26 1 50 1-1 1 30 1-30 1-15 1-84 1 107 1 0 1-47 1 55 1-30 1-97 1 129 1-7 1 7 1-71 1 18 1 59 1-39 1 17 1 51 1-78 1 53 1-49 1 0 1 28 1-17 1 32 1-55 1-39 1 85 1-37 1-4 1 4 1 63 1-45 1 31 1 11 1-103 1 42 1-5 1-42 1 29 1 51 1-25 1-34 1 62 1 9 1 12 1-119 1 58 1 60 1-1 1-24 1-6 1-4 1-56 1 21 1-34 1 85 1-6 1-26 1 22 1-4 1-16 1-8 1 107 1-63 1-2 1-22 1 46 1-89 1 59 1 72 1-81 1-46 1 31 1-2 1-17 1 31 1 43 1-115 1 47 1 3 1 48 1-51 1-12 1 28 1 11 1 2 1 17 1-10 1 16 1 23 1-7 1-100 1 51 1-14 1 40 1-3 1 20 1-66 1 3 1 56 1-43 1 8 1-45 1 21 1-61 1 134 1-73 1 52 1 22 1-22 1-8 1 51 1-69 1-35 1 66 1-134 1 50 1 10 1 39 1 14 1-35 1 50 1-37 1-30 1 24 1 11 1 21 1-17 1 14 1 18 1-68 1 40 1-41 1-6 1 48 1 7 1-27 1 11 1-46 1 35 1 64 1-24 1 11 1 9 1-68 1 31 1 36 1-7 1 1 1-55 1 6 1 12 1 18 1 4 1-64 1 50 1 3 1-33 1 52 1 5 1-35 1 38 1-51 1-9 1-6 1-13 1 24 1 24 1-32 1 12 1 51 1 33 1-80 1 15 1 19 1-20 1-55 1 45 1 3 1 14 1 11 1-100 1 74 1-20 1 33 1 24 1-43 1 27 1 27 1 27 1-22 1-51 1-3 1-28 1 66 1 0 1-15 1 43 1-100 1-34 1 85 1-40 1-20 1 67 1-73 1 84 1-3 1 36 1-88 1 8 1 80 1-59 1 0 1 69 1-71 1-17 1 96 1-17 1-87 1 64 1-49 1 37 1-25 1-17 1 14 1 26 1-20 1 18 1-26 1 28 1 28 1-64 1 1 1-34 1 61 1 14 1-42 1-11 1 8 1 55 1-67 1 49 1-25 1 13 1 17 1-35 1 51 1-60 1 16 1 20 1-48 1 31 1 10 1 10 1-18 1-15 1-5 1-10 1 15 1 35 1-47 1 25 1-53 1 37 1 49 1-97 1 44 1 10 1-10 1-1 1 33 1-2 1-35 1-31 1 37 1-30 1 57 1-28 1 64 1 17 1-31 1-13 1-37 1 88 1-72 1-30 1 66 1-35 1 34 1-31 1-10 1 6 1 4 1-15 1 8 1 36 1-24 1-6 1-16 1 11 1 12 1-49 1 29 1 16 1-16 1-5 1 54 1-55 1-1 1-12 1-24 1 46 1-8 1 27 1-12 1-29 1 22 1 34 1-49 1 12 1 28 1-2 1-14 1 58 1-55 1-5 1-29 1-13 1 63 1-11 1-3 1-1 1-28 1 33 1 19 1 3 1 33 1-61 1-24 1 58 1-63 1 40 1-11 1 17 1-51 1 7 1 29 1-35 1 38 1-53 1 33 1-20 1 36 1-15 1 0 1 19 1-9 1 19 1-38 1 11 1-9 1-3 1 23 1-27 1 61 1-63 1 23 1-7 1-22 1 11 1-15 1 102 1-59 1-5 1 1 1-8 1 44 1-22 1-7 1 3 1-23 1 30 1-51 1 44 1-15 1 24 1 17 1-75 1 30 1 43 1 7 1-22 1-28 1-23 1 24 1-8 1 34 1 4 1-5 1-53 1-3 1 43 1 2 1-58 1-6 1 21 1 48 1-38 1 12 1 10 1-24 1 94 1-42 1-39 1 68 1-74 1-9 1 12 1-15 1 46 1-28 1-7 1-13 1-24 1 7 1 71 1-43 1-32 1-5 1 44 1 26 1 51 1-80 1-23 1 41 1-2 1 48 1-21 1-37 1-12 1 17 1 17 1-34 1-30 1 51 1-5 1-7 1 20 1 26 1-22 1 51 1-15 1-12 1-35 1-8 1-18 1 48 1 27 1-121 1 82 1-30 1 35 1-30 1-15 1 5 1-47 1 54 1 16 1-4 1-18 1 41 1-12 1 43 1-8 1 29 1-88 1-21 1 75 1 9 1-17 1-18 1-16 1-7 1-5 1 15 1 50 1-8 1-44 1-20 1 81 1-79 1 38 1-33 1 66 1-26 1-92 1 15 1 53 1-8 1 23 1-25 1 26 1-91 1 120 1-24 1 8 1-47 1 73 1-68 1 12 1-5 1-42 1 43 1-12 1-3 1-24 1 78 1-68 1 11 1 49 1-31 1-31 1 67 1-22 1 8 1 9 1-6 1-33 1-2 1 61 1-38 1-2 1-77 1 90 1-1 1-32 1 8 1 4 1-60 1 146 1-95 1 29 1-31 1-5 1 25 1-8 1-8 1 35 1-29 1-22 1 40 1 5 1 40 1 12 1-64 1 23 1-32 1 0 1-1 1 50 1-11 1-15 1 14 1-40 1-35 1 26 1 1 1-35 1 28 1 11 1 9 1 60 1-37 1-44 1 7 1-15 1 66 1-34 1 26 1-24 1 28 1-15 1-5 1 74 1-131 1 43 1-2 1 3 1 17 1-24 1-45 1 113 1-33 1-19 1-27 1-6 1 14 1 7 1-25 1 54 1-63 1 72 1-8 1 2 1-42 1 36 1-17 1 35 1-57 1-29 1 61 1-92 1 120 1-63 1 20 1-9 1 0 1 5 1-3 1-30 1 32 1 7 1 18 1-30 1 15 1-1 1 5 1-40 1 33 1-39 1-8 1 49 1-3 1 6 1-10 1-5 1 26 1-35 1 18 1-1 1 13 1-22 1 9 1-8 1 35 1 2 1-35 1 36 1-52 1 48 1-32 1 45 1-13 1-48 1 39 1 10 1-17 1 12 1-6 1 9 1-9 1-82 1 54 1-4 1 57 1-61 1-22 1 52 1 21 1-10 1-25 1 6 1-65 1 71 1-28 1 29 1 25 1-27 1 4 1 24 1-22 1 1 1-27 1 28 1 6 1-53 1 12 1-8 1 37 1-9 1-3 1 8 1 23 1-51 1 0 1-18 1 23 1 39 1-17 1-14 1 44 1-30 1-22 1-14 1 67 1-47 1-1 1-3 1-3 1 34 1-25 1 12 1 9 1-10 1-7 1-15 1 7 1 42 1-44 1 23 1 5 1-3 1-40 1 44 1-27 1-19 1 31 1 6 1-4 1 34 1-69 1 18 1 30 1-3 1 8 1-16 1 11 1 33 1-25 1-31 1 18 1-11 1-9 1 44 1-23 1 0 1 1 1 0 1 4 1-33 1 12 1-36 1 37 1 31 1-32 1-3 1 10 1 24 1-49 1 24 1-16 1 32 1-44 1 5 1 95 1-56 1 3 1-27 1 24 1-39 1 21 1 24 1 0 1 11 1 12 1-60 1 39 1-23 1 55 1-35 1 1 1 37 1-28 1-29 1 0 1-22 1 20 1 35 1-18 1-20 1 28 1-19 1 2 1-21 1 58 1-27 1-21 1-13 1 37 1-29 1 28 1-4 1-4 1-14 1-33 1 51 1-17 1 75 1-101 1 22 1-5 1 18 1-34 1 40 1-22 1 29 1-13 1 7 1 26 1 23 1-72 1 11 1 31 1-72 1 64 1 32 1-52 1-7 1 20 1-27 1 43 1-3 1-67 1 88 1-53 1-47 1 75 1-21 1 11 1-29 1 30 1 25 1-25 1-37 1 3 1 21 1-17 1 10 1 23 1-15 1-27 1 46 1 29 1-11 1-43 1 5 1 10 1-6 1-11 1-17 1 43 1 24 1-26 1 7 1-59 1 39 1-59 1 71 1-22 1 1 1 32 1-62 1 28 1 18 1 23 1-52 1 29 1-6 1 29 1-24 1 11 1-37 1 7 1-31 1 1 1 45 1-27 1 13 1-26 1-2 1 52 1-32 1 21 1-43 1 19 1-44 1 63 1-2 1 28 1-27 1-53 1 22 1-5 1 60 1-20 1-8 1-20 1-17 1 46 1 2 1-55 1 1 1-38 1 3 1 116 1-15 1-61 1 65 1-74 1 75 1 10 1-24 1-33 1 39 1-24 1-3 1 75 1-85 1-14 1 13 1-43 1 113 1-52 1 91 1-73 1-15 1 22 1-23 1 46 1-37 1-44 1-6 1 12 1 5 1 1 1 25 1-23 1-60 1 82 1 26 1-62 1 21 1 4 1 58 1-51 1 4 1 21 1-72 1 65 1-3 1 16 1-41 1 33 1-73 1 98 1-23 1-11 1 69 1-99 1 65 1-19 1 10 1-34 1 7 1-21 1 84 1-92 1 26 1-17 1 29 1-71 1 29 1 1 1 23 1 28 1-96 1 79 1 16 1 69 1-69 1 43 1-135 1 53 1 36 1 7 1-59 1-7 1 17 1 13 1 21 1-42 1 49 1-63 1 38 1-7 1 18 1 48 1-5 1-6 1-59 1 7 1-32 1 7 1 7 1 23 1-94 1 107 1-13 1 3 1-30 1 5 1 89 1-42 1-77 1 82 1 60 1-63 1 7 1-128 1 48 1 32 1 63 1-83 1 70 1-26 1-18 1-42 1 23 1 9 1 39 1-57 1 60 1 20 1-77 1 51 1-16 1 13 1-18 1 2 1 55 1-101 1 81 1-103 1 126 1-36 1-22 1 3 1 105 1-82 1-35 1 53 1-51 1 8 1-7 1 17 1 26 1-76 1 41 1 39 1-78 1 81 1 10 1-118 1 66 1-93 1 110 1 18 1 5 1-113 1 14 1 36 1 55 1-2 1-99 1 31 1 15 1 58 1 15 1-67 1-9 1-59 1 107 1-58 1 36 1-10 1 1 1 23 1-66 1 75 1 9 1-54 1 9 1 16 1-15 1 2 1 22 1-47 1 85 1-50 1 19 1-53 1 114 1-69 1 31 1-85 1 37 1-23 1 49 1-19 1-9 1-38 1 37 1-4 1-27 1 41 1-97 1 103 1-12 1-3 1 0 1 18 1-1 1 14 1 5 1 61 1-97 1-15 1 21 1 21 1 0 1-66 1 60 1-8 1-6 1-15 1-7 1-8 1 36 1-5 1-46 1 95 1-27 1-9 1 1 1-66 1 71 1-20 1-4 1-55 1 79 1 38 1-85 1 9 1 35 1 14 1-105 1 52 1 29 1-139 1 205 1-58 1-26 1-17 1 38 1 41 1-33 1-19 1-6 1 11 1-59 1 23 1 59 1-13 1 32 1-57 1 52 1 5 1-61 1-2 1 30 1 9 1 6 1-72 1 20 1 40 1-15 1 30 1-4 1-10 1 56 1-93 1-10 1 23 1 69 1-91 1 10 1-59 1 81 1 8 1 19 1-56 1 0 1 65 1-48 1-13 1 42 1-103 1 55 1 34 1 29 1-86 1 72 1-16 1 41 1-54 1 42 1 39 1-195 1 173 1-57 1 33 1-90 1 64 1 11 1 8 1 53 1-84 1-5 1-22 1-37 1 71 1 47 1-90 1 76 1 5 1 56 1-67 1-112 1 118 1-19 1-4 1 30 1 59 1-49 1-69 1-26 1 57 1 80 1-96 1-71 1 86 1-76 1 77 1 119 1-75 1 7 1-57 1 56 1-8 1-70 1 101 1-115 1-5 1 93 1 47 1-78 1-11 1-57 1 17 1-6 1 95 1-109 1-20 1 82 1-9 1-68 1 85 1-18 1-36 1 71 1-73 1 27 1-7 1 27 1 52 1-72 1-28 1 46 1-54 1 55 1 3 1 18 1-20 1-51 1 33 1 25 1 3 1 16 1-46 1-15 1 30 1 32 1-59 1-5 1 86 1-95 1 89 1-76 1 72 1-25 1-44 1-98 1 106 1-9 1 11 1 83 1-85 1-10 1 82 1-1 1-59 1-10 1-8 1 17 1-2 1-5 1 13 1 18 1-56 1 76 1-34 1-41 1 50 1-6 1-87 1 192 1-127 1-6 1 42 1 42 1-85 1-92 1 82 1-14 1 16 1 62 1-20 1 1 1 4 1-27 1 0 1-81 1 43 1 105 1-84 1-5 1 16 1 29 1-34 1 47 1-2 1-38 1-37 1 82 1-75 1 43 1-40 1 0 1 43 1-6 1-18 1 51 1-75 1 9 1 29 1-20 1 29 1 10 1-30 1 5 1-19 1 9 1-23 1 25 1 5 1-43 1 37 1 52 1-95 1 20 1 3 1 8 1 59 1-19 1-3 1 50 1-77 1 17 1-4 1-11 1 25 1 39 1-50 1 2 1-61 1 76 1-50 1 3 1 40 1-44 1 0 1-23 1 61 1-16 1-41 1 45 1 32 1 7 1-48 1 10 1 81 1-46 1-26 1 0 1 3 1 26 1-10 1-59 1 7 1 52 1-7 1 48 1-82 1 45 1-84 1 27 1 18 1 6 1 14 1 24 1-24 1 4 1-13 1-19 1 30 1-23 1 87 1-67 1-35 1 48 1-12 1 4 1-38 1 13 1-56 1 89 1 12 1-10 1-17 1 52 1-28 1-31 1 10 1 22 1 25 1-27 1-3 1-37 1 11 1 18 1-75 1 88 1 7 1 5 1-7 1-37 1 12 1-26 1-16 1 58 1-48 1 29 1 36 1-47 1-15 1 34 1-55 1 39 1-2 1 12 1-7 1-50 1 68 1-39 1 36 1-36 1-2 1 36 1-16 1 37 1 0 1 9 1-40 1 27 1-52 1 30 1-75 1 79 1-53 1 70 1-15 1 13 1-21 1-6 1-24 1 49 1-37 1 29 1 23 1-13 1 0 1-31 1 34 1-28 1 45 1-66 1 23 1-27 1 35 1 38 1-98 1 75 1-62 1 35 1 18 1 10 1-8 1-54 1-16 1 43 1-17 1 36 1-29 1 9 1 8 1 33 1-35 1-16 1 27 1-4 1 62 1-41 1-25 1-16 1 33 1-25 1-3 1 64 1-135 1 79 1 45 1-25 1-36 1 29 1-15 1 43 1-94 1 47 1-9 1 35 1-27 1 25 1 82 1-84 1-10 1 5 1-17 1 26 1 0 1-8 1 7 1-30 1-18 1 14 1 21 1 27 1-65 1 9 1 37 1-56 1 39 1-28 1 81 1-77 1 16 1 14 1-47 1 36 1 36 1-74 1 47 1 6 1-6 1 30 1-15 1-18 1 39 1-33 1 9 1-1 1-21 1-21 1 13 1 0 1 43 1-11 1 53 1-80 1-10 1 27 1 13 1 11 1 4 1-33 1-25 1 39 1-83 1 51 1 44 1-10 1 2 1 2 1-15 1 2 1-11 1 12 1 19 1 40 1-73 1-14 1 45 1-18 1-10 1-15 1 20 1-45 1 58 1 46 1 4 1-53 1-53 1 24 1 83 1-81 1-10 1-36 1 24 1 116 1-59 1 0 1-53 1 38 1 64 1-61 1-3 1-40 1 14 1 38 1-51 1 40 1-14 1 80 1-89 1 16 1-3 1 0 1 24 1 2 1 28 1-5 1-22 1-67 1 34 1 52 1-13 1 17 1-37 1-38 1-17 1 60 1 9 1 4 1-16 1-18 1-54 1 141 1-85 1 41 1-41 1 4 1 11 1-24 1 32 1-15 1-13 1-21 1 32 1 37 1-64 1-25 1 37 1 15 1-6 1 6 1-27 1 5 1 52 1-10 1-68 1 54 1-6 1-21 1-4 1 33 1 99 1-108 1-59 1 104 1-79 1 27 1-4 1 53 1-58 1 74 1-62 1 3 1 2 1 37 1-62 1 5 1 16 1 36 1-36 1-3 1 36 1-8 1-17 1-28 1 29 1-67 1 121 1-96 1 43 1 33 1-24 1-12 1 11 1-21 1-38 1 69 1 1 1-20 1-27 1 10 1-19 1 22 1-4 1 7 1 18 1 30 1-83 1 66 1-37 1 44 1-27 1 7 1-111 1 98 1 19 1-54 1 13 1 33 1-25 1-57 1 34 1 37 1 31 1 16 1-78 1 31 1 21 1 15 1-69 1 39 1-2 1-46 1 41 1-2 1 13 1 9 1-17 1-26 1 7 1 47 1-74 1 30 1 18 1-17 1-2 1-3 1-17 1 22 1 82 1-99 1 28 1-3 1 16 1-42 1-21 1 44 1 8 1 6 1 11 1-36 1 38 1-45 1 34 1-14 1 42 1 25 1-54 1 27 1-20 1 18 1 2 1-30 1 3 1-16 1 52 1-21 1-25 1 40 1-67 1 12 1 48 1-36 1 9 1 39 1-17 1-71 1 40 1 22 1-28 1 9 1 28 1-12 1-14 1-2 1 18 1 11 1-4 1-14 1-11 1 31 1-62 1 49 1-34 1 24 1-12 1-1 1-6 1 21 1 9 1-10 1 12 1-67 1 37 1 19 1-5 1-7 1 5 1 20 1 28 1-61 1-5 1 6 1 30 1-18 1 21 1-35 1 24 1 19 1-31 1 30 1-15 1 22 1-31 1-35 1 49 1-42 1 48 1-25 1 1 1 21 1-53 1 22 1 18 1-3 1 21 1 15 1-42 1-30 1 50 1-43 1 30 1-11 1 34 1-15 1 7 1-14 1-13 1 7 1 17 1-24 1-20 1 41 1-14 1-23 1 9 1 34 1 13 1-6 1-18 1-7 1-37 1 20 1-44 1 71 1-25 1 34 1-29 1 22 1 8 1-29 1 18 1 27 1-42 1 2 1-49 1 69 1 7 1-16 1-16 1 10 1-1 1 31 1-28 1 23 1-36 1 29 1-18 1 6 1-11 1 14 1 37 1-56 1 5 1 52 1-40 1 8 1-4 1 10 1-25 1-12 1-6 1 21 1-7 1-7 1 46 1-38 1 7 1-50 1 68 1-12 1-2 1-50 1 49 1 20 1-15 1 7 1-35 1 16 1 21 1-45 1 45 1 22 1-16 1-67 1 72 1-28 1-9 1 2 1 32 1-29 1-35 1 61 1-20 1 16 1-8 1-14 1 21 1-48 1 16 1 51 1-63 1 20 1-39 1 45 1-41 1 61 1-46 1-27 1 39 1 42 1-61 1 37 1 21 1-25 1-2 1 15 1-71 1 62 1-9 1-18 1 17 1 5 1-46 1 71 1-52 1 30 1-9 1-4 1 9 1 0 1 12 1-36 1 47 1-35 1 13 1 16 1-60 1 81 1-19 1-32 1-27 1 29 1 4 1-2 1 27 1-99 1 97 1-62 1 68 1 30 1-73 1-19 1 59 1 19 1-25 1-34 1 17 1-23 1 148 1-111 1 63 1-84 1 46 1-30 1 45 1-16 1 67 1-82 1-29 1 27 1-11 1-53 1 109 1-2 1-63 1 43 1-49 1-44 1-26 1 97 1-9 1 20 1-83 1 54 1-14 1 10 1 46 1-27 1-7 1-57 1 62 1 65 1-58 1 96 1-133 1 21 1 56 1-37 1-89 1 18 1 31 1 20 1 61 1-93 1-44 1 7 1 96 1 44 1-20 1-69 1 8 1 13 1-22 1 2 1 31 1-19 1 14 1-80 1 113 1-65 1 25 1-5 1 71 1-59 1 18 1 39 1-89 1 46 1-58 1 84 1-117 1-40 1 45 1 90 1-37 1-43 1 72 1 2 1-32 1 22 1 30 1-96 1-1 1 53 1 1 1 24 1 0 1-50 1 6 1 65 1-14 1-41 1 88 1-104 1 14 1-6 1 49 1-72 1 43 1 51 1 5 1-10 1-89 1 91 1-100 1 53 1 30 1-84 1 66 1-38 1 43 1 5 1-28 1 19 1 53 1-72 1-71 1 111 1-7 1-15 1-15 1-4 1-45 1 9 1 36 1-13 1 22 1-33 1 65 1-19 1-86 1 101 1-27 1 26 1 19 1-66 1 118 1-67 1-12 1-11 1-55 1 45 1-106 1 107 1-5 1 30 1-47 1 14 1 61 1-46 1-24 1 10 1-25 1 48 1-20 1-28 1 76 1-68 1 16 1 54 1-28 1 0 1-73 1 111 1-43 1-35 1 3 1 48 1-84 1 58 1-117 1 185 1-149 1 60 1-2 1 26 1 17 1-28 1 32 1 96 1-178 1-27 1 175 1-76 1-24 1-53 1 59 1-96 1 148 1-38 1-71 1 31 1 12 1 21 1 108 1-109 1 34 1-111 1 95 1 31 1-14 1-53 1-30 1 59 1-75 1 78 1 10 1-15 1-64 1 89 1-23 1-127 1 95 1 39 1 45 1-40 1-13 1-4 1-59 1 49 1-5 1-12 1 26 1-35 1 45 1 53 1-47 1-46 1-124 1 115 1 35 1 11 1 6 1 22 1-34 1-20 1-2 1 31 1-21 1-33 1 49 1-113 1 104 1 26 1-32 1 26 1-84 1 30 1 35 1 95 1-111 1 38 1-6 1-45 1-9 1 13 1 71 1-52 1-25 1 83 1-40 1-19 1-59 1 17 1 49 1-37 1-9 1 56 1-12 1 14 1-37 1-41 1 54 1 72 1-92 1 128 1-88 1-53 1 72 1-79 1 51 1-23 1-10 1 100 1-56 1-47 1-33 1 118 1-48 1-52 1 3 1 70" stroke="#1371BA" stroke-width="1.0" fill="none" stroke-linejoin="round"/>
<path d="M126.00 318V283.0M128.00 318V295.0M132.70 318V294.0M141.00 318V259.0M148.20 318V273.5M151.40 318V277.0M156.10 318V291.0M163.90 318V277.0M175.70 318V286.0M181.50 318V295.0M190.20 318V289.6M193.20 318V300.0M195.50 318V299.0M206.60 318V287.7M213.80 318V288.0M216.40 318V290.0M223.60 318V259.0M231.30 318V298.0M243.20 318V268.0M255.70 318V288.0M256.20 318V288.5M261.60 318V296.4M264.50 318V289.1M269.50 318V299.2M274.70 318V182.9M278.60 318V291.5M282.50 318V292.6M285.00 318V297.6M291.90 318V301.0M300.80 318V300.7M304.10 318V293.4M307.60 318V299.2M310.00 318V301.0M318.60 318V301.0M325.50 318V302.2M329.30 318V139.9M332.80 318V152.5M334.60 318V280.9M337.40 318V299.8M346.20 318V302.8M354.10 318V292.3M359.20 318V290.8M366.10 318V154.8M378.50 318V292.3M386.90 318V286.5M394.10 318V301.0M391.20 318V303.3M398.70 318V291.9M399.50 318V158.1M402.60 318V245.3M405.30 318V279.7M409.10 318V301.3M413.90 318V261.4M416.20 318V298.0M417.90 318V271.3M425.10 318V301.8M428.10 318V299.5M431.50 318V297.2M434.70 318V286.5M439.10 318V283.5M451.60 318V267.5M456.00 318V296.4M458.30 318V292.6M464.70 318V305.6M477.70 318V292.6M480.00 318V285.0M483.30 318V268.2M486.10 318V307.0M492.90 318V297.2M497.50 318V294.1M502.90 318V265.2M505.10 318V288.0M511.20 318V298.0M513.50 318V302.5M525.40 318V292.6M528.50 318V267.1M531.10 318V301.0M536.60 318V106.5M538.00 318V298.7M542.10 318V262.1M543.00 318V276.6M547.10 318V304.0M549.90 318V286.0M554.00 318V297.2M557.00 318V276.3M560.10 318V290.8M562.80 318V300.2M571.80 318V288.3M575.00 318V291.1M578.40 318V299.2M584.50 318V279.2M589.10 318V287.0M599.30 318V289.3M603.50 318V300.7M611.90 318V301.0M615.00 318V303.3M623.70 318V291.1M624.60 318V139.5M629.00 318V282.0M637.30 318V160.0M644.30 318V291.1M649.10 318V250.1M651.30 318V296.7M655.00 318V290.0M661.80 318V302.2M666.90 318V304.8M673.40 318V289.6M674.20 318V141.3M676.00 318V293.4M680.90 318V270.0M682.10 318V291.1M687.40 318V283.1M690.50 318V293.1M698.40 318V289.6M708.80 318V272.3M710.30 318V299.2M715.20 318V282.2M718.40 318V293.1M722.50 318V291.1M728.90 318V272.8M730.40 318V292.1M732.70 318V294.1M737.00 318V274.3M743.10 318V280.4M747.70 318V290.8M757.90 318V289.1M761.40 318V271.6M768.20 318V283.8M772.40 318V290.0M780.40 318V267.1M783.00 318V291.4M793.10 318V141.3M794.20 318V277.0M797.70 318V274.8M798.40 318V267.1M801.00 318V303.3M126.00 332V367.0M132.70 332V356.8M141.00 332V389.0M148.20 332V380.0M151.40 332V373.9M156.10 332V357.8M163.90 332V376.4M175.70 332V365.5M190.20 332V364.0M193.20 332V357.0M206.60 332V362.0M213.80 332V362.4M216.40 332V362.4M223.60 332V390.6M231.30 332V357.0M243.20 332V377.7M255.70 332V359.4M263.80 332V357.0M267.70 332V366.5M270.00 332V355.5M274.70 332V465.3M278.60 332V359.4M282.80 332V367.0M304.10 332V357.4M310.20 332V350.2M316.30 332V353.3M329.30 332V509.2M332.90 332V508.6M337.40 332V355.2M353.80 332V359.4M358.70 332V349.5M366.20 332V505.6M378.20 332V354.8M386.90 332V362.4M391.50 332V348.7M395.30 332V348.0M398.70 332V366.2M399.50 332V509.6M402.60 332V403.6M405.70 332V372.3M413.90 332V387.6M416.70 332V356.3M417.90 332V373.9M427.80 332V352.5M431.50 332V352.5M434.70 332V354.3M439.10 332V360.9M451.60 332V382.2M458.20 332V357.8M473.10 332V354.0M478.50 332V364.0M480.70 332V363.2M483.30 332V379.2M496.80 332V354.8M502.90 332V379.2M505.10 332V361.7M511.20 332V357.8M525.00 332V357.8M528.50 332V383.8M536.60 332V513.0M542.10 332V375.4M549.90 332V364.7M557.00 332V373.1M560.10 332V360.1M571.80 332V361.3M575.00 332V359.4M585.00 332V380.7M589.10 332V380.0M599.30 332V362.4M611.90 332V349.5M624.60 332V509.4M629.00 332V364.7M637.30 332V509.4M644.30 332V356.8M649.10 332V399.0M653.90 332V362.4M661.80 332V354.8M666.90 332V349.4M673.40 332V360.9M674.20 332V508.5M680.30 332V369.3M687.40 332V357.0M690.50 332V356.8M698.40 332V361.3M708.80 332V367.0M715.20 332V366.5M718.40 332V356.3M721.70 332V357.8M728.90 332V378.1M737.00 332V385.3M743.10 332V367.7M747.70 332V355.8M757.90 332V362.4M761.40 332V379.9M768.20 332V367.0M772.40 332V354.0M780.40 332V383.0M793.10 332V510.0M794.20 332V372.3M798.40 332V386.0M801.00 332V347.2" stroke="#1371BA" stroke-width="1.2" fill="none"/>
<path d="M125 325.4H802" stroke="#98603F" stroke-width="1.3"/>
</svg>
<svg width="959" height="577" viewBox="0 0 959 577" style="position:absolute;left:0;top:0">
<rect x="747.5" y="54.5" width="109" height="31" fill="#fff" stroke="#262626" stroke-width="1"/>
<path d="M750 62.5H791" stroke="#0072BD" stroke-width="1"/>
<path d="M750 77.5H791" stroke="#D95319" stroke-width="1"/>
</svg>
<div class="t" style="right:839.2px;top:36.00px;font-size:14px;letter-spacing:1.0px;transform:scaleX(0.8);transform-origin:100% 50%">0.025</div>
<div class="t" style="right:839.2px;top:130.00px;font-size:14px;letter-spacing:1.0px;transform:scaleX(0.8);transform-origin:100% 50%">0.02</div>
<div class="t" style="right:839.2px;top:224.00px;font-size:14px;letter-spacing:1.0px;transform:scaleX(0.8);transform-origin:100% 50%">0.0<svg viewBox="0 -1480 1139 1480" style="width:.556em;height:.7227em;vertical-align:baseline;overflow:visible"><path transform="scale(1 -1)" d="M763 0H583V1147Q518 1085 412 1023Q306 961 222 930V1104Q373 1175 486 1276Q599 1377 646 1472H763Z" fill="currentColor"/></svg>5</div>
<div class="t" style="right:839.2px;top:319.00px;font-size:14px;letter-spacing:1.0px;transform:scaleX(0.8);transform-origin:100% 50%">0.0<svg viewBox="0 -1480 1139 1480" style="width:.556em;height:.7227em;vertical-align:baseline;overflow:visible"><path transform="scale(1 -1)" d="M763 0H583V1147Q518 1085 412 1023Q306 961 222 930V1104Q373 1175 486 1276Q599 1377 646 1472H763Z" fill="currentColor"/></svg></div>
<div class="t" style="right:839.2px;top:413.00px;font-size:14px;letter-spacing:1.0px;transform:scaleX(0.8);transform-origin:100% 50%">0.005</div>
<div class="t" style="right:839.2px;top:507.00px;font-size:14px;letter-spacing:1.0px;transform:scaleX(0.8);transform-origin:100% 50%">0</div>
<div class="t" style="left:84.90px;width:80px;text-align:center;top:519px;font-size:14px;letter-spacing:1.0px;transform:scaleX(0.8);transform-origin:50% 50%">0</div>
<div class="t" style="left:234.20px;width:80px;text-align:center;top:519px;font-size:14px;letter-spacing:1.0px;transform:scaleX(0.8);transform-origin:50% 50%">0.5</div>
<div class="t" style="left:382.90px;width:80px;text-align:center;top:519px;font-size:14px;letter-spacing:1.0px;transform:scaleX(0.8);transform-origin:50% 50%"><svg viewBox="0 -1480 1139 1480" style="width:.556em;height:.7227em;vertical-align:baseline;overflow:visible"><path transform="scale(1 -1)" d="M763 0H583V1147Q518 1085 412 1023Q306 961 222 930V1104Q373 1175 486 1276Q599 1377 646 1472H763Z" fill="currentColor"/></svg></div>
<div class="t" style="left:531.20px;width:80px;text-align:center;top:519px;font-size:14px;letter-spacing:1.0px;transform:scaleX(0.8);transform-origin:50% 50%"><svg viewBox="0 -1480 1139 1480" style="width:.556em;height:.7227em;vertical-align:baseline;overflow:visible"><path transform="scale(1 -1)" d="M763 0H583V1147Q518 1085 412 1023Q306 961 222 930V1104Q373 1175 486 1276Q599 1377 646 1472H763Z" fill="currentColor"/></svg>.5</div>
<div class="t" style="left:679.70px;width:80px;text-align:center;top:519px;font-size:14px;letter-spacing:1.0px;transform:scaleX(0.8);transform-origin:50% 50%">2</div>
<div class="t" style="left:827.90px;width:80px;text-align:center;top:519px;font-size:14px;letter-spacing:1.0px;transform:scaleX(0.8);transform-origin:50% 50%">2.5</div>
<div class="t" style="left:840px;top:537px;font-size:13px">&times;<svg viewBox="0 -1480 1139 1480" style="width:.556em;height:.7227em;vertical-align:baseline;overflow:visible"><path transform="scale(1 -1)" d="M763 0H583V1147Q518 1085 412 1023Q306 961 222 930V1104Q373 1175 486 1276Q599 1377 646 1472H763Z" fill="currentColor"/></svg>0<sup style="font-size:9px;vertical-align:5px">4</sup></div>
<div class="t" style="left:439px;top:25px;font-size:14.5px;font-weight:bold">Time Differences</div>
<div class="t" style="left:67px;top:281.5px;font-size:14px;transform:rotate(-90deg);transform-origin:0 0">s</div>
<div class="t" style="left:794px;top:57px;font-size:12px">differences</div>
<div class="t" style="left:794px;top:71px;font-size:12px">mean</div>
</body></html>
